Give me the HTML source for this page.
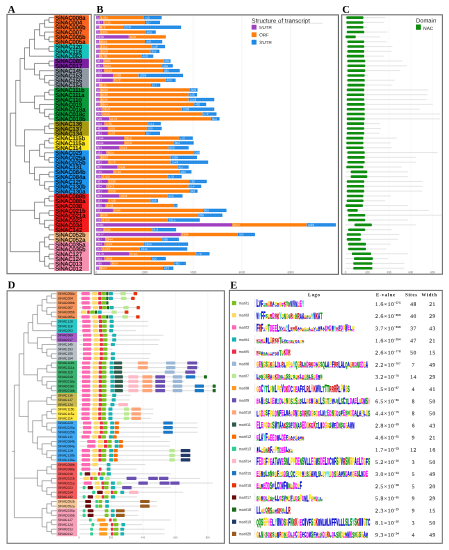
<!DOCTYPE html>
<html lang="en"><head><meta charset="utf-8"><title>SiNAC gene family: phylogeny, gene structure, domains and motifs</title>
<style>html,body{margin:0;padding:0;background:#fff}svg{display:block}</style></head>
<body>
<svg width="449" height="550" viewBox="0 0 449 550" text-rendering="geometricPrecision">
<rect width="449" height="550" fill="#fff"/>
<text x="7.8" y="12.7" transform="rotate(0.05 7.8 12.7)" font-family='"Liberation Serif", serif' font-weight="bold" font-size="10.4" fill="#000">A</text>
<rect x="54.1" y="15.20" width="34.8" height="29.01" fill="#fd6420"/>
<rect x="54.1" y="44.16" width="34.8" height="14.53" fill="#17c5bd"/>
<rect x="54.1" y="58.63" width="34.8" height="9.70" fill="#7b1fa2"/>
<rect x="54.1" y="68.29" width="34.8" height="19.35" fill="#8e99a4"/>
<rect x="54.1" y="87.59" width="34.8" height="33.83" fill="#0a9a3c"/>
<rect x="54.1" y="121.37" width="34.8" height="14.53" fill="#a89a10"/>
<rect x="54.1" y="135.85" width="34.8" height="14.53" fill="#ffe81a"/>
<rect x="54.1" y="150.33" width="34.8" height="43.48" fill="#1e96f0"/>
<rect x="54.1" y="193.76" width="34.8" height="38.66" fill="#f41c1c"/>
<rect x="54.1" y="232.37" width="34.8" height="9.70" fill="#f5b880"/>
<rect x="54.1" y="242.02" width="34.8" height="29.01" fill="#f78fb0"/>
<path d="M49.00 17.61L54.30 17.61M49.00 22.44L54.30 22.44M49.00 17.61L49.00 22.44M44.60 20.03L49.00 20.03M44.60 27.27L54.30 27.27M44.60 20.03L44.60 27.27M49.00 36.92L54.30 36.92M49.00 41.74L54.30 41.74M49.00 36.92L49.00 41.74M44.60 32.09L54.30 32.09M44.60 39.33L49.00 39.33M44.60 32.09L44.60 39.33M39.60 23.65L44.60 23.65M39.60 35.71L44.60 35.71M39.60 23.65L39.60 35.71M49.00 46.57L54.30 46.57M49.00 51.39L54.30 51.39M49.00 46.57L49.00 51.39M34.50 29.68L39.60 29.68M34.50 48.98L49.00 48.98M34.50 29.68L34.50 48.98M29.50 39.33L34.50 39.33M29.50 56.22L54.30 56.22M29.50 39.33L29.50 56.22M49.00 61.05L54.30 61.05M49.00 65.87L54.30 65.87M49.00 61.05L49.00 65.87M49.00 80.35L54.30 80.35M49.00 85.18L54.30 85.18M49.00 80.35L49.00 85.18M44.60 75.52L54.30 75.52M44.60 82.76L49.00 82.76M44.60 75.52L44.60 82.76M39.60 70.70L54.30 70.70M39.60 79.14L44.60 79.14M39.60 70.70L39.60 79.14M34.50 63.46L49.00 63.46M34.50 74.92L39.60 74.92M34.50 63.46L34.50 74.92M24.50 47.78L29.50 47.78M24.50 69.19L34.50 69.19M24.50 47.78L24.50 69.19M49.00 90.00L54.30 90.00M49.00 94.83L54.30 94.83M49.00 90.00L49.00 94.83M44.60 92.42L49.00 92.42M44.60 99.66L54.30 99.66M44.60 92.42L44.60 99.66M49.00 114.13L54.30 114.13M49.00 118.96L54.30 118.96M49.00 114.13L49.00 118.96M44.60 109.31L54.30 109.31M44.60 116.55L49.00 116.55M44.60 109.31L44.60 116.55M39.60 104.48L54.30 104.48M39.60 112.93L44.60 112.93M39.60 104.48L39.60 112.93M34.50 96.04L44.60 96.04M34.50 108.70L39.60 108.70M34.50 96.04L34.50 108.70M20.10 58.48L24.50 58.48M20.10 102.37L34.50 102.37M20.10 58.48L20.10 102.37M49.00 123.78L54.30 123.78M49.00 128.61L54.30 128.61M49.00 123.78L49.00 128.61M44.60 126.20L49.00 126.20M44.60 133.44L54.30 133.44M44.60 126.20L44.60 133.44M49.00 138.26L54.30 138.26M49.00 143.09L54.30 143.09M49.00 138.26L49.00 143.09M44.60 140.68L49.00 140.68M44.60 147.91L54.30 147.91M44.60 140.68L44.60 147.91M49.00 157.57L54.30 157.57M49.00 162.39L54.30 162.39M49.00 157.57L49.00 162.39M44.60 152.74L54.30 152.74M44.60 159.98L49.00 159.98M44.60 152.74L44.60 159.98M39.60 144.30L44.60 144.30M39.60 156.36L44.60 156.36M39.60 144.30L39.60 156.36M49.00 172.04L54.30 172.04M49.00 176.87L54.30 176.87M49.00 172.04L49.00 176.87M49.00 186.52L54.30 186.52M49.00 191.35L54.30 191.35M49.00 186.52L49.00 191.35M44.60 181.70L54.30 181.70M44.60 188.94L49.00 188.94M44.60 181.70L44.60 188.94M39.60 174.46L49.00 174.46M39.60 185.32L44.60 185.32M39.60 174.46L39.60 185.32M34.50 167.22L54.30 167.22M34.50 179.89L39.60 179.89M34.50 167.22L34.50 179.89M29.50 150.33L39.60 150.33M29.50 173.55L34.50 173.55M29.50 150.33L29.50 173.55M24.50 129.82L44.60 129.82M24.50 161.94L29.50 161.94M24.50 129.82L24.50 161.94M15.70 80.43L20.10 80.43M15.70 145.88L24.50 145.88M15.70 80.43L15.70 145.88M49.00 196.17L54.30 196.17M49.00 201.00L54.30 201.00M49.00 196.17L49.00 201.00M44.60 198.59L49.00 198.59M44.60 205.83L54.30 205.83M44.60 198.59L44.60 205.83M49.00 210.65L54.30 210.65M49.00 215.48L54.30 215.48M49.00 210.65L49.00 215.48M49.00 225.13L54.30 225.13M49.00 229.96L54.30 229.96M49.00 225.13L49.00 229.96M44.60 220.30L54.30 220.30M44.60 227.54L49.00 227.54M44.60 220.30L44.60 227.54M39.60 213.07L49.00 213.07M39.60 223.92L44.60 223.92M39.60 213.07L39.60 223.92M34.50 202.21L44.60 202.21M34.50 218.50L39.60 218.50M34.50 202.21L34.50 218.50M49.00 234.78L54.30 234.78M49.00 239.61L54.30 239.61M49.00 234.78L49.00 239.61M49.00 244.43L54.30 244.43M49.00 249.26L54.30 249.26M49.00 244.43L49.00 249.26M44.60 237.20L49.00 237.20M44.60 246.85L49.00 246.85M44.60 237.20L44.60 246.85M49.00 254.09L54.30 254.09M49.00 258.91L54.30 258.91M49.00 254.09L49.00 258.91M49.00 263.74L54.30 263.74M49.00 268.56L54.30 268.56M49.00 263.74L49.00 268.56M44.60 256.50L49.00 256.50M44.60 266.15L49.00 266.15M44.60 256.50L44.60 266.15M39.60 242.02L44.60 242.02M39.60 261.33L44.60 261.33M39.60 242.02L39.60 261.33M10.30 113.15L15.70 113.15M10.30 210.35L34.50 210.35M10.30 251.67L39.60 251.67M10.30 113.15L10.30 251.67M8.40 182.41L10.30 182.41" fill="none" stroke="#444" stroke-width="0.55"/>
<g font-family='"Liberation Sans", sans-serif' font-size="5.75" fill="#000" stroke="#000" stroke-width="0.15">
<text x="55.3" y="19.66" transform="rotate(0.05 55.3 19.66)">SiNAC008a</text>
<text x="55.3" y="24.49" transform="rotate(0.05 55.3 24.49)">SiNAC004</text>
<text x="55.3" y="29.32" transform="rotate(0.05 55.3 29.32)">SiNAC006b</text>
<text x="55.3" y="34.14" transform="rotate(0.05 55.3 34.14)">SiNAC007</text>
<text x="55.3" y="38.97" transform="rotate(0.05 55.3 38.97)">SiNAC005b</text>
<text x="55.3" y="43.79" transform="rotate(0.05 55.3 43.79)">SiNAC005a</text>
<text x="55.3" y="48.62" transform="rotate(0.05 55.3 48.62)">SiNAC120</text>
<text x="55.3" y="53.44" transform="rotate(0.05 55.3 53.44)">SiNAC118</text>
<text x="55.3" y="58.27" transform="rotate(0.05 55.3 58.27)">SiNAC053</text>
<text x="55.3" y="63.10" transform="rotate(0.05 55.3 63.10)">SiNAC089</text>
<text x="55.3" y="67.92" transform="rotate(0.05 55.3 67.92)">SiNAC017</text>
<text x="55.3" y="72.75" transform="rotate(0.05 55.3 72.75)">SiNAC145</text>
<text x="55.3" y="77.57" transform="rotate(0.05 55.3 77.57)">SiNAC153</text>
<text x="55.3" y="82.40" transform="rotate(0.05 55.3 82.40)">SiNAC155</text>
<text x="55.3" y="87.23" transform="rotate(0.05 55.3 87.23)">SiNAC154</text>
<text x="55.3" y="92.05" transform="rotate(0.05 55.3 92.05)">SiNAC111b</text>
<text x="55.3" y="96.88" transform="rotate(0.05 55.3 96.88)">SiNAC111a</text>
<text x="55.3" y="101.70" transform="rotate(0.05 55.3 101.70)">SiNAC110</text>
<text x="55.3" y="106.53" transform="rotate(0.05 55.3 106.53)">SiNAC019</text>
<text x="55.3" y="111.36" transform="rotate(0.05 55.3 111.36)">SiNAC018a</text>
<text x="55.3" y="116.18" transform="rotate(0.05 55.3 116.18)">SiNAC018c</text>
<text x="55.3" y="121.01" transform="rotate(0.05 55.3 121.01)">SiNAC018b</text>
<text x="55.3" y="125.83" transform="rotate(0.05 55.3 125.83)">SiNAC136</text>
<text x="55.3" y="130.66" transform="rotate(0.05 55.3 130.66)">SiNAC137</text>
<text x="55.3" y="135.49" transform="rotate(0.05 55.3 135.49)">SiNAC134</text>
<text x="55.3" y="140.31" transform="rotate(0.05 55.3 140.31)">SiNAC115b</text>
<text x="55.3" y="145.14" transform="rotate(0.05 55.3 145.14)">SiNAC115a</text>
<text x="55.3" y="149.97" transform="rotate(0.05 55.3 149.97)">SiNAC114</text>
<text x="55.3" y="154.79" transform="rotate(0.05 55.3 154.79)">SiNAC029</text>
<text x="55.3" y="159.62" transform="rotate(0.05 55.3 159.62)">SiNAC025a</text>
<text x="55.3" y="164.44" transform="rotate(0.05 55.3 164.44)">SiNAC025b</text>
<text x="55.3" y="169.27" transform="rotate(0.05 55.3 169.27)">SiNAC131</text>
<text x="55.3" y="174.09" transform="rotate(0.05 55.3 174.09)">SiNAC084b</text>
<text x="55.3" y="178.92" transform="rotate(0.05 55.3 178.92)">SiNAC084a</text>
<text x="55.3" y="183.75" transform="rotate(0.05 55.3 183.75)">SiNAC129</text>
<text x="55.3" y="188.57" transform="rotate(0.05 55.3 188.57)">SiNAC130b</text>
<text x="55.3" y="193.40" transform="rotate(0.05 55.3 193.40)">SiNAC130a</text>
<text x="55.3" y="198.22" transform="rotate(0.05 55.3 198.22)">SiNAC088b</text>
<text x="55.3" y="203.05" transform="rotate(0.05 55.3 203.05)">SiNAC088a</text>
<text x="55.3" y="207.88" transform="rotate(0.05 55.3 207.88)">SiNAC038</text>
<text x="55.3" y="212.70" transform="rotate(0.05 55.3 212.70)">SiNAC021b</text>
<text x="55.3" y="217.53" transform="rotate(0.05 55.3 217.53)">SiNAC021a</text>
<text x="55.3" y="222.35" transform="rotate(0.05 55.3 222.35)">SiNAC023</text>
<text x="55.3" y="227.18" transform="rotate(0.05 55.3 227.18)">SiNAC034</text>
<text x="55.3" y="232.01" transform="rotate(0.05 55.3 232.01)">SiNAC142</text>
<text x="55.3" y="236.83" transform="rotate(0.05 55.3 236.83)">SiNAC052b</text>
<text x="55.3" y="241.66" transform="rotate(0.05 55.3 241.66)">SiNAC052a</text>
<text x="55.3" y="246.48" transform="rotate(0.05 55.3 246.48)">SiNAC035a</text>
<text x="55.3" y="251.31" transform="rotate(0.05 55.3 251.31)">SiNAC035b</text>
<text x="55.3" y="256.14" transform="rotate(0.05 55.3 256.14)">SiNAC127</text>
<text x="55.3" y="260.96" transform="rotate(0.05 55.3 260.96)">SiNAC124</text>
<text x="55.3" y="265.79" transform="rotate(0.05 55.3 265.79)">SiNAC013</text>
<text x="55.3" y="270.62" transform="rotate(0.05 55.3 270.62)">SiNAC012</text>
</g>
<rect x="7.00" y="14.40" width="84.20" height="259.30" fill="none" stroke="#6e6e6e" stroke-width="1.1"/>
<text x="96.6" y="12.7" transform="rotate(0.05 96.6 12.7)" font-family='"Liberation Serif", serif' font-weight="bold" font-size="10.4" fill="#000">B</text>
<line x1="144.5" y1="15" x2="144.5" y2="270" stroke="#ececec" stroke-width="0.5"/>
<line x1="193.2" y1="15" x2="193.2" y2="270" stroke="#ececec" stroke-width="0.5"/>
<line x1="241.9" y1="15" x2="241.9" y2="270" stroke="#ececec" stroke-width="0.5"/>
<line x1="290.6" y1="15" x2="290.6" y2="270" stroke="#ececec" stroke-width="0.5"/>
<rect x="96.20" y="15.93" width="3.92" height="3.35" fill="#a040c0"/>
<rect x="100.12" y="15.93" width="43.43" height="3.35" fill="#ff7f0e"/>
<rect x="143.55" y="15.93" width="18.10" height="3.35" fill="#1e88e5"/>
<line x1="150.05" y1="17.61" x2="160.85" y2="17.61" stroke="#fff" stroke-opacity="0.32" stroke-width="0.5" stroke-dasharray="0.8 0.9"/>
<rect x="96.20" y="20.75" width="6.99" height="3.35" fill="#a040c0"/>
<rect x="103.19" y="20.75" width="41.76" height="3.35" fill="#ff7f0e"/>
<rect x="144.95" y="20.75" width="15.03" height="3.35" fill="#1e88e5"/>
<line x1="151.45" y1="22.43" x2="159.18" y2="22.43" stroke="#fff" stroke-opacity="0.32" stroke-width="0.5" stroke-dasharray="0.8 0.9"/>
<rect x="96.20" y="25.57" width="3.37" height="3.35" fill="#a040c0"/>
<rect x="99.57" y="25.57" width="23.66" height="3.35" fill="#ff7f0e"/>
<rect x="123.23" y="25.57" width="57.91" height="3.35" fill="#1e88e5"/>
<line x1="129.73" y1="27.25" x2="180.34" y2="27.25" stroke="#fff" stroke-opacity="0.32" stroke-width="0.5" stroke-dasharray="0.8 0.9"/>
<rect x="96.20" y="30.39" width="3.92" height="3.35" fill="#a040c0"/>
<rect x="100.12" y="30.39" width="45.94" height="3.35" fill="#ff7f0e"/>
<rect x="146.06" y="30.39" width="9.74" height="3.35" fill="#1e88e5"/>
<line x1="152.56" y1="32.07" x2="155.00" y2="32.07" stroke="#fff" stroke-opacity="0.32" stroke-width="0.5" stroke-dasharray="0.8 0.9"/>
<rect x="96.20" y="35.22" width="32.60" height="3.35" fill="#a040c0"/>
<rect x="128.80" y="35.22" width="37.03" height="3.35" fill="#ff7f0e"/>
<rect x="96.20" y="40.04" width="3.37" height="3.35" fill="#a040c0"/>
<rect x="99.57" y="40.04" width="45.38" height="3.35" fill="#ff7f0e"/>
<rect x="144.95" y="40.04" width="17.26" height="3.35" fill="#1e88e5"/>
<line x1="151.45" y1="41.71" x2="161.41" y2="41.71" stroke="#fff" stroke-opacity="0.32" stroke-width="0.5" stroke-dasharray="0.8 0.9"/>
<rect x="96.20" y="44.86" width="3.92" height="3.35" fill="#a040c0"/>
<rect x="100.12" y="44.86" width="51.50" height="3.35" fill="#ff7f0e"/>
<rect x="151.63" y="44.86" width="13.36" height="3.35" fill="#1e88e5"/>
<line x1="158.13" y1="46.53" x2="164.19" y2="46.53" stroke="#fff" stroke-opacity="0.32" stroke-width="0.5" stroke-dasharray="0.8 0.9"/>
<rect x="96.20" y="49.68" width="3.92" height="3.35" fill="#a040c0"/>
<rect x="100.12" y="49.68" width="50.39" height="3.35" fill="#ff7f0e"/>
<rect x="150.51" y="49.68" width="8.91" height="3.35" fill="#1e88e5"/>
<rect x="96.20" y="54.50" width="3.37" height="3.35" fill="#a040c0"/>
<rect x="99.57" y="54.50" width="42.32" height="3.35" fill="#ff7f0e"/>
<rect x="141.88" y="54.50" width="11.41" height="3.35" fill="#1e88e5"/>
<line x1="148.38" y1="56.17" x2="152.50" y2="56.17" stroke="#fff" stroke-opacity="0.32" stroke-width="0.5" stroke-dasharray="0.8 0.9"/>
<rect x="96.20" y="59.32" width="6.99" height="3.35" fill="#a040c0"/>
<rect x="103.19" y="59.32" width="60.41" height="3.35" fill="#ff7f0e"/>
<rect x="163.60" y="59.32" width="6.96" height="3.35" fill="#1e88e5"/>
<rect x="96.20" y="64.14" width="6.99" height="3.35" fill="#a040c0"/>
<rect x="103.19" y="64.14" width="59.02" height="3.35" fill="#ff7f0e"/>
<rect x="162.21" y="64.14" width="10.58" height="3.35" fill="#1e88e5"/>
<line x1="168.71" y1="65.81" x2="171.99" y2="65.81" stroke="#fff" stroke-opacity="0.32" stroke-width="0.5" stroke-dasharray="0.8 0.9"/>
<rect x="96.20" y="68.96" width="8.10" height="3.35" fill="#a040c0"/>
<rect x="104.30" y="68.96" width="58.74" height="3.35" fill="#ff7f0e"/>
<rect x="163.04" y="68.96" width="16.70" height="3.35" fill="#1e88e5"/>
<line x1="169.54" y1="70.63" x2="178.95" y2="70.63" stroke="#fff" stroke-opacity="0.32" stroke-width="0.5" stroke-dasharray="0.8 0.9"/>
<rect x="96.20" y="73.78" width="17.29" height="3.35" fill="#a040c0"/>
<rect x="113.49" y="73.78" width="25.06" height="3.35" fill="#ff7f0e"/>
<rect x="138.54" y="73.78" width="44.54" height="3.35" fill="#1e88e5"/>
<line x1="145.04" y1="75.45" x2="182.29" y2="75.45" stroke="#fff" stroke-opacity="0.32" stroke-width="0.5" stroke-dasharray="0.8 0.9"/>
<rect x="96.20" y="78.60" width="16.73" height="3.35" fill="#a040c0"/>
<rect x="112.93" y="78.60" width="52.90" height="3.35" fill="#ff7f0e"/>
<rect x="165.83" y="78.60" width="9.74" height="3.35" fill="#1e88e5"/>
<line x1="172.33" y1="80.27" x2="174.77" y2="80.27" stroke="#fff" stroke-opacity="0.32" stroke-width="0.5" stroke-dasharray="0.8 0.9"/>
<rect x="96.20" y="83.42" width="3.37" height="3.35" fill="#a040c0"/>
<rect x="99.57" y="83.42" width="51.50" height="3.35" fill="#ff7f0e"/>
<rect x="151.07" y="83.42" width="9.19" height="3.35" fill="#1e88e5"/>
<line x1="157.57" y1="85.09" x2="159.46" y2="85.09" stroke="#fff" stroke-opacity="0.32" stroke-width="0.5" stroke-dasharray="0.8 0.9"/>
<rect x="96.20" y="88.24" width="3.92" height="3.35" fill="#a040c0"/>
<rect x="100.12" y="88.24" width="89.92" height="3.35" fill="#ff7f0e"/>
<rect x="190.05" y="88.24" width="7.52" height="3.35" fill="#1e88e5"/>
<rect x="96.20" y="93.06" width="3.92" height="3.35" fill="#a040c0"/>
<rect x="100.12" y="93.06" width="88.53" height="3.35" fill="#ff7f0e"/>
<rect x="188.65" y="93.06" width="8.35" height="3.35" fill="#1e88e5"/>
<rect x="96.20" y="97.88" width="3.92" height="3.35" fill="#a040c0"/>
<rect x="100.12" y="97.88" width="88.53" height="3.35" fill="#ff7f0e"/>
<rect x="188.65" y="97.88" width="25.61" height="3.35" fill="#1e88e5"/>
<line x1="195.15" y1="99.55" x2="213.47" y2="99.55" stroke="#fff" stroke-opacity="0.32" stroke-width="0.5" stroke-dasharray="0.8 0.9"/>
<rect x="96.20" y="102.70" width="3.92" height="3.35" fill="#a040c0"/>
<rect x="100.12" y="102.70" width="94.10" height="3.35" fill="#ff7f0e"/>
<rect x="194.22" y="102.70" width="11.97" height="3.35" fill="#1e88e5"/>
<line x1="200.72" y1="104.37" x2="205.39" y2="104.37" stroke="#fff" stroke-opacity="0.32" stroke-width="0.5" stroke-dasharray="0.8 0.9"/>
<rect x="96.20" y="107.52" width="6.15" height="3.35" fill="#a040c0"/>
<rect x="102.35" y="107.52" width="79.34" height="3.35" fill="#ff7f0e"/>
<rect x="181.69" y="107.52" width="32.57" height="3.35" fill="#1e88e5"/>
<line x1="188.19" y1="109.19" x2="213.47" y2="109.19" stroke="#fff" stroke-opacity="0.32" stroke-width="0.5" stroke-dasharray="0.8 0.9"/>
<rect x="96.20" y="112.34" width="6.15" height="3.35" fill="#a040c0"/>
<rect x="102.35" y="112.34" width="100.22" height="3.35" fill="#ff7f0e"/>
<rect x="202.57" y="112.34" width="13.92" height="3.35" fill="#1e88e5"/>
<line x1="209.07" y1="114.01" x2="215.69" y2="114.01" stroke="#fff" stroke-opacity="0.32" stroke-width="0.5" stroke-dasharray="0.8 0.9"/>
<rect x="96.20" y="117.16" width="13.11" height="3.35" fill="#a040c0"/>
<rect x="109.31" y="117.16" width="101.61" height="3.35" fill="#ff7f0e"/>
<rect x="210.93" y="117.16" width="8.63" height="3.35" fill="#1e88e5"/>
<rect x="96.20" y="121.98" width="8.38" height="3.35" fill="#a040c0"/>
<rect x="104.58" y="121.98" width="43.71" height="3.35" fill="#ff7f0e"/>
<rect x="148.29" y="121.98" width="12.53" height="3.35" fill="#1e88e5"/>
<line x1="154.79" y1="123.65" x2="160.02" y2="123.65" stroke="#fff" stroke-opacity="0.32" stroke-width="0.5" stroke-dasharray="0.8 0.9"/>
<rect x="96.20" y="126.80" width="11.72" height="3.35" fill="#a040c0"/>
<rect x="107.92" y="126.80" width="38.98" height="3.35" fill="#ff7f0e"/>
<rect x="146.90" y="126.80" width="14.76" height="3.35" fill="#1e88e5"/>
<line x1="153.40" y1="128.47" x2="160.85" y2="128.47" stroke="#fff" stroke-opacity="0.32" stroke-width="0.5" stroke-dasharray="0.8 0.9"/>
<rect x="96.20" y="131.61" width="11.72" height="3.35" fill="#a040c0"/>
<rect x="107.92" y="131.61" width="37.03" height="3.35" fill="#ff7f0e"/>
<rect x="144.95" y="131.61" width="15.03" height="3.35" fill="#1e88e5"/>
<line x1="151.45" y1="133.29" x2="159.18" y2="133.29" stroke="#fff" stroke-opacity="0.32" stroke-width="0.5" stroke-dasharray="0.8 0.9"/>
<rect x="96.20" y="136.44" width="27.87" height="3.35" fill="#a040c0"/>
<rect x="124.07" y="136.44" width="54.84" height="3.35" fill="#ff7f0e"/>
<rect x="178.91" y="136.44" width="13.92" height="3.35" fill="#1e88e5"/>
<line x1="185.41" y1="138.11" x2="192.03" y2="138.11" stroke="#fff" stroke-opacity="0.32" stroke-width="0.5" stroke-dasharray="0.8 0.9"/>
<rect x="96.20" y="141.25" width="27.87" height="3.35" fill="#a040c0"/>
<rect x="124.07" y="141.25" width="50.11" height="3.35" fill="#ff7f0e"/>
<rect x="174.18" y="141.25" width="19.49" height="3.35" fill="#1e88e5"/>
<line x1="180.68" y1="142.93" x2="192.87" y2="142.93" stroke="#fff" stroke-opacity="0.32" stroke-width="0.5" stroke-dasharray="0.8 0.9"/>
<rect x="96.20" y="146.07" width="23.41" height="3.35" fill="#a040c0"/>
<rect x="119.61" y="146.07" width="49.00" height="3.35" fill="#ff7f0e"/>
<rect x="168.61" y="146.07" width="20.04" height="3.35" fill="#1e88e5"/>
<line x1="175.11" y1="147.75" x2="187.85" y2="147.75" stroke="#fff" stroke-opacity="0.32" stroke-width="0.5" stroke-dasharray="0.8 0.9"/>
<rect x="96.20" y="150.89" width="10.33" height="3.35" fill="#a040c0"/>
<rect x="106.53" y="150.89" width="87.69" height="3.35" fill="#ff7f0e"/>
<rect x="194.22" y="150.89" width="5.57" height="3.35" fill="#1e88e5"/>
<rect x="96.20" y="155.71" width="3.92" height="3.35" fill="#a040c0"/>
<rect x="100.12" y="155.71" width="70.43" height="3.35" fill="#ff7f0e"/>
<rect x="170.56" y="155.71" width="26.45" height="3.35" fill="#1e88e5"/>
<line x1="177.06" y1="157.39" x2="196.21" y2="157.39" stroke="#fff" stroke-opacity="0.32" stroke-width="0.5" stroke-dasharray="0.8 0.9"/>
<rect x="96.20" y="160.53" width="11.72" height="3.35" fill="#a040c0"/>
<rect x="107.92" y="160.53" width="62.64" height="3.35" fill="#ff7f0e"/>
<rect x="170.56" y="160.53" width="37.58" height="3.35" fill="#1e88e5"/>
<line x1="177.06" y1="162.21" x2="207.34" y2="162.21" stroke="#fff" stroke-opacity="0.32" stroke-width="0.5" stroke-dasharray="0.8 0.9"/>
<rect x="96.20" y="165.35" width="21.46" height="3.35" fill="#a040c0"/>
<rect x="117.66" y="165.35" width="59.86" height="3.35" fill="#ff7f0e"/>
<rect x="177.52" y="165.35" width="11.14" height="3.35" fill="#1e88e5"/>
<line x1="184.02" y1="167.03" x2="187.85" y2="167.03" stroke="#fff" stroke-opacity="0.32" stroke-width="0.5" stroke-dasharray="0.8 0.9"/>
<rect x="96.20" y="170.17" width="17.29" height="3.35" fill="#a040c0"/>
<rect x="113.49" y="170.17" width="66.26" height="3.35" fill="#ff7f0e"/>
<rect x="179.75" y="170.17" width="11.69" height="3.35" fill="#1e88e5"/>
<line x1="186.25" y1="171.85" x2="190.64" y2="171.85" stroke="#fff" stroke-opacity="0.32" stroke-width="0.5" stroke-dasharray="0.8 0.9"/>
<rect x="96.20" y="174.99" width="5.60" height="3.35" fill="#a040c0"/>
<rect x="101.80" y="174.99" width="65.98" height="3.35" fill="#ff7f0e"/>
<rect x="167.78" y="174.99" width="13.92" height="3.35" fill="#1e88e5"/>
<line x1="174.28" y1="176.67" x2="180.89" y2="176.67" stroke="#fff" stroke-opacity="0.32" stroke-width="0.5" stroke-dasharray="0.8 0.9"/>
<rect x="96.20" y="179.81" width="11.72" height="3.35" fill="#a040c0"/>
<rect x="107.92" y="179.81" width="81.29" height="3.35" fill="#ff7f0e"/>
<rect x="189.21" y="179.81" width="17.54" height="3.35" fill="#1e88e5"/>
<line x1="195.71" y1="181.49" x2="205.95" y2="181.49" stroke="#fff" stroke-opacity="0.32" stroke-width="0.5" stroke-dasharray="0.8 0.9"/>
<rect x="96.20" y="184.63" width="10.33" height="3.35" fill="#a040c0"/>
<rect x="106.53" y="184.63" width="82.13" height="3.35" fill="#ff7f0e"/>
<rect x="188.65" y="184.63" width="12.53" height="3.35" fill="#1e88e5"/>
<line x1="195.15" y1="186.31" x2="200.38" y2="186.31" stroke="#fff" stroke-opacity="0.32" stroke-width="0.5" stroke-dasharray="0.8 0.9"/>
<rect x="96.20" y="189.45" width="11.72" height="3.35" fill="#a040c0"/>
<rect x="107.92" y="189.45" width="81.29" height="3.35" fill="#ff7f0e"/>
<rect x="189.21" y="189.45" width="8.35" height="3.35" fill="#1e88e5"/>
<rect x="96.20" y="194.27" width="23.41" height="3.35" fill="#a040c0"/>
<rect x="119.61" y="194.27" width="48.16" height="3.35" fill="#ff7f0e"/>
<rect x="167.78" y="194.27" width="14.76" height="3.35" fill="#1e88e5"/>
<line x1="174.28" y1="195.95" x2="181.73" y2="195.95" stroke="#fff" stroke-opacity="0.32" stroke-width="0.5" stroke-dasharray="0.8 0.9"/>
<rect x="96.20" y="199.09" width="11.72" height="3.35" fill="#a040c0"/>
<rect x="107.92" y="199.09" width="42.59" height="3.35" fill="#ff7f0e"/>
<rect x="150.51" y="199.09" width="7.52" height="3.35" fill="#1e88e5"/>
<rect x="96.20" y="203.91" width="9.49" height="3.35" fill="#a040c0"/>
<rect x="105.69" y="203.91" width="67.65" height="3.35" fill="#ff7f0e"/>
<rect x="173.34" y="203.91" width="4.18" height="3.35" fill="#1e88e5"/>
<rect x="96.20" y="208.73" width="16.73" height="3.35" fill="#a040c0"/>
<rect x="112.93" y="208.73" width="90.20" height="3.35" fill="#ff7f0e"/>
<rect x="203.13" y="208.73" width="23.37" height="3.35" fill="#1e88e5"/>
<line x1="209.63" y1="210.41" x2="225.70" y2="210.41" stroke="#fff" stroke-opacity="0.32" stroke-width="0.5" stroke-dasharray="0.8 0.9"/>
<rect x="96.20" y="213.55" width="3.92" height="3.35" fill="#a040c0"/>
<rect x="100.12" y="213.55" width="98.27" height="3.35" fill="#ff7f0e"/>
<rect x="198.40" y="213.55" width="24.00" height="3.35" fill="#1e88e5"/>
<line x1="204.90" y1="215.23" x2="221.60" y2="215.23" stroke="#fff" stroke-opacity="0.32" stroke-width="0.5" stroke-dasharray="0.8 0.9"/>
<rect x="96.20" y="218.38" width="5.60" height="3.35" fill="#a040c0"/>
<rect x="101.80" y="218.38" width="65.98" height="3.35" fill="#ff7f0e"/>
<rect x="167.78" y="218.38" width="32.02" height="3.35" fill="#1e88e5"/>
<line x1="174.28" y1="220.05" x2="198.99" y2="220.05" stroke="#fff" stroke-opacity="0.32" stroke-width="0.5" stroke-dasharray="0.8 0.9"/>
<rect x="96.20" y="223.19" width="135.90" height="3.35" fill="#a040c0"/>
<rect x="232.10" y="223.19" width="74.60" height="3.35" fill="#ff7f0e"/>
<rect x="306.70" y="223.19" width="29.20" height="3.35" fill="#1e88e5"/>
<line x1="313.20" y1="224.87" x2="335.10" y2="224.87" stroke="#fff" stroke-opacity="0.32" stroke-width="0.5" stroke-dasharray="0.8 0.9"/>
<rect x="96.20" y="228.01" width="6.71" height="3.35" fill="#a040c0"/>
<rect x="102.91" y="228.01" width="49.55" height="3.35" fill="#ff7f0e"/>
<rect x="152.46" y="228.01" width="23.66" height="3.35" fill="#1e88e5"/>
<line x1="158.96" y1="229.69" x2="175.33" y2="229.69" stroke="#fff" stroke-opacity="0.32" stroke-width="0.5" stroke-dasharray="0.8 0.9"/>
<rect x="96.20" y="232.83" width="84.66" height="3.35" fill="#a040c0"/>
<rect x="180.86" y="232.83" width="56.84" height="3.35" fill="#ff7f0e"/>
<rect x="237.70" y="232.83" width="17.20" height="3.35" fill="#1e88e5"/>
<line x1="244.20" y1="234.51" x2="254.10" y2="234.51" stroke="#fff" stroke-opacity="0.32" stroke-width="0.5" stroke-dasharray="0.8 0.9"/>
<rect x="96.20" y="237.66" width="8.94" height="3.35" fill="#a040c0"/>
<rect x="105.14" y="237.66" width="57.07" height="3.35" fill="#ff7f0e"/>
<rect x="162.21" y="237.66" width="16.70" height="3.35" fill="#1e88e5"/>
<line x1="168.71" y1="239.33" x2="178.11" y2="239.33" stroke="#fff" stroke-opacity="0.32" stroke-width="0.5" stroke-dasharray="0.8 0.9"/>
<rect x="96.20" y="242.47" width="8.38" height="3.35" fill="#a040c0"/>
<rect x="104.58" y="242.47" width="39.53" height="3.35" fill="#ff7f0e"/>
<rect x="144.11" y="242.47" width="43.99" height="3.35" fill="#1e88e5"/>
<line x1="150.61" y1="244.15" x2="187.30" y2="244.15" stroke="#fff" stroke-opacity="0.32" stroke-width="0.5" stroke-dasharray="0.8 0.9"/>
<rect x="96.20" y="247.29" width="6.15" height="3.35" fill="#a040c0"/>
<rect x="102.35" y="247.29" width="37.58" height="3.35" fill="#ff7f0e"/>
<rect x="139.94" y="247.29" width="47.33" height="3.35" fill="#1e88e5"/>
<line x1="146.44" y1="248.97" x2="186.46" y2="248.97" stroke="#fff" stroke-opacity="0.32" stroke-width="0.5" stroke-dasharray="0.8 0.9"/>
<rect x="96.20" y="252.11" width="33.43" height="3.35" fill="#a040c0"/>
<rect x="129.63" y="252.11" width="65.98" height="3.35" fill="#ff7f0e"/>
<rect x="195.61" y="252.11" width="13.92" height="3.35" fill="#1e88e5"/>
<line x1="202.11" y1="253.79" x2="208.73" y2="253.79" stroke="#fff" stroke-opacity="0.32" stroke-width="0.5" stroke-dasharray="0.8 0.9"/>
<rect x="96.20" y="256.94" width="8.38" height="3.35" fill="#a040c0"/>
<rect x="104.58" y="256.94" width="46.49" height="3.35" fill="#ff7f0e"/>
<rect x="151.07" y="256.94" width="14.76" height="3.35" fill="#1e88e5"/>
<line x1="157.57" y1="258.61" x2="165.03" y2="258.61" stroke="#fff" stroke-opacity="0.32" stroke-width="0.5" stroke-dasharray="0.8 0.9"/>
<rect x="96.20" y="261.75" width="14.50" height="3.35" fill="#a040c0"/>
<rect x="110.70" y="261.75" width="63.47" height="3.35" fill="#ff7f0e"/>
<rect x="174.18" y="261.75" width="11.69" height="3.35" fill="#1e88e5"/>
<line x1="180.68" y1="263.43" x2="185.07" y2="263.43" stroke="#fff" stroke-opacity="0.32" stroke-width="0.5" stroke-dasharray="0.8 0.9"/>
<rect x="96.20" y="266.57" width="3.37" height="3.35" fill="#a040c0"/>
<rect x="99.57" y="266.57" width="63.47" height="3.35" fill="#ff7f0e"/>
<rect x="163.04" y="266.57" width="10.30" height="3.35" fill="#1e88e5"/>
<line x1="169.54" y1="268.25" x2="172.54" y2="268.25" stroke="#fff" stroke-opacity="0.32" stroke-width="0.5" stroke-dasharray="0.8 0.9"/>
<g font-family='"Liberation Sans", sans-serif' font-size="3.1" fill="#fff" fill-opacity="0.8"><text x="96.90" y="18.71" transform="rotate(0.05 96.90 18.71)">161</text><text x="100.82" y="18.71" transform="rotate(0.05 100.82 18.71)">1784</text><text x="144.25" y="18.71" transform="rotate(0.05 144.25 18.71)">743</text><text x="96.90" y="23.53" transform="rotate(0.05 96.90 23.53)">287</text><text x="103.89" y="23.53" transform="rotate(0.05 103.89 23.53)">1715</text><text x="145.65" y="23.53" transform="rotate(0.05 145.65 23.53)">617</text><text x="96.90" y="28.35" transform="rotate(0.05 96.90 28.35)">138</text><text x="100.27" y="28.35" transform="rotate(0.05 100.27 28.35)">972</text><text x="123.93" y="28.35" transform="rotate(0.05 123.93 28.35)">2378</text><text x="96.90" y="33.17" transform="rotate(0.05 96.90 33.17)">161</text><text x="100.82" y="33.17" transform="rotate(0.05 100.82 33.17)">1886</text><text x="146.76" y="33.17" transform="rotate(0.05 146.76 33.17)">400</text><text x="96.90" y="37.99" transform="rotate(0.05 96.90 37.99)">1339</text><text x="129.50" y="37.99" transform="rotate(0.05 129.50 37.99)">1521</text><text x="96.90" y="42.81" transform="rotate(0.05 96.90 42.81)">138</text><text x="100.27" y="42.81" transform="rotate(0.05 100.27 42.81)">1864</text><text x="145.65" y="42.81" transform="rotate(0.05 145.65 42.81)">709</text><text x="96.90" y="47.63" transform="rotate(0.05 96.90 47.63)">161</text><text x="100.82" y="47.63" transform="rotate(0.05 100.82 47.63)">2115</text><text x="152.33" y="47.63" transform="rotate(0.05 152.33 47.63)">549</text><text x="96.90" y="52.45" transform="rotate(0.05 96.90 52.45)">161</text><text x="100.82" y="52.45" transform="rotate(0.05 100.82 52.45)">2069</text><text x="151.21" y="52.45" transform="rotate(0.05 151.21 52.45)">366</text><text x="96.90" y="57.27" transform="rotate(0.05 96.90 57.27)">138</text><text x="100.27" y="57.27" transform="rotate(0.05 100.27 57.27)">1738</text><text x="142.58" y="57.27" transform="rotate(0.05 142.58 57.27)">469</text><text x="96.90" y="62.09" transform="rotate(0.05 96.90 62.09)">287</text><text x="103.89" y="62.09" transform="rotate(0.05 103.89 62.09)">2481</text><text x="164.30" y="62.09" transform="rotate(0.05 164.30 62.09)">286</text><text x="96.90" y="66.91" transform="rotate(0.05 96.90 66.91)">287</text><text x="103.89" y="66.91" transform="rotate(0.05 103.89 66.91)">2424</text><text x="162.91" y="66.91" transform="rotate(0.05 162.91 66.91)">434</text><text x="96.90" y="71.73" transform="rotate(0.05 96.90 71.73)">333</text><text x="105.00" y="71.73" transform="rotate(0.05 105.00 71.73)">2412</text><text x="163.74" y="71.73" transform="rotate(0.05 163.74 71.73)">686</text><text x="96.90" y="76.55" transform="rotate(0.05 96.90 76.55)">710</text><text x="114.19" y="76.55" transform="rotate(0.05 114.19 76.55)">1029</text><text x="139.24" y="76.55" transform="rotate(0.05 139.24 76.55)">1829</text><text x="96.90" y="81.37" transform="rotate(0.05 96.90 81.37)">687</text><text x="113.63" y="81.37" transform="rotate(0.05 113.63 81.37)">2172</text><text x="166.53" y="81.37" transform="rotate(0.05 166.53 81.37)">400</text><text x="96.90" y="86.19" transform="rotate(0.05 96.90 86.19)">138</text><text x="100.27" y="86.19" transform="rotate(0.05 100.27 86.19)">2115</text><text x="151.77" y="86.19" transform="rotate(0.05 151.77 86.19)">377</text><text x="96.90" y="91.01" transform="rotate(0.05 96.90 91.01)">161</text><text x="100.82" y="91.01" transform="rotate(0.05 100.82 91.01)">3693</text><text x="190.75" y="91.01" transform="rotate(0.05 190.75 91.01)">309</text><text x="96.90" y="95.83" transform="rotate(0.05 96.90 95.83)">161</text><text x="100.82" y="95.83" transform="rotate(0.05 100.82 95.83)">3636</text><text x="189.35" y="95.83" transform="rotate(0.05 189.35 95.83)">343</text><text x="96.90" y="100.65" transform="rotate(0.05 96.90 100.65)">161</text><text x="100.82" y="100.65" transform="rotate(0.05 100.82 100.65)">3636</text><text x="189.35" y="100.65" transform="rotate(0.05 189.35 100.65)">1052</text><text x="96.90" y="105.47" transform="rotate(0.05 96.90 105.47)">161</text><text x="100.82" y="105.47" transform="rotate(0.05 100.82 105.47)">3864</text><text x="194.92" y="105.47" transform="rotate(0.05 194.92 105.47)">492</text><text x="96.90" y="110.29" transform="rotate(0.05 96.90 110.29)">253</text><text x="103.05" y="110.29" transform="rotate(0.05 103.05 110.29)">3258</text><text x="182.39" y="110.29" transform="rotate(0.05 182.39 110.29)">1338</text><text x="96.90" y="115.11" transform="rotate(0.05 96.90 115.11)">253</text><text x="103.05" y="115.11" transform="rotate(0.05 103.05 115.11)">4116</text><text x="203.27" y="115.11" transform="rotate(0.05 203.27 115.11)">572</text><text x="96.90" y="119.93" transform="rotate(0.05 96.90 119.93)">538</text><text x="110.01" y="119.93" transform="rotate(0.05 110.01 119.93)">4173</text><text x="211.63" y="119.93" transform="rotate(0.05 211.63 119.93)">354</text><text x="96.90" y="124.75" transform="rotate(0.05 96.90 124.75)">344</text><text x="105.28" y="124.75" transform="rotate(0.05 105.28 124.75)">1795</text><text x="148.99" y="124.75" transform="rotate(0.05 148.99 124.75)">514</text><text x="96.90" y="129.57" transform="rotate(0.05 96.90 129.57)">481</text><text x="108.62" y="129.57" transform="rotate(0.05 108.62 129.57)">1601</text><text x="147.60" y="129.57" transform="rotate(0.05 147.60 129.57)">606</text><text x="96.90" y="134.39" transform="rotate(0.05 96.90 134.39)">481</text><text x="108.62" y="134.39" transform="rotate(0.05 108.62 134.39)">1521</text><text x="145.65" y="134.39" transform="rotate(0.05 145.65 134.39)">617</text><text x="96.90" y="139.21" transform="rotate(0.05 96.90 139.21)">1144</text><text x="124.77" y="139.21" transform="rotate(0.05 124.77 139.21)">2252</text><text x="179.61" y="139.21" transform="rotate(0.05 179.61 139.21)">572</text><text x="96.90" y="144.03" transform="rotate(0.05 96.90 144.03)">1144</text><text x="124.77" y="144.03" transform="rotate(0.05 124.77 144.03)">2058</text><text x="174.88" y="144.03" transform="rotate(0.05 174.88 144.03)">800</text><text x="96.90" y="148.85" transform="rotate(0.05 96.90 148.85)">961</text><text x="120.31" y="148.85" transform="rotate(0.05 120.31 148.85)">2012</text><text x="169.31" y="148.85" transform="rotate(0.05 169.31 148.85)">823</text><text x="96.90" y="153.67" transform="rotate(0.05 96.90 153.67)">424</text><text x="107.23" y="153.67" transform="rotate(0.05 107.23 153.67)">3601</text><text x="194.92" y="153.67" transform="rotate(0.05 194.92 153.67)">229</text><text x="96.90" y="158.49" transform="rotate(0.05 96.90 158.49)">161</text><text x="100.82" y="158.49" transform="rotate(0.05 100.82 158.49)">2893</text><text x="171.26" y="158.49" transform="rotate(0.05 171.26 158.49)">1086</text><text x="96.90" y="163.31" transform="rotate(0.05 96.90 163.31)">481</text><text x="108.62" y="163.31" transform="rotate(0.05 108.62 163.31)">2572</text><text x="171.26" y="163.31" transform="rotate(0.05 171.26 163.31)">1543</text><text x="96.90" y="168.13" transform="rotate(0.05 96.90 168.13)">881</text><text x="118.36" y="168.13" transform="rotate(0.05 118.36 168.13)">2458</text><text x="178.22" y="168.13" transform="rotate(0.05 178.22 168.13)">457</text><text x="96.90" y="172.95" transform="rotate(0.05 96.90 172.95)">710</text><text x="114.19" y="172.95" transform="rotate(0.05 114.19 172.95)">2721</text><text x="180.45" y="172.95" transform="rotate(0.05 180.45 172.95)">480</text><text x="96.90" y="177.77" transform="rotate(0.05 96.90 177.77)">230</text><text x="102.50" y="177.77" transform="rotate(0.05 102.50 177.77)">2710</text><text x="168.48" y="177.77" transform="rotate(0.05 168.48 177.77)">572</text><text x="96.90" y="182.59" transform="rotate(0.05 96.90 182.59)">481</text><text x="108.62" y="182.59" transform="rotate(0.05 108.62 182.59)">3338</text><text x="189.91" y="182.59" transform="rotate(0.05 189.91 182.59)">720</text><text x="96.90" y="187.41" transform="rotate(0.05 96.90 187.41)">424</text><text x="107.23" y="187.41" transform="rotate(0.05 107.23 187.41)">3373</text><text x="189.35" y="187.41" transform="rotate(0.05 189.35 187.41)">514</text><text x="96.90" y="192.23" transform="rotate(0.05 96.90 192.23)">481</text><text x="108.62" y="192.23" transform="rotate(0.05 108.62 192.23)">3338</text><text x="189.91" y="192.23" transform="rotate(0.05 189.91 192.23)">343</text><text x="96.90" y="197.05" transform="rotate(0.05 96.90 197.05)">961</text><text x="120.31" y="197.05" transform="rotate(0.05 120.31 197.05)">1978</text><text x="168.48" y="197.05" transform="rotate(0.05 168.48 197.05)">606</text><text x="96.90" y="201.87" transform="rotate(0.05 96.90 201.87)">481</text><text x="108.62" y="201.87" transform="rotate(0.05 108.62 201.87)">1749</text><text x="151.21" y="201.87" transform="rotate(0.05 151.21 201.87)">309</text><text x="96.90" y="206.69" transform="rotate(0.05 96.90 206.69)">390</text><text x="106.39" y="206.69" transform="rotate(0.05 106.39 206.69)">2778</text><text x="174.04" y="206.69" transform="rotate(0.05 174.04 206.69)">171</text><text x="96.90" y="211.51" transform="rotate(0.05 96.90 211.51)">687</text><text x="113.63" y="211.51" transform="rotate(0.05 113.63 211.51)">3704</text><text x="203.83" y="211.51" transform="rotate(0.05 203.83 211.51)">960</text><text x="96.90" y="216.33" transform="rotate(0.05 96.90 216.33)">161</text><text x="100.82" y="216.33" transform="rotate(0.05 100.82 216.33)">4036</text><text x="199.10" y="216.33" transform="rotate(0.05 199.10 216.33)">986</text><text x="96.90" y="221.15" transform="rotate(0.05 96.90 221.15)">230</text><text x="102.50" y="221.15" transform="rotate(0.05 102.50 221.15)">2710</text><text x="168.48" y="221.15" transform="rotate(0.05 168.48 221.15)">1315</text><text x="96.90" y="225.97" transform="rotate(0.05 96.90 225.97)">5581</text><text x="232.80" y="225.97" transform="rotate(0.05 232.80 225.97)">3064</text><text x="307.40" y="225.97" transform="rotate(0.05 307.40 225.97)">1199</text><text x="96.90" y="230.79" transform="rotate(0.05 96.90 230.79)">276</text><text x="103.61" y="230.79" transform="rotate(0.05 103.61 230.79)">2035</text><text x="153.16" y="230.79" transform="rotate(0.05 153.16 230.79)">972</text><text x="96.90" y="235.61" transform="rotate(0.05 96.90 235.61)">3477</text><text x="181.56" y="235.61" transform="rotate(0.05 181.56 235.61)">2334</text><text x="238.40" y="235.61" transform="rotate(0.05 238.40 235.61)">706</text><text x="96.90" y="240.43" transform="rotate(0.05 96.90 240.43)">367</text><text x="105.84" y="240.43" transform="rotate(0.05 105.84 240.43)">2344</text><text x="162.91" y="240.43" transform="rotate(0.05 162.91 240.43)">686</text><text x="96.90" y="245.25" transform="rotate(0.05 96.90 245.25)">344</text><text x="105.28" y="245.25" transform="rotate(0.05 105.28 245.25)">1624</text><text x="144.81" y="245.25" transform="rotate(0.05 144.81 245.25)">1806</text><text x="96.90" y="250.07" transform="rotate(0.05 96.90 250.07)">253</text><text x="103.05" y="250.07" transform="rotate(0.05 103.05 250.07)">1543</text><text x="140.64" y="250.07" transform="rotate(0.05 140.64 250.07)">1944</text><text x="96.90" y="254.89" transform="rotate(0.05 96.90 254.89)">1373</text><text x="130.33" y="254.89" transform="rotate(0.05 130.33 254.89)">2710</text><text x="196.31" y="254.89" transform="rotate(0.05 196.31 254.89)">572</text><text x="96.90" y="259.71" transform="rotate(0.05 96.90 259.71)">344</text><text x="105.28" y="259.71" transform="rotate(0.05 105.28 259.71)">1909</text><text x="151.77" y="259.71" transform="rotate(0.05 151.77 259.71)">606</text><text x="96.90" y="264.53" transform="rotate(0.05 96.90 264.53)">596</text><text x="111.40" y="264.53" transform="rotate(0.05 111.40 264.53)">2607</text><text x="174.88" y="264.53" transform="rotate(0.05 174.88 264.53)">480</text><text x="96.90" y="269.35" transform="rotate(0.05 96.90 269.35)">138</text><text x="100.27" y="269.35" transform="rotate(0.05 100.27 269.35)">2607</text><text x="163.74" y="269.35" transform="rotate(0.05 163.74 269.35)">423</text></g>
<g font-family='"Liberation Sans", sans-serif' font-size="2.8" fill="#666" text-anchor="middle">
<text x="96.4" y="273.2" transform="rotate(0.05 96.4 273.2)">0</text>
<text x="144.5" y="273.2" transform="rotate(0.05 144.5 273.2)">2000</text>
<text x="193.2" y="273.2" transform="rotate(0.05 193.2 273.2)">4000</text>
<text x="241.9" y="273.2" transform="rotate(0.05 241.9 273.2)">6000</text>
<text x="290.6" y="273.2" transform="rotate(0.05 290.6 273.2)">8000</text>
</g>
<text x="251.6" y="22.7" transform="rotate(0.05 251.6 22.7)" font-family='"Liberation Sans", sans-serif' font-size="6.1" fill="#222">Structure of transcript</text>
<line x1="251.3" y1="23.3" x2="322.6" y2="23.3" stroke="#bbb" stroke-width="0.4"/>
<rect x="251.6" y="24.8" width="4.9" height="4.8" fill="#a040c0"/>
<text x="259.2" y="29.1" transform="rotate(0.05 259.2 29.1)" font-family='"Liberation Sans", sans-serif' font-size="4.5" fill="#111">5'UTR</text>
<rect x="251.6" y="32.3" width="4.9" height="4.8" fill="#ff7f0e"/>
<text x="259.2" y="36.6" transform="rotate(0.05 259.2 36.6)" font-family='"Liberation Sans", sans-serif' font-size="4.5" fill="#111">ORF</text>
<rect x="251.6" y="39.8" width="4.9" height="4.8" fill="#1e88e5"/>
<text x="259.2" y="44.1" transform="rotate(0.05 259.2 44.1)" font-family='"Liberation Sans", sans-serif' font-size="4.5" fill="#111">3'UTR</text>
<rect x="94.40" y="14.80" width="244.00" height="259.50" fill="none" stroke="#555" stroke-width="1.0"/>
<path d="M94.4 274.3V14.8H338.4" fill="none" stroke="#a4a4a4" stroke-width="1.3"/>
<text x="342.3" y="12.7" transform="rotate(0.05 342.3 12.7)" font-family='"Liberation Serif", serif' font-weight="bold" font-size="10.4" fill="#000">C</text>
<line x1="367.3" y1="15" x2="367.3" y2="270" stroke="#f7f7f7" stroke-width="0.5"/>
<line x1="389.0" y1="15" x2="389.0" y2="270" stroke="#f7f7f7" stroke-width="0.5"/>
<line x1="410.8" y1="15" x2="410.8" y2="270" stroke="#f7f7f7" stroke-width="0.5"/>
<line x1="432.6" y1="15" x2="432.6" y2="270" stroke="#f7f7f7" stroke-width="0.5"/>
<line x1="345.5" y1="17.61" x2="385.23" y2="17.61" stroke="#cdcdcd" stroke-width="0.5"/>
<rect x="346.30" y="16.31" width="17.16" height="2.6" rx="0.9" fill="#0d8c0d"/>
<line x1="345.5" y1="22.43" x2="383.95" y2="22.43" stroke="#cdcdcd" stroke-width="0.5"/>
<rect x="346.30" y="21.13" width="17.16" height="2.6" rx="0.9" fill="#0d8c0d"/>
<line x1="345.5" y1="27.25" x2="367.30" y2="27.25" stroke="#cdcdcd" stroke-width="0.5"/>
<rect x="346.81" y="25.95" width="16.65" height="2.6" rx="0.9" fill="#0d8c0d"/>
<line x1="345.5" y1="32.07" x2="387.28" y2="32.07" stroke="#cdcdcd" stroke-width="0.5"/>
<rect x="346.81" y="30.77" width="17.42" height="2.6" rx="0.9" fill="#0d8c0d"/>
<line x1="345.5" y1="36.89" x2="380.11" y2="36.89" stroke="#cdcdcd" stroke-width="0.5"/>
<rect x="345.53" y="35.59" width="10.25" height="2.6" rx="0.9" fill="#0d8c0d"/>
<line x1="345.5" y1="41.71" x2="386.51" y2="41.71" stroke="#cdcdcd" stroke-width="0.5"/>
<rect x="347.32" y="40.41" width="16.91" height="2.6" rx="0.9" fill="#0d8c0d"/>
<line x1="345.5" y1="46.53" x2="392.40" y2="46.53" stroke="#cdcdcd" stroke-width="0.5"/>
<rect x="347.32" y="45.23" width="16.91" height="2.6" rx="0.9" fill="#0d8c0d"/>
<line x1="345.5" y1="51.35" x2="391.63" y2="51.35" stroke="#cdcdcd" stroke-width="0.5"/>
<rect x="347.32" y="50.05" width="16.91" height="2.6" rx="0.9" fill="#0d8c0d"/>
<line x1="345.5" y1="56.17" x2="383.95" y2="56.17" stroke="#cdcdcd" stroke-width="0.5"/>
<rect x="346.81" y="54.87" width="17.42" height="2.6" rx="0.9" fill="#0d8c0d"/>
<line x1="345.5" y1="60.99" x2="402.65" y2="60.99" stroke="#cdcdcd" stroke-width="0.5"/>
<rect x="347.32" y="59.69" width="17.93" height="2.6" rx="0.9" fill="#0d8c0d"/>
<line x1="345.5" y1="65.81" x2="407.00" y2="65.81" stroke="#cdcdcd" stroke-width="0.5"/>
<rect x="347.32" y="64.51" width="17.93" height="2.6" rx="0.9" fill="#0d8c0d"/>
<line x1="345.5" y1="70.63" x2="400.09" y2="70.63" stroke="#cdcdcd" stroke-width="0.5"/>
<rect x="347.32" y="69.33" width="17.93" height="2.6" rx="0.9" fill="#0d8c0d"/>
<line x1="345.5" y1="75.45" x2="367.81" y2="75.45" stroke="#cdcdcd" stroke-width="0.5"/>
<rect x="347.32" y="74.15" width="17.42" height="2.6" rx="0.9" fill="#0d8c0d"/>
<line x1="345.5" y1="80.27" x2="394.96" y2="80.27" stroke="#cdcdcd" stroke-width="0.5"/>
<rect x="347.32" y="78.97" width="17.42" height="2.6" rx="0.9" fill="#0d8c0d"/>
<line x1="345.5" y1="85.09" x2="392.40" y2="85.09" stroke="#cdcdcd" stroke-width="0.5"/>
<rect x="347.32" y="83.79" width="17.42" height="2.6" rx="0.9" fill="#0d8c0d"/>
<line x1="345.5" y1="89.91" x2="428.26" y2="89.91" stroke="#cdcdcd" stroke-width="0.5"/>
<rect x="346.81" y="88.61" width="17.42" height="2.6" rx="0.9" fill="#0d8c0d"/>
<line x1="345.5" y1="94.73" x2="427.49" y2="94.73" stroke="#cdcdcd" stroke-width="0.5"/>
<rect x="346.81" y="93.43" width="17.42" height="2.6" rx="0.9" fill="#0d8c0d"/>
<line x1="345.5" y1="99.55" x2="426.73" y2="99.55" stroke="#cdcdcd" stroke-width="0.5"/>
<rect x="346.81" y="98.25" width="17.42" height="2.6" rx="0.9" fill="#0d8c0d"/>
<line x1="345.5" y1="104.37" x2="432.62" y2="104.37" stroke="#cdcdcd" stroke-width="0.5"/>
<rect x="346.81" y="103.07" width="17.93" height="2.6" rx="0.9" fill="#0d8c0d"/>
<line x1="345.5" y1="109.19" x2="419.81" y2="109.19" stroke="#cdcdcd" stroke-width="0.5"/>
<rect x="346.81" y="107.89" width="17.93" height="2.6" rx="0.9" fill="#0d8c0d"/>
<line x1="345.5" y1="114.01" x2="440.30" y2="114.01" stroke="#cdcdcd" stroke-width="0.5"/>
<rect x="346.81" y="112.71" width="17.93" height="2.6" rx="0.9" fill="#0d8c0d"/>
<line x1="345.5" y1="118.83" x2="440.30" y2="118.83" stroke="#cdcdcd" stroke-width="0.5"/>
<rect x="346.81" y="117.53" width="17.93" height="2.6" rx="0.9" fill="#0d8c0d"/>
<line x1="345.5" y1="123.65" x2="380.11" y2="123.65" stroke="#cdcdcd" stroke-width="0.5"/>
<rect x="346.81" y="122.35" width="17.42" height="2.6" rx="0.9" fill="#0d8c0d"/>
<line x1="345.5" y1="128.47" x2="380.88" y2="128.47" stroke="#cdcdcd" stroke-width="0.5"/>
<rect x="346.81" y="127.17" width="17.42" height="2.6" rx="0.9" fill="#0d8c0d"/>
<line x1="345.5" y1="133.29" x2="379.59" y2="133.29" stroke="#cdcdcd" stroke-width="0.5"/>
<rect x="346.81" y="131.99" width="17.42" height="2.6" rx="0.9" fill="#0d8c0d"/>
<line x1="345.5" y1="138.11" x2="396.76" y2="138.11" stroke="#cdcdcd" stroke-width="0.5"/>
<rect x="346.30" y="136.81" width="17.16" height="2.6" rx="0.9" fill="#0d8c0d"/>
<line x1="345.5" y1="142.93" x2="390.86" y2="142.93" stroke="#cdcdcd" stroke-width="0.5"/>
<rect x="346.30" y="141.63" width="17.16" height="2.6" rx="0.9" fill="#0d8c0d"/>
<line x1="345.5" y1="147.75" x2="391.63" y2="147.75" stroke="#cdcdcd" stroke-width="0.5"/>
<rect x="346.30" y="146.45" width="17.16" height="2.6" rx="0.9" fill="#0d8c0d"/>
<line x1="345.5" y1="152.57" x2="437.74" y2="152.57" stroke="#cdcdcd" stroke-width="0.5"/>
<rect x="347.32" y="151.27" width="17.42" height="2.6" rx="0.9" fill="#0d8c0d"/>
<line x1="345.5" y1="157.39" x2="415.97" y2="157.39" stroke="#cdcdcd" stroke-width="0.5"/>
<rect x="347.32" y="156.09" width="17.42" height="2.6" rx="0.9" fill="#0d8c0d"/>
<line x1="345.5" y1="162.21" x2="415.97" y2="162.21" stroke="#cdcdcd" stroke-width="0.5"/>
<rect x="347.32" y="160.91" width="17.42" height="2.6" rx="0.9" fill="#0d8c0d"/>
<line x1="345.5" y1="167.03" x2="401.88" y2="167.03" stroke="#cdcdcd" stroke-width="0.5"/>
<rect x="346.30" y="165.73" width="17.16" height="2.6" rx="0.9" fill="#0d8c0d"/>
<line x1="345.5" y1="171.85" x2="408.28" y2="171.85" stroke="#cdcdcd" stroke-width="0.5"/>
<rect x="350.65" y="170.55" width="16.65" height="2.6" rx="0.9" fill="#0d8c0d"/>
<line x1="345.5" y1="176.67" x2="408.28" y2="176.67" stroke="#cdcdcd" stroke-width="0.5"/>
<rect x="350.65" y="175.37" width="16.65" height="2.6" rx="0.9" fill="#0d8c0d"/>
<line x1="345.5" y1="181.49" x2="422.37" y2="181.49" stroke="#cdcdcd" stroke-width="0.5"/>
<rect x="346.81" y="180.19" width="17.42" height="2.6" rx="0.9" fill="#0d8c0d"/>
<line x1="345.5" y1="186.31" x2="422.37" y2="186.31" stroke="#cdcdcd" stroke-width="0.5"/>
<rect x="346.81" y="185.01" width="17.42" height="2.6" rx="0.9" fill="#0d8c0d"/>
<line x1="345.5" y1="191.13" x2="422.37" y2="191.13" stroke="#cdcdcd" stroke-width="0.5"/>
<rect x="346.81" y="189.83" width="17.42" height="2.6" rx="0.9" fill="#0d8c0d"/>
<line x1="345.5" y1="195.95" x2="390.86" y2="195.95" stroke="#cdcdcd" stroke-width="0.5"/>
<rect x="346.81" y="194.65" width="16.65" height="2.6" rx="0.9" fill="#0d8c0d"/>
<line x1="345.5" y1="200.77" x2="385.23" y2="200.77" stroke="#cdcdcd" stroke-width="0.5"/>
<rect x="346.81" y="199.47" width="16.65" height="2.6" rx="0.9" fill="#0d8c0d"/>
<line x1="345.5" y1="205.59" x2="408.28" y2="205.59" stroke="#cdcdcd" stroke-width="0.5"/>
<rect x="345.53" y="204.29" width="17.42" height="2.6" rx="0.9" fill="#0d8c0d"/>
<line x1="345.5" y1="210.41" x2="428.77" y2="210.41" stroke="#cdcdcd" stroke-width="0.5"/>
<rect x="347.32" y="209.11" width="10.50" height="2.6" rx="0.9" fill="#0d8c0d"/>
<line x1="345.5" y1="215.23" x2="441.58" y2="215.23" stroke="#cdcdcd" stroke-width="0.5"/>
<rect x="348.09" y="213.93" width="17.16" height="2.6" rx="0.9" fill="#0d8c0d"/>
<line x1="345.5" y1="220.05" x2="408.28" y2="220.05" stroke="#cdcdcd" stroke-width="0.5"/>
<rect x="348.09" y="218.75" width="17.16" height="2.6" rx="0.9" fill="#0d8c0d"/>
<line x1="345.5" y1="224.87" x2="415.97" y2="224.87" stroke="#cdcdcd" stroke-width="0.5"/>
<rect x="354.49" y="223.57" width="17.42" height="2.6" rx="0.9" fill="#0d8c0d"/>
<line x1="345.5" y1="229.69" x2="391.63" y2="229.69" stroke="#cdcdcd" stroke-width="0.5"/>
<rect x="348.09" y="228.39" width="17.16" height="2.6" rx="0.9" fill="#0d8c0d"/>
<line x1="345.5" y1="234.51" x2="399.32" y2="234.51" stroke="#cdcdcd" stroke-width="0.5"/>
<rect x="346.81" y="233.21" width="14.09" height="2.6" rx="0.9" fill="#0d8c0d"/>
<line x1="345.5" y1="239.33" x2="398.04" y2="239.33" stroke="#cdcdcd" stroke-width="0.5"/>
<rect x="346.81" y="238.03" width="14.09" height="2.6" rx="0.9" fill="#0d8c0d"/>
<line x1="345.5" y1="244.15" x2="390.35" y2="244.15" stroke="#cdcdcd" stroke-width="0.5"/>
<rect x="348.09" y="242.85" width="17.93" height="2.6" rx="0.9" fill="#0d8c0d"/>
<line x1="345.5" y1="248.97" x2="386.51" y2="248.97" stroke="#cdcdcd" stroke-width="0.5"/>
<rect x="348.09" y="247.67" width="17.93" height="2.6" rx="0.9" fill="#0d8c0d"/>
<line x1="345.5" y1="253.79" x2="408.28" y2="253.79" stroke="#cdcdcd" stroke-width="0.5"/>
<rect x="351.93" y="252.49" width="19.21" height="2.6" rx="0.9" fill="#0d8c0d"/>
<line x1="345.5" y1="258.61" x2="387.79" y2="258.61" stroke="#cdcdcd" stroke-width="0.5"/>
<rect x="353.98" y="257.31" width="18.95" height="2.6" rx="0.9" fill="#0d8c0d"/>
<line x1="345.5" y1="263.43" x2="404.44" y2="263.43" stroke="#cdcdcd" stroke-width="0.5"/>
<rect x="353.21" y="262.13" width="19.21" height="2.6" rx="0.9" fill="#0d8c0d"/>
<line x1="345.5" y1="268.25" x2="404.44" y2="268.25" stroke="#cdcdcd" stroke-width="0.5"/>
<rect x="353.21" y="266.95" width="19.21" height="2.6" rx="0.9" fill="#0d8c0d"/>
<g font-family='"Liberation Sans", sans-serif' font-size="2.8" fill="#666" text-anchor="middle">
<text x="345.5" y="273.3" transform="rotate(0.05 345.5 273.3)">0</text>
<text x="367.3" y="273.3" transform="rotate(0.05 367.3 273.3)">200</text>
<text x="389.0" y="273.3" transform="rotate(0.05 389.0 273.3)">400</text>
<text x="410.8" y="273.3" transform="rotate(0.05 410.8 273.3)">600</text>
<text x="432.6" y="273.3" transform="rotate(0.05 432.6 273.3)">800</text>
</g>
<text x="416" y="22.5" transform="rotate(0.05 416 22.5)" font-family='"Liberation Sans", sans-serif' font-size="5.85" fill="#222">Domain</text>
<rect x="416" y="24.5" width="4.9" height="5.3" fill="#0d8c0d"/>
<text x="423.3" y="29.9" transform="rotate(0.05 423.3 29.9)" font-family='"Liberation Sans", sans-serif' font-size="4.7" fill="#111">NAC</text>
<rect x="341.70" y="14.80" width="100.70" height="259.40" fill="none" stroke="#6e6e6e" stroke-width="1.1"/>
<text x="7.7" y="288.3" transform="rotate(0.05 7.7 288.3)" font-family='"Liberation Serif", serif' font-weight="bold" font-size="10.4" fill="#000">D</text>
<rect x="56.6" y="291.40" width="20.5" height="27.76" fill="#f4945c"/>
<rect x="56.6" y="319.11" width="20.5" height="13.90" fill="#2bc8c8"/>
<rect x="56.6" y="332.96" width="20.5" height="9.29" fill="#a55fc9"/>
<rect x="56.6" y="342.20" width="20.5" height="18.52" fill="#b8c0c8"/>
<rect x="56.6" y="360.67" width="20.5" height="32.38" fill="#3cb371"/>
<rect x="56.6" y="393.00" width="20.5" height="13.90" fill="#c8b850"/>
<rect x="56.6" y="406.85" width="20.5" height="13.90" fill="#ffe640"/>
<rect x="56.6" y="420.70" width="20.5" height="41.61" fill="#3fa9f5"/>
<rect x="56.6" y="462.27" width="20.5" height="36.99" fill="#f45a5a"/>
<rect x="56.6" y="499.21" width="20.5" height="9.29" fill="#f8c898"/>
<rect x="56.6" y="508.45" width="20.5" height="27.76" fill="#f8a0b8"/>
<path d="M51.40 293.71L56.60 293.71M51.40 298.33L56.60 298.33M51.40 293.71L51.40 298.33M46.80 296.02L51.40 296.02M46.80 302.94L56.60 302.94M46.80 296.02L46.80 302.94M51.40 312.18L56.60 312.18M51.40 316.80L56.60 316.80M51.40 312.18L51.40 316.80M46.80 307.56L56.60 307.56M46.80 314.49L51.40 314.49M46.80 307.56L46.80 314.49M42.10 299.48L46.80 299.48M42.10 311.03L46.80 311.03M42.10 299.48L42.10 311.03M51.40 321.42L56.60 321.42M51.40 326.03L56.60 326.03M51.40 321.42L51.40 326.03M37.40 305.25L42.10 305.25M37.40 323.73L51.40 323.73M37.40 305.25L37.40 323.73M32.70 314.49L37.40 314.49M32.70 330.65L56.60 330.65M32.70 314.49L32.70 330.65M51.40 335.27L56.60 335.27M51.40 339.89L56.60 339.89M51.40 335.27L51.40 339.89M51.40 353.74L56.60 353.74M51.40 358.36L56.60 358.36M51.40 353.74L51.40 358.36M46.80 349.12L56.60 349.12M46.80 356.05L51.40 356.05M46.80 349.12L46.80 356.05M42.10 344.51L56.60 344.51M42.10 352.59L46.80 352.59M42.10 344.51L42.10 352.59M37.40 337.58L51.40 337.58M37.40 348.55L42.10 348.55M37.40 337.58L37.40 348.55M28.20 322.57L32.70 322.57M28.20 343.06L37.40 343.06M28.20 322.57L28.20 343.06M51.40 362.98L56.60 362.98M51.40 367.60L56.60 367.60M51.40 362.98L51.40 367.60M46.80 365.29L51.40 365.29M46.80 372.21L56.60 372.21M46.80 365.29L46.80 372.21M51.40 386.07L56.60 386.07M51.40 390.69L56.60 390.69M51.40 386.07L51.40 390.69M46.80 381.45L56.60 381.45M46.80 388.38L51.40 388.38M46.80 381.45L46.80 388.38M42.10 376.83L56.60 376.83M42.10 384.91L46.80 384.91M42.10 376.83L42.10 384.91M37.40 368.75L46.80 368.75M37.40 380.87L42.10 380.87M37.40 368.75L37.40 380.87M23.80 332.82L28.20 332.82M23.80 374.81L37.40 374.81M23.80 332.82L23.80 374.81M51.40 395.30L56.60 395.30M51.40 399.92L56.60 399.92M51.40 395.30L51.40 399.92M46.80 397.61L51.40 397.61M46.80 404.54L56.60 404.54M46.80 397.61L46.80 404.54M51.40 409.16L56.60 409.16M51.40 413.78L56.60 413.78M51.40 409.16L51.40 413.78M46.80 411.47L51.40 411.47M46.80 418.39L56.60 418.39M46.80 411.47L46.80 418.39M51.40 427.63L56.60 427.63M51.40 432.25L56.60 432.25M51.40 427.63L51.40 432.25M46.80 423.01L56.60 423.01M46.80 429.94L51.40 429.94M46.80 423.01L46.80 429.94M42.10 414.93L46.80 414.93M42.10 426.48L46.80 426.48M42.10 414.93L42.10 426.48M51.40 441.49L56.60 441.49M51.40 446.10L56.60 446.10M51.40 441.49L51.40 446.10M51.40 455.34L56.60 455.34M51.40 459.96L56.60 459.96M51.40 455.34L51.40 459.96M46.80 450.72L56.60 450.72M46.80 457.65L51.40 457.65M46.80 450.72L46.80 457.65M42.10 443.79L51.40 443.79M42.10 454.18L46.80 454.18M42.10 443.79L42.10 454.18M37.40 436.87L56.60 436.87M37.40 448.99L42.10 448.99M37.40 436.87L37.40 448.99M32.70 420.70L42.10 420.70M32.70 442.93L37.40 442.93M32.70 420.70L32.70 442.93M28.20 401.08L46.80 401.08M28.20 431.82L32.70 431.82M28.20 401.08L28.20 431.82M19.20 353.82L23.80 353.82M19.20 416.45L28.20 416.45M19.20 353.82L19.20 416.45M51.40 464.57L56.60 464.57M51.40 469.19L56.60 469.19M51.40 464.57L51.40 469.19M46.80 466.88L51.40 466.88M46.80 473.81L56.60 473.81M46.80 466.88L46.80 473.81M51.40 478.43L56.60 478.43M51.40 483.05L56.60 483.05M51.40 478.43L51.40 483.05M51.40 492.28L56.60 492.28M51.40 496.90L56.60 496.90M51.40 492.28L51.40 496.90M46.80 487.66L56.60 487.66M46.80 494.59L51.40 494.59M46.80 487.66L46.80 494.59M42.10 480.74L51.40 480.74M42.10 491.13L46.80 491.13M42.10 480.74L42.10 491.13M37.40 470.35L46.80 470.35M37.40 485.93L42.10 485.93M37.40 470.35L37.40 485.93M51.40 501.52L56.60 501.52M51.40 506.14L56.60 506.14M51.40 501.52L51.40 506.14M51.40 510.75L56.60 510.75M51.40 515.37L56.60 515.37M51.40 510.75L51.40 515.37M46.80 503.83L51.40 503.83M46.80 513.06L51.40 513.06M46.80 503.83L46.80 513.06M51.40 519.99L56.60 519.99M51.40 524.61L56.60 524.61M51.40 519.99L51.40 524.61M51.40 529.23L56.60 529.23M51.40 533.85L56.60 533.85M51.40 529.23L51.40 533.85M46.80 522.30L51.40 522.30M46.80 531.54L51.40 531.54M46.80 522.30L46.80 531.54M42.10 508.45L46.80 508.45M42.10 526.92L46.80 526.92M42.10 508.45L42.10 526.92M14.40 385.13L19.20 385.13M14.40 478.14L37.40 478.14M14.40 517.68L42.10 517.68M14.40 385.13L14.40 517.68M12.20 451.41L14.40 451.41" fill="none" stroke="#666" stroke-width="0.5"/>
<g font-family='"Liberation Sans", sans-serif' font-size="3.25" fill="#000">
<text x="57.7" y="294.81" transform="rotate(0.05 57.7 294.81)">SiNAC008a</text>
<text x="57.7" y="299.43" transform="rotate(0.05 57.7 299.43)">SiNAC004</text>
<text x="57.7" y="304.05" transform="rotate(0.05 57.7 304.05)">SiNAC006b</text>
<text x="57.7" y="308.66" transform="rotate(0.05 57.7 308.66)">SiNAC007</text>
<text x="57.7" y="313.28" transform="rotate(0.05 57.7 313.28)">SiNAC005b</text>
<text x="57.7" y="317.90" transform="rotate(0.05 57.7 317.90)">SiNAC005a</text>
<text x="57.7" y="322.52" transform="rotate(0.05 57.7 322.52)">SiNAC120</text>
<text x="57.7" y="327.13" transform="rotate(0.05 57.7 327.13)">SiNAC118</text>
<text x="57.7" y="331.75" transform="rotate(0.05 57.7 331.75)">SiNAC053</text>
<text x="57.7" y="336.37" transform="rotate(0.05 57.7 336.37)">SiNAC089</text>
<text x="57.7" y="340.99" transform="rotate(0.05 57.7 340.99)">SiNAC017</text>
<text x="57.7" y="345.61" transform="rotate(0.05 57.7 345.61)">SiNAC145</text>
<text x="57.7" y="350.23" transform="rotate(0.05 57.7 350.23)">SiNAC153</text>
<text x="57.7" y="354.84" transform="rotate(0.05 57.7 354.84)">SiNAC155</text>
<text x="57.7" y="359.46" transform="rotate(0.05 57.7 359.46)">SiNAC154</text>
<text x="57.7" y="364.08" transform="rotate(0.05 57.7 364.08)">SiNAC111b</text>
<text x="57.7" y="368.70" transform="rotate(0.05 57.7 368.70)">SiNAC111a</text>
<text x="57.7" y="373.31" transform="rotate(0.05 57.7 373.31)">SiNAC110</text>
<text x="57.7" y="377.93" transform="rotate(0.05 57.7 377.93)">SiNAC019</text>
<text x="57.7" y="382.55" transform="rotate(0.05 57.7 382.55)">SiNAC018a</text>
<text x="57.7" y="387.17" transform="rotate(0.05 57.7 387.17)">SiNAC018c</text>
<text x="57.7" y="391.79" transform="rotate(0.05 57.7 391.79)">SiNAC018b</text>
<text x="57.7" y="396.40" transform="rotate(0.05 57.7 396.40)">SiNAC136</text>
<text x="57.7" y="401.02" transform="rotate(0.05 57.7 401.02)">SiNAC137</text>
<text x="57.7" y="405.64" transform="rotate(0.05 57.7 405.64)">SiNAC134</text>
<text x="57.7" y="410.26" transform="rotate(0.05 57.7 410.26)">SiNAC115b</text>
<text x="57.7" y="414.88" transform="rotate(0.05 57.7 414.88)">SiNAC115a</text>
<text x="57.7" y="419.50" transform="rotate(0.05 57.7 419.50)">SiNAC114</text>
<text x="57.7" y="424.11" transform="rotate(0.05 57.7 424.11)">SiNAC029</text>
<text x="57.7" y="428.73" transform="rotate(0.05 57.7 428.73)">SiNAC025a</text>
<text x="57.7" y="433.35" transform="rotate(0.05 57.7 433.35)">SiNAC025b</text>
<text x="57.7" y="437.97" transform="rotate(0.05 57.7 437.97)">SiNAC131</text>
<text x="57.7" y="442.59" transform="rotate(0.05 57.7 442.59)">SiNAC084b</text>
<text x="57.7" y="447.20" transform="rotate(0.05 57.7 447.20)">SiNAC084a</text>
<text x="57.7" y="451.82" transform="rotate(0.05 57.7 451.82)">SiNAC129</text>
<text x="57.7" y="456.44" transform="rotate(0.05 57.7 456.44)">SiNAC130b</text>
<text x="57.7" y="461.06" transform="rotate(0.05 57.7 461.06)">SiNAC130a</text>
<text x="57.7" y="465.68" transform="rotate(0.05 57.7 465.68)">SiNAC088b</text>
<text x="57.7" y="470.29" transform="rotate(0.05 57.7 470.29)">SiNAC088a</text>
<text x="57.7" y="474.91" transform="rotate(0.05 57.7 474.91)">SiNAC038</text>
<text x="57.7" y="479.53" transform="rotate(0.05 57.7 479.53)">SiNAC021b</text>
<text x="57.7" y="484.15" transform="rotate(0.05 57.7 484.15)">SiNAC021a</text>
<text x="57.7" y="488.76" transform="rotate(0.05 57.7 488.76)">SiNAC023</text>
<text x="57.7" y="493.38" transform="rotate(0.05 57.7 493.38)">SiNAC034</text>
<text x="57.7" y="498.00" transform="rotate(0.05 57.7 498.00)">SiNAC142</text>
<text x="57.7" y="502.62" transform="rotate(0.05 57.7 502.62)">SiNAC052b</text>
<text x="57.7" y="507.24" transform="rotate(0.05 57.7 507.24)">SiNAC052a</text>
<text x="57.7" y="511.86" transform="rotate(0.05 57.7 511.86)">SiNAC035a</text>
<text x="57.7" y="516.47" transform="rotate(0.05 57.7 516.47)">SiNAC035b</text>
<text x="57.7" y="521.09" transform="rotate(0.05 57.7 521.09)">SiNAC127</text>
<text x="57.7" y="525.71" transform="rotate(0.05 57.7 525.71)">SiNAC124</text>
<text x="57.7" y="530.33" transform="rotate(0.05 57.7 530.33)">SiNAC013</text>
<text x="57.7" y="534.95" transform="rotate(0.05 57.7 534.95)">SiNAC012</text>
</g>
<line x1="111.0" y1="291" x2="111.0" y2="535" stroke="#efefef" stroke-width="0.5"/>
<line x1="143.0" y1="291" x2="143.0" y2="535" stroke="#efefef" stroke-width="0.5"/>
<line x1="175.4" y1="291" x2="175.4" y2="535" stroke="#efefef" stroke-width="0.5"/>
<line x1="207.8" y1="291" x2="207.8" y2="535" stroke="#efefef" stroke-width="0.5"/>
<line x1="79.3" y1="293.71" x2="137.86" y2="293.71" stroke="#bdbdbd" stroke-width="0.5"/>
<rect x="81.49" y="292.11" width="8.23" height="3.2" rx="0.5" fill="#ff69b4"/>
<rect x="92.21" y="292.11" width="4.99" height="3.2" rx="0.5" fill="#ffd966"/>
<rect x="98.20" y="292.11" width="3.24" height="3.2" rx="0.5" fill="#f0284a"/>
<rect x="101.44" y="292.11" width="4.49" height="3.2" rx="0.5" fill="#7ac31e"/>
<rect x="106.18" y="292.11" width="2.24" height="3.2" rx="0.5" fill="#1a6a1a"/>
<rect x="108.93" y="292.11" width="3.99" height="3.2" rx="0.5" fill="#17b3b3"/>
<rect x="120.40" y="292.11" width="5.49" height="3.2" rx="0.5" fill="#b8ea90"/>
<rect x="133.62" y="292.11" width="3.49" height="3.2" rx="0.5" fill="#e8300a"/>
<line x1="79.3" y1="298.33" x2="135.37" y2="298.33" stroke="#bdbdbd" stroke-width="0.5"/>
<rect x="81.49" y="296.73" width="8.23" height="3.2" rx="0.5" fill="#ff69b4"/>
<rect x="92.21" y="296.73" width="4.99" height="3.2" rx="0.5" fill="#ffd966"/>
<rect x="98.20" y="296.73" width="3.24" height="3.2" rx="0.5" fill="#f0284a"/>
<rect x="101.44" y="296.73" width="4.49" height="3.2" rx="0.5" fill="#7ac31e"/>
<rect x="106.18" y="296.73" width="2.24" height="3.2" rx="0.5" fill="#1a6a1a"/>
<rect x="108.93" y="296.73" width="3.99" height="3.2" rx="0.5" fill="#17b3b3"/>
<rect x="120.90" y="296.73" width="5.49" height="3.2" rx="0.5" fill="#b8ea90"/>
<rect x="131.13" y="296.73" width="3.49" height="3.2" rx="0.5" fill="#e8300a"/>
<line x1="79.3" y1="302.94" x2="109.92" y2="302.94" stroke="#bdbdbd" stroke-width="0.5"/>
<rect x="81.49" y="301.34" width="8.23" height="3.2" rx="0.5" fill="#ff69b4"/>
<rect x="92.21" y="301.34" width="4.99" height="3.2" rx="0.5" fill="#ffd966"/>
<rect x="98.20" y="301.34" width="3.24" height="3.2" rx="0.5" fill="#f0284a"/>
<rect x="101.44" y="301.34" width="4.49" height="3.2" rx="0.5" fill="#7ac31e"/>
<rect x="106.18" y="301.34" width="2.24" height="3.2" rx="0.5" fill="#1a6a1a"/>
<line x1="79.3" y1="307.56" x2="140.60" y2="307.56" stroke="#bdbdbd" stroke-width="0.5"/>
<rect x="82.24" y="305.96" width="8.23" height="3.2" rx="0.5" fill="#ff69b4"/>
<rect x="92.96" y="305.96" width="4.99" height="3.2" rx="0.5" fill="#ffd966"/>
<rect x="98.95" y="305.96" width="3.24" height="3.2" rx="0.5" fill="#f0284a"/>
<rect x="102.19" y="305.96" width="4.49" height="3.2" rx="0.5" fill="#7ac31e"/>
<rect x="106.93" y="305.96" width="2.24" height="3.2" rx="0.5" fill="#1a6a1a"/>
<rect x="109.67" y="305.96" width="3.99" height="3.2" rx="0.5" fill="#17b3b3"/>
<rect x="123.39" y="305.96" width="5.24" height="3.2" rx="0.5" fill="#b8ea90"/>
<rect x="136.61" y="305.96" width="3.24" height="3.2" rx="0.5" fill="#e8300a"/>
<line x1="79.3" y1="312.18" x2="129.13" y2="312.18" stroke="#bdbdbd" stroke-width="0.5"/>
<rect x="80.99" y="310.58" width="5.49" height="3.2" rx="0.5" fill="#ffd966"/>
<rect x="87.22" y="310.58" width="2.49" height="3.2" rx="0.5" fill="#f0284a"/>
<rect x="90.22" y="310.58" width="4.49" height="3.2" rx="0.5" fill="#7ac31e"/>
<rect x="94.96" y="310.58" width="2.24" height="3.2" rx="0.5" fill="#1a6a1a"/>
<rect x="97.70" y="310.58" width="3.99" height="3.2" rx="0.5" fill="#17b3b3"/>
<rect x="111.67" y="310.58" width="4.99" height="3.2" rx="0.5" fill="#b8ea90"/>
<rect x="124.64" y="310.58" width="3.74" height="3.2" rx="0.5" fill="#e8300a"/>
<line x1="79.3" y1="316.80" x2="140.36" y2="316.80" stroke="#bdbdbd" stroke-width="0.5"/>
<rect x="81.49" y="315.20" width="8.23" height="3.2" rx="0.5" fill="#ff69b4"/>
<rect x="92.21" y="315.20" width="4.99" height="3.2" rx="0.5" fill="#ffd966"/>
<rect x="98.20" y="315.20" width="3.24" height="3.2" rx="0.5" fill="#f0284a"/>
<rect x="101.44" y="315.20" width="4.49" height="3.2" rx="0.5" fill="#7ac31e"/>
<rect x="106.18" y="315.20" width="2.24" height="3.2" rx="0.5" fill="#1a6a1a"/>
<rect x="108.93" y="315.20" width="3.99" height="3.2" rx="0.5" fill="#17b3b3"/>
<rect x="122.40" y="315.20" width="5.49" height="3.2" rx="0.5" fill="#b8ea90"/>
<rect x="136.11" y="315.20" width="3.49" height="3.2" rx="0.5" fill="#e8300a"/>
<line x1="79.3" y1="321.42" x2="148.34" y2="321.42" stroke="#bdbdbd" stroke-width="0.5"/>
<rect x="82.24" y="319.82" width="8.23" height="3.2" rx="0.5" fill="#ff69b4"/>
<rect x="92.96" y="319.82" width="4.99" height="3.2" rx="0.5" fill="#ffd966"/>
<rect x="98.95" y="319.82" width="3.24" height="3.2" rx="0.5" fill="#f0284a"/>
<rect x="102.19" y="319.82" width="4.49" height="3.2" rx="0.5" fill="#7ac31e"/>
<rect x="109.67" y="319.82" width="3.99" height="3.2" rx="0.5" fill="#17b3b3"/>
<line x1="79.3" y1="326.03" x2="148.34" y2="326.03" stroke="#bdbdbd" stroke-width="0.5"/>
<rect x="82.24" y="324.43" width="8.23" height="3.2" rx="0.5" fill="#ff69b4"/>
<rect x="92.96" y="324.43" width="4.99" height="3.2" rx="0.5" fill="#ffd966"/>
<rect x="98.95" y="324.43" width="3.24" height="3.2" rx="0.5" fill="#f0284a"/>
<rect x="102.19" y="324.43" width="4.49" height="3.2" rx="0.5" fill="#7ac31e"/>
<rect x="109.67" y="324.43" width="3.99" height="3.2" rx="0.5" fill="#17b3b3"/>
<line x1="79.3" y1="330.65" x2="135.87" y2="330.65" stroke="#bdbdbd" stroke-width="0.5"/>
<rect x="82.24" y="329.05" width="8.23" height="3.2" rx="0.5" fill="#ff69b4"/>
<rect x="92.96" y="329.05" width="4.99" height="3.2" rx="0.5" fill="#ffd966"/>
<rect x="98.95" y="329.05" width="3.24" height="3.2" rx="0.5" fill="#f0284a"/>
<rect x="102.19" y="329.05" width="4.49" height="3.2" rx="0.5" fill="#7ac31e"/>
<rect x="109.18" y="329.05" width="3.99" height="3.2" rx="0.5" fill="#17b3b3"/>
<line x1="79.3" y1="335.27" x2="163.30" y2="335.27" stroke="#bdbdbd" stroke-width="0.5"/>
<rect x="82.98" y="333.67" width="8.23" height="3.2" rx="0.5" fill="#ff69b4"/>
<rect x="93.71" y="333.67" width="4.99" height="3.2" rx="0.5" fill="#ffd966"/>
<rect x="99.70" y="333.67" width="3.24" height="3.2" rx="0.5" fill="#f0284a"/>
<rect x="102.94" y="333.67" width="4.49" height="3.2" rx="0.5" fill="#7ac31e"/>
<rect x="112.17" y="333.67" width="3.99" height="3.2" rx="0.5" fill="#17b3b3"/>
<line x1="79.3" y1="339.89" x2="159.56" y2="339.89" stroke="#bdbdbd" stroke-width="0.5"/>
<rect x="82.98" y="338.29" width="8.23" height="3.2" rx="0.5" fill="#ff69b4"/>
<rect x="93.71" y="338.29" width="4.99" height="3.2" rx="0.5" fill="#ffd966"/>
<rect x="99.70" y="338.29" width="3.24" height="3.2" rx="0.5" fill="#f0284a"/>
<rect x="102.94" y="338.29" width="4.49" height="3.2" rx="0.5" fill="#7ac31e"/>
<rect x="112.17" y="338.29" width="3.99" height="3.2" rx="0.5" fill="#17b3b3"/>
<line x1="79.3" y1="344.51" x2="158.31" y2="344.51" stroke="#bdbdbd" stroke-width="0.5"/>
<rect x="82.98" y="342.91" width="8.23" height="3.2" rx="0.5" fill="#ff69b4"/>
<rect x="93.71" y="342.91" width="4.99" height="3.2" rx="0.5" fill="#ffd966"/>
<rect x="99.70" y="342.91" width="3.24" height="3.2" rx="0.5" fill="#f0284a"/>
<rect x="102.94" y="342.91" width="4.49" height="3.2" rx="0.5" fill="#7ac31e"/>
<rect x="110.92" y="342.91" width="3.99" height="3.2" rx="0.5" fill="#17b3b3"/>
<line x1="79.3" y1="349.12" x2="112.42" y2="349.12" stroke="#bdbdbd" stroke-width="0.5"/>
<rect x="82.98" y="347.52" width="8.23" height="3.2" rx="0.5" fill="#ff69b4"/>
<rect x="93.71" y="347.52" width="4.99" height="3.2" rx="0.5" fill="#ffd966"/>
<rect x="99.70" y="347.52" width="3.24" height="3.2" rx="0.5" fill="#f0284a"/>
<rect x="102.94" y="347.52" width="4.49" height="3.2" rx="0.5" fill="#7ac31e"/>
<line x1="79.3" y1="353.74" x2="150.83" y2="353.74" stroke="#bdbdbd" stroke-width="0.5"/>
<rect x="82.98" y="352.14" width="8.23" height="3.2" rx="0.5" fill="#ff69b4"/>
<rect x="93.71" y="352.14" width="4.99" height="3.2" rx="0.5" fill="#ffd966"/>
<rect x="99.70" y="352.14" width="3.24" height="3.2" rx="0.5" fill="#f0284a"/>
<rect x="102.94" y="352.14" width="4.49" height="3.2" rx="0.5" fill="#7ac31e"/>
<rect x="110.92" y="352.14" width="3.99" height="3.2" rx="0.5" fill="#17b3b3"/>
<line x1="79.3" y1="358.36" x2="149.58" y2="358.36" stroke="#bdbdbd" stroke-width="0.5"/>
<rect x="82.98" y="356.76" width="8.23" height="3.2" rx="0.5" fill="#ff69b4"/>
<rect x="93.71" y="356.76" width="4.99" height="3.2" rx="0.5" fill="#ffd966"/>
<rect x="99.70" y="356.76" width="3.24" height="3.2" rx="0.5" fill="#f0284a"/>
<rect x="102.94" y="356.76" width="4.49" height="3.2" rx="0.5" fill="#7ac31e"/>
<rect x="110.92" y="356.76" width="3.99" height="3.2" rx="0.5" fill="#17b3b3"/>
<line x1="79.3" y1="362.98" x2="199.22" y2="362.98" stroke="#bdbdbd" stroke-width="0.5"/>
<rect x="81.99" y="361.38" width="8.23" height="3.2" rx="0.5" fill="#ff69b4"/>
<rect x="92.71" y="361.38" width="4.99" height="3.2" rx="0.5" fill="#ffd966"/>
<rect x="98.70" y="361.38" width="3.24" height="3.2" rx="0.5" fill="#f0284a"/>
<rect x="101.94" y="361.38" width="4.49" height="3.2" rx="0.5" fill="#7ac31e"/>
<rect x="109.67" y="361.38" width="3.99" height="3.2" rx="0.5" fill="#17b3b3"/>
<rect x="113.91" y="361.38" width="8.23" height="3.2" rx="0.5" fill="#2f5b4b"/>
<rect x="137.86" y="361.38" width="9.98" height="3.2" rx="0.5" fill="#ffa477"/>
<rect x="166.05" y="361.38" width="9.23" height="3.2" rx="0.5" fill="#9ab7d8"/>
<rect x="187.25" y="361.38" width="9.98" height="3.2" rx="0.5" fill="#6a4fb0"/>
<line x1="79.3" y1="367.60" x2="199.22" y2="367.60" stroke="#bdbdbd" stroke-width="0.5"/>
<rect x="81.99" y="366.00" width="8.23" height="3.2" rx="0.5" fill="#ff69b4"/>
<rect x="92.71" y="366.00" width="4.99" height="3.2" rx="0.5" fill="#ffd966"/>
<rect x="98.70" y="366.00" width="3.24" height="3.2" rx="0.5" fill="#f0284a"/>
<rect x="101.94" y="366.00" width="4.49" height="3.2" rx="0.5" fill="#7ac31e"/>
<rect x="109.67" y="366.00" width="3.99" height="3.2" rx="0.5" fill="#17b3b3"/>
<rect x="113.91" y="366.00" width="8.23" height="3.2" rx="0.5" fill="#2f5b4b"/>
<rect x="137.86" y="366.00" width="9.98" height="3.2" rx="0.5" fill="#ffa477"/>
<rect x="166.05" y="366.00" width="9.23" height="3.2" rx="0.5" fill="#9ab7d8"/>
<rect x="187.25" y="366.00" width="9.98" height="3.2" rx="0.5" fill="#6a4fb0"/>
<line x1="79.3" y1="372.21" x2="196.73" y2="372.21" stroke="#bdbdbd" stroke-width="0.5"/>
<rect x="81.99" y="370.61" width="8.23" height="3.2" rx="0.5" fill="#ff69b4"/>
<rect x="92.71" y="370.61" width="4.99" height="3.2" rx="0.5" fill="#ffd966"/>
<rect x="98.70" y="370.61" width="3.24" height="3.2" rx="0.5" fill="#f0284a"/>
<rect x="101.94" y="370.61" width="4.49" height="3.2" rx="0.5" fill="#7ac31e"/>
<rect x="109.67" y="370.61" width="3.99" height="3.2" rx="0.5" fill="#17b3b3"/>
<rect x="113.91" y="370.61" width="8.23" height="3.2" rx="0.5" fill="#2f5b4b"/>
<rect x="164.80" y="370.61" width="9.73" height="3.2" rx="0.5" fill="#9ab7d8"/>
<rect x="185.25" y="370.61" width="9.98" height="3.2" rx="0.5" fill="#6a4fb0"/>
<line x1="79.3" y1="376.83" x2="207.20" y2="376.83" stroke="#bdbdbd" stroke-width="0.5"/>
<rect x="81.99" y="375.23" width="8.23" height="3.2" rx="0.5" fill="#ff69b4"/>
<rect x="92.71" y="375.23" width="4.99" height="3.2" rx="0.5" fill="#ffd966"/>
<rect x="98.70" y="375.23" width="3.24" height="3.2" rx="0.5" fill="#f0284a"/>
<rect x="101.94" y="375.23" width="4.49" height="3.2" rx="0.5" fill="#7ac31e"/>
<rect x="110.42" y="375.23" width="3.99" height="3.2" rx="0.5" fill="#17b3b3"/>
<rect x="114.66" y="375.23" width="8.23" height="3.2" rx="0.5" fill="#2f5b4b"/>
<rect x="128.38" y="375.23" width="9.98" height="3.2" rx="0.5" fill="#ffb8c6"/>
<rect x="142.35" y="375.23" width="9.98" height="3.2" rx="0.5" fill="#ffa477"/>
<rect x="155.32" y="375.23" width="9.73" height="3.2" rx="0.5" fill="#6a4fb0"/>
<rect x="172.78" y="375.23" width="9.48" height="3.2" rx="0.5" fill="#9ab7d8"/>
<rect x="185.75" y="375.23" width="9.48" height="3.2" rx="0.5" fill="#1878c8"/>
<rect x="203.96" y="375.23" width="2.99" height="3.2" rx="0.5" fill="#1a6a1a"/>
<line x1="79.3" y1="381.45" x2="184.26" y2="381.45" stroke="#bdbdbd" stroke-width="0.5"/>
<rect x="81.99" y="379.85" width="8.23" height="3.2" rx="0.5" fill="#ff69b4"/>
<rect x="92.71" y="379.85" width="4.99" height="3.2" rx="0.5" fill="#ffd966"/>
<rect x="98.70" y="379.85" width="3.24" height="3.2" rx="0.5" fill="#f0284a"/>
<rect x="101.94" y="379.85" width="4.49" height="3.2" rx="0.5" fill="#7ac31e"/>
<rect x="110.42" y="379.85" width="3.99" height="3.2" rx="0.5" fill="#17b3b3"/>
<rect x="114.66" y="379.85" width="8.23" height="3.2" rx="0.5" fill="#2f5b4b"/>
<rect x="128.38" y="379.85" width="9.98" height="3.2" rx="0.5" fill="#ffb8c6"/>
<rect x="142.35" y="379.85" width="9.98" height="3.2" rx="0.5" fill="#ffa477"/>
<rect x="155.32" y="379.85" width="9.73" height="3.2" rx="0.5" fill="#6a4fb0"/>
<rect x="172.78" y="379.85" width="9.48" height="3.2" rx="0.5" fill="#9ab7d8"/>
<line x1="79.3" y1="386.07" x2="215.94" y2="386.07" stroke="#bdbdbd" stroke-width="0.5"/>
<rect x="81.99" y="384.47" width="8.23" height="3.2" rx="0.5" fill="#ff69b4"/>
<rect x="92.71" y="384.47" width="4.99" height="3.2" rx="0.5" fill="#ffd966"/>
<rect x="98.70" y="384.47" width="3.24" height="3.2" rx="0.5" fill="#f0284a"/>
<rect x="101.94" y="384.47" width="4.49" height="3.2" rx="0.5" fill="#7ac31e"/>
<rect x="110.42" y="384.47" width="3.99" height="3.2" rx="0.5" fill="#17b3b3"/>
<rect x="114.66" y="384.47" width="8.23" height="3.2" rx="0.5" fill="#2f5b4b"/>
<rect x="128.38" y="384.47" width="9.98" height="3.2" rx="0.5" fill="#ffb8c6"/>
<rect x="142.35" y="384.47" width="9.98" height="3.2" rx="0.5" fill="#ffa477"/>
<rect x="155.32" y="384.47" width="9.73" height="3.2" rx="0.5" fill="#6a4fb0"/>
<rect x="172.78" y="384.47" width="9.48" height="3.2" rx="0.5" fill="#9ab7d8"/>
<rect x="194.73" y="384.47" width="9.23" height="3.2" rx="0.5" fill="#1878c8"/>
<rect x="212.69" y="384.47" width="2.99" height="3.2" rx="0.5" fill="#1a6a1a"/>
<line x1="79.3" y1="390.69" x2="215.94" y2="390.69" stroke="#bdbdbd" stroke-width="0.5"/>
<rect x="81.99" y="389.09" width="8.23" height="3.2" rx="0.5" fill="#ff69b4"/>
<rect x="92.71" y="389.09" width="4.99" height="3.2" rx="0.5" fill="#ffd966"/>
<rect x="98.70" y="389.09" width="3.24" height="3.2" rx="0.5" fill="#f0284a"/>
<rect x="101.94" y="389.09" width="4.49" height="3.2" rx="0.5" fill="#7ac31e"/>
<rect x="110.42" y="389.09" width="3.99" height="3.2" rx="0.5" fill="#17b3b3"/>
<rect x="114.66" y="389.09" width="8.23" height="3.2" rx="0.5" fill="#2f5b4b"/>
<rect x="128.38" y="389.09" width="9.98" height="3.2" rx="0.5" fill="#ffb8c6"/>
<rect x="142.35" y="389.09" width="9.98" height="3.2" rx="0.5" fill="#ffa477"/>
<rect x="155.32" y="389.09" width="9.73" height="3.2" rx="0.5" fill="#6a4fb0"/>
<rect x="172.78" y="389.09" width="9.48" height="3.2" rx="0.5" fill="#9ab7d8"/>
<rect x="194.73" y="389.09" width="9.23" height="3.2" rx="0.5" fill="#1878c8"/>
<rect x="212.69" y="389.09" width="2.99" height="3.2" rx="0.5" fill="#1a6a1a"/>
<line x1="79.3" y1="395.30" x2="130.88" y2="395.30" stroke="#bdbdbd" stroke-width="0.5"/>
<rect x="81.99" y="393.70" width="8.23" height="3.2" rx="0.5" fill="#ff69b4"/>
<rect x="92.71" y="393.70" width="4.99" height="3.2" rx="0.5" fill="#ffd966"/>
<rect x="98.70" y="393.70" width="3.24" height="3.2" rx="0.5" fill="#f0284a"/>
<rect x="101.94" y="393.70" width="4.49" height="3.2" rx="0.5" fill="#7ac31e"/>
<rect x="112.17" y="393.70" width="3.99" height="3.2" rx="0.5" fill="#17b3b3"/>
<line x1="79.3" y1="399.92" x2="129.63" y2="399.92" stroke="#bdbdbd" stroke-width="0.5"/>
<rect x="81.99" y="398.32" width="8.23" height="3.2" rx="0.5" fill="#ff69b4"/>
<rect x="92.71" y="398.32" width="4.99" height="3.2" rx="0.5" fill="#ffd966"/>
<rect x="98.70" y="398.32" width="3.24" height="3.2" rx="0.5" fill="#f0284a"/>
<rect x="101.94" y="398.32" width="4.49" height="3.2" rx="0.5" fill="#7ac31e"/>
<rect x="111.67" y="398.32" width="3.99" height="3.2" rx="0.5" fill="#17b3b3"/>
<line x1="79.3" y1="404.54" x2="128.38" y2="404.54" stroke="#bdbdbd" stroke-width="0.5"/>
<rect x="81.99" y="402.94" width="8.23" height="3.2" rx="0.5" fill="#ff69b4"/>
<rect x="92.71" y="402.94" width="4.99" height="3.2" rx="0.5" fill="#ffd966"/>
<rect x="98.70" y="402.94" width="3.24" height="3.2" rx="0.5" fill="#f0284a"/>
<rect x="101.94" y="402.94" width="4.49" height="3.2" rx="0.5" fill="#7ac31e"/>
<rect x="110.42" y="402.94" width="3.99" height="3.2" rx="0.5" fill="#17b3b3"/>
<rect x="118.40" y="402.94" width="9.48" height="3.2" rx="0.5" fill="#ffb8c6"/>
<line x1="79.3" y1="409.16" x2="153.33" y2="409.16" stroke="#bdbdbd" stroke-width="0.5"/>
<rect x="81.49" y="407.56" width="8.23" height="3.2" rx="0.5" fill="#ff69b4"/>
<rect x="92.21" y="407.56" width="4.99" height="3.2" rx="0.5" fill="#ffd966"/>
<rect x="98.20" y="407.56" width="3.24" height="3.2" rx="0.5" fill="#f0284a"/>
<rect x="101.44" y="407.56" width="4.49" height="3.2" rx="0.5" fill="#7ac31e"/>
<rect x="108.43" y="407.56" width="3.99" height="3.2" rx="0.5" fill="#17b3b3"/>
<rect x="123.89" y="407.56" width="5.24" height="3.2" rx="0.5" fill="#b8ea90"/>
<rect x="131.38" y="407.56" width="9.48" height="3.2" rx="0.5" fill="#ffa477"/>
<line x1="79.3" y1="413.78" x2="153.33" y2="413.78" stroke="#bdbdbd" stroke-width="0.5"/>
<rect x="81.49" y="412.18" width="8.23" height="3.2" rx="0.5" fill="#ff69b4"/>
<rect x="92.21" y="412.18" width="4.99" height="3.2" rx="0.5" fill="#ffd966"/>
<rect x="98.20" y="412.18" width="3.24" height="3.2" rx="0.5" fill="#f0284a"/>
<rect x="101.44" y="412.18" width="4.49" height="3.2" rx="0.5" fill="#7ac31e"/>
<rect x="108.43" y="412.18" width="3.99" height="3.2" rx="0.5" fill="#17b3b3"/>
<rect x="123.89" y="412.18" width="5.24" height="3.2" rx="0.5" fill="#b8ea90"/>
<rect x="131.38" y="412.18" width="9.48" height="3.2" rx="0.5" fill="#ffa477"/>
<line x1="79.3" y1="418.39" x2="150.83" y2="418.39" stroke="#bdbdbd" stroke-width="0.5"/>
<rect x="81.49" y="416.79" width="8.23" height="3.2" rx="0.5" fill="#ff69b4"/>
<rect x="92.21" y="416.79" width="4.99" height="3.2" rx="0.5" fill="#ffd966"/>
<rect x="98.20" y="416.79" width="3.24" height="3.2" rx="0.5" fill="#f0284a"/>
<rect x="101.44" y="416.79" width="4.49" height="3.2" rx="0.5" fill="#7ac31e"/>
<rect x="108.43" y="416.79" width="3.99" height="3.2" rx="0.5" fill="#17b3b3"/>
<rect x="123.89" y="416.79" width="5.24" height="3.2" rx="0.5" fill="#b8ea90"/>
<rect x="131.38" y="416.79" width="9.48" height="3.2" rx="0.5" fill="#ffa477"/>
<line x1="79.3" y1="423.01" x2="197.73" y2="423.01" stroke="#bdbdbd" stroke-width="0.5"/>
<rect x="82.98" y="421.41" width="8.23" height="3.2" rx="0.5" fill="#ff69b4"/>
<rect x="93.71" y="421.41" width="4.99" height="3.2" rx="0.5" fill="#ffd966"/>
<rect x="99.70" y="421.41" width="3.24" height="3.2" rx="0.5" fill="#f0284a"/>
<rect x="102.94" y="421.41" width="4.49" height="3.2" rx="0.5" fill="#7ac31e"/>
<rect x="110.17" y="421.41" width="3.99" height="3.2" rx="0.5" fill="#17b3b3"/>
<rect x="114.66" y="421.41" width="4.24" height="3.2" rx="0.5" fill="#ff6a00"/>
<rect x="163.30" y="421.41" width="9.48" height="3.2" rx="0.5" fill="#1878c8"/>
<line x1="79.3" y1="427.63" x2="197.73" y2="427.63" stroke="#bdbdbd" stroke-width="0.5"/>
<rect x="82.98" y="426.03" width="8.23" height="3.2" rx="0.5" fill="#ff69b4"/>
<rect x="93.71" y="426.03" width="4.99" height="3.2" rx="0.5" fill="#ffd966"/>
<rect x="99.70" y="426.03" width="3.24" height="3.2" rx="0.5" fill="#f0284a"/>
<rect x="102.94" y="426.03" width="4.49" height="3.2" rx="0.5" fill="#7ac31e"/>
<rect x="110.17" y="426.03" width="3.99" height="3.2" rx="0.5" fill="#17b3b3"/>
<rect x="114.66" y="426.03" width="4.24" height="3.2" rx="0.5" fill="#ff6a00"/>
<rect x="163.30" y="426.03" width="9.48" height="3.2" rx="0.5" fill="#1878c8"/>
<line x1="79.3" y1="432.25" x2="197.73" y2="432.25" stroke="#bdbdbd" stroke-width="0.5"/>
<rect x="82.98" y="430.65" width="8.23" height="3.2" rx="0.5" fill="#ff69b4"/>
<rect x="93.71" y="430.65" width="4.99" height="3.2" rx="0.5" fill="#ffd966"/>
<rect x="99.70" y="430.65" width="3.24" height="3.2" rx="0.5" fill="#f0284a"/>
<rect x="102.94" y="430.65" width="4.49" height="3.2" rx="0.5" fill="#7ac31e"/>
<rect x="110.17" y="430.65" width="3.99" height="3.2" rx="0.5" fill="#17b3b3"/>
<rect x="114.66" y="430.65" width="4.24" height="3.2" rx="0.5" fill="#ff6a00"/>
<rect x="163.30" y="430.65" width="9.48" height="3.2" rx="0.5" fill="#1878c8"/>
<line x1="79.3" y1="436.87" x2="160.31" y2="436.87" stroke="#bdbdbd" stroke-width="0.5"/>
<rect x="81.49" y="435.27" width="8.23" height="3.2" rx="0.5" fill="#ff69b4"/>
<rect x="92.21" y="435.27" width="4.99" height="3.2" rx="0.5" fill="#ffd966"/>
<rect x="98.20" y="435.27" width="3.24" height="3.2" rx="0.5" fill="#f0284a"/>
<rect x="101.44" y="435.27" width="4.49" height="3.2" rx="0.5" fill="#7ac31e"/>
<rect x="108.93" y="435.27" width="3.99" height="3.2" rx="0.5" fill="#17b3b3"/>
<rect x="112.92" y="435.27" width="3.74" height="3.2" rx="0.5" fill="#ff6a00"/>
<line x1="79.3" y1="441.49" x2="169.79" y2="441.49" stroke="#bdbdbd" stroke-width="0.5"/>
<rect x="87.22" y="439.88" width="8.23" height="3.2" rx="0.5" fill="#ff69b4"/>
<rect x="97.95" y="439.88" width="4.99" height="3.2" rx="0.5" fill="#ffd966"/>
<rect x="103.94" y="439.88" width="3.24" height="3.2" rx="0.5" fill="#f0284a"/>
<rect x="107.18" y="439.88" width="4.49" height="3.2" rx="0.5" fill="#7ac31e"/>
<rect x="114.66" y="439.88" width="3.99" height="3.2" rx="0.5" fill="#17b3b3"/>
<rect x="118.90" y="439.88" width="3.99" height="3.2" rx="0.5" fill="#ff6a00"/>
<line x1="79.3" y1="446.10" x2="169.79" y2="446.10" stroke="#bdbdbd" stroke-width="0.5"/>
<rect x="87.22" y="444.50" width="8.23" height="3.2" rx="0.5" fill="#ff69b4"/>
<rect x="97.95" y="444.50" width="4.99" height="3.2" rx="0.5" fill="#ffd966"/>
<rect x="103.94" y="444.50" width="3.24" height="3.2" rx="0.5" fill="#f0284a"/>
<rect x="107.18" y="444.50" width="4.49" height="3.2" rx="0.5" fill="#7ac31e"/>
<rect x="114.66" y="444.50" width="3.99" height="3.2" rx="0.5" fill="#17b3b3"/>
<rect x="118.90" y="444.50" width="3.99" height="3.2" rx="0.5" fill="#ff6a00"/>
<line x1="79.3" y1="450.72" x2="190.74" y2="450.72" stroke="#bdbdbd" stroke-width="0.5"/>
<rect x="81.74" y="449.12" width="8.23" height="3.2" rx="0.5" fill="#ff69b4"/>
<rect x="92.46" y="449.12" width="4.99" height="3.2" rx="0.5" fill="#ffd966"/>
<rect x="98.45" y="449.12" width="3.24" height="3.2" rx="0.5" fill="#f0284a"/>
<rect x="101.69" y="449.12" width="4.49" height="3.2" rx="0.5" fill="#7ac31e"/>
<rect x="109.18" y="449.12" width="3.99" height="3.2" rx="0.5" fill="#17b3b3"/>
<rect x="113.67" y="449.12" width="3.99" height="3.2" rx="0.5" fill="#ff6a00"/>
<rect x="169.29" y="449.12" width="5.49" height="3.2" rx="0.5" fill="#b8ea90"/>
<rect x="180.76" y="449.12" width="9.48" height="3.2" rx="0.5" fill="#1f3a68"/>
<line x1="79.3" y1="455.34" x2="190.74" y2="455.34" stroke="#bdbdbd" stroke-width="0.5"/>
<rect x="81.74" y="453.74" width="8.23" height="3.2" rx="0.5" fill="#ff69b4"/>
<rect x="92.46" y="453.74" width="4.99" height="3.2" rx="0.5" fill="#ffd966"/>
<rect x="98.45" y="453.74" width="3.24" height="3.2" rx="0.5" fill="#f0284a"/>
<rect x="101.69" y="453.74" width="4.49" height="3.2" rx="0.5" fill="#7ac31e"/>
<rect x="109.18" y="453.74" width="3.99" height="3.2" rx="0.5" fill="#17b3b3"/>
<rect x="113.67" y="453.74" width="3.99" height="3.2" rx="0.5" fill="#ff6a00"/>
<rect x="169.29" y="453.74" width="5.49" height="3.2" rx="0.5" fill="#b8ea90"/>
<rect x="180.76" y="453.74" width="9.48" height="3.2" rx="0.5" fill="#1f3a68"/>
<line x1="79.3" y1="459.96" x2="190.74" y2="459.96" stroke="#bdbdbd" stroke-width="0.5"/>
<rect x="81.74" y="458.36" width="8.23" height="3.2" rx="0.5" fill="#ff69b4"/>
<rect x="92.46" y="458.36" width="4.99" height="3.2" rx="0.5" fill="#ffd966"/>
<rect x="98.45" y="458.36" width="3.24" height="3.2" rx="0.5" fill="#f0284a"/>
<rect x="101.69" y="458.36" width="4.49" height="3.2" rx="0.5" fill="#7ac31e"/>
<rect x="109.18" y="458.36" width="3.99" height="3.2" rx="0.5" fill="#17b3b3"/>
<rect x="113.67" y="458.36" width="3.99" height="3.2" rx="0.5" fill="#ff6a00"/>
<rect x="169.29" y="458.36" width="5.49" height="3.2" rx="0.5" fill="#b8ea90"/>
<rect x="180.76" y="458.36" width="9.48" height="3.2" rx="0.5" fill="#1f3a68"/>
<line x1="79.3" y1="464.57" x2="145.34" y2="464.57" stroke="#bdbdbd" stroke-width="0.5"/>
<rect x="81.49" y="462.97" width="8.73" height="3.2" rx="0.5" fill="#ff69b4"/>
<rect x="92.21" y="462.97" width="5.49" height="3.2" rx="0.5" fill="#ffd966"/>
<rect x="106.68" y="462.97" width="3.74" height="3.2" rx="0.5" fill="#17b3b3"/>
<line x1="79.3" y1="469.19" x2="136.61" y2="469.19" stroke="#bdbdbd" stroke-width="0.5"/>
<rect x="81.49" y="467.59" width="8.73" height="3.2" rx="0.5" fill="#ff69b4"/>
<rect x="98.95" y="467.59" width="2.49" height="3.2" rx="0.5" fill="#f0284a"/>
<rect x="106.68" y="467.59" width="3.74" height="3.2" rx="0.5" fill="#17b3b3"/>
<line x1="79.3" y1="473.81" x2="170.79" y2="473.81" stroke="#bdbdbd" stroke-width="0.5"/>
<rect x="79.74" y="472.21" width="2.49" height="3.2" rx="0.5" fill="#2ecf8f"/>
<rect x="84.73" y="472.21" width="5.49" height="3.2" rx="0.5" fill="#6b0a0a"/>
<rect x="91.47" y="472.21" width="4.99" height="3.2" rx="0.5" fill="#ffd966"/>
<rect x="97.95" y="472.21" width="2.49" height="3.2" rx="0.5" fill="#f0284a"/>
<rect x="100.94" y="472.21" width="4.24" height="3.2" rx="0.5" fill="#7ac31e"/>
<rect x="106.68" y="472.21" width="4.24" height="3.2" rx="0.5" fill="#17b3b3"/>
<line x1="79.3" y1="478.43" x2="200.22" y2="478.43" stroke="#bdbdbd" stroke-width="0.5"/>
<rect x="83.48" y="476.83" width="5.49" height="3.2" rx="0.5" fill="#ffd966"/>
<rect x="90.22" y="476.83" width="2.49" height="3.2" rx="0.5" fill="#f0284a"/>
<rect x="93.21" y="476.83" width="3.99" height="3.2" rx="0.5" fill="#7ac31e"/>
<rect x="99.70" y="476.83" width="3.74" height="3.2" rx="0.5" fill="#17b3b3"/>
<rect x="105.18" y="476.83" width="4.49" height="3.2" rx="0.5" fill="#b8ea90"/>
<rect x="126.64" y="476.83" width="9.73" height="3.2" rx="0.5" fill="#6a4fb0"/>
<rect x="148.34" y="476.83" width="9.48" height="3.2" rx="0.5" fill="#6a4fb0"/>
<rect x="159.06" y="476.83" width="9.23" height="3.2" rx="0.5" fill="#6a4fb0"/>
<line x1="79.3" y1="483.05" x2="212.69" y2="483.05" stroke="#bdbdbd" stroke-width="0.5"/>
<rect x="83.73" y="481.45" width="7.98" height="3.2" rx="0.5" fill="#ff69b4"/>
<rect x="94.71" y="481.45" width="4.74" height="3.2" rx="0.5" fill="#ffd966"/>
<rect x="101.44" y="481.45" width="2.49" height="3.2" rx="0.5" fill="#f0284a"/>
<rect x="103.94" y="481.45" width="4.74" height="3.2" rx="0.5" fill="#7ac31e"/>
<rect x="110.92" y="481.45" width="3.99" height="3.2" rx="0.5" fill="#17b3b3"/>
<rect x="116.91" y="481.45" width="4.49" height="3.2" rx="0.5" fill="#b8ea90"/>
<rect x="138.36" y="481.45" width="9.48" height="3.2" rx="0.5" fill="#6a4fb0"/>
<rect x="159.56" y="481.45" width="9.98" height="3.2" rx="0.5" fill="#6a4fb0"/>
<rect x="170.29" y="481.45" width="9.23" height="3.2" rx="0.5" fill="#6a4fb0"/>
<line x1="79.3" y1="487.66" x2="170.79" y2="487.66" stroke="#bdbdbd" stroke-width="0.5"/>
<rect x="82.73" y="486.06" width="2.74" height="3.2" rx="0.5" fill="#2ecf8f"/>
<rect x="87.72" y="486.06" width="5.24" height="3.2" rx="0.5" fill="#6b0a0a"/>
<rect x="95.46" y="486.06" width="4.99" height="3.2" rx="0.5" fill="#ffd966"/>
<rect x="101.69" y="486.06" width="2.49" height="3.2" rx="0.5" fill="#f0284a"/>
<rect x="104.19" y="486.06" width="4.24" height="3.2" rx="0.5" fill="#7ac31e"/>
<rect x="110.92" y="486.06" width="4.24" height="3.2" rx="0.5" fill="#17b3b3"/>
<rect x="122.15" y="486.06" width="9.48" height="3.2" rx="0.5" fill="#6a4fb0"/>
<line x1="79.3" y1="492.28" x2="183.26" y2="492.28" stroke="#bdbdbd" stroke-width="0.5"/>
<rect x="92.21" y="490.68" width="2.99" height="3.2" rx="0.5" fill="#2ecf8f"/>
<rect x="97.20" y="490.68" width="5.49" height="3.2" rx="0.5" fill="#6b0a0a"/>
<rect x="104.69" y="490.68" width="4.99" height="3.2" rx="0.5" fill="#ffd966"/>
<rect x="110.92" y="490.68" width="2.49" height="3.2" rx="0.5" fill="#f0284a"/>
<rect x="113.42" y="490.68" width="3.74" height="3.2" rx="0.5" fill="#7ac31e"/>
<rect x="120.40" y="490.68" width="3.74" height="3.2" rx="0.5" fill="#17b3b3"/>
<rect x="129.13" y="490.68" width="9.23" height="3.2" rx="0.5" fill="#ffb8c6"/>
<line x1="79.3" y1="496.90" x2="137.11" y2="496.90" stroke="#bdbdbd" stroke-width="0.5"/>
<rect x="82.73" y="495.30" width="2.74" height="3.2" rx="0.5" fill="#2ecf8f"/>
<rect x="87.72" y="495.30" width="5.24" height="3.2" rx="0.5" fill="#6b0a0a"/>
<rect x="95.46" y="495.30" width="4.99" height="3.2" rx="0.5" fill="#ffd966"/>
<rect x="101.69" y="495.30" width="2.49" height="3.2" rx="0.5" fill="#f0284a"/>
<rect x="104.19" y="495.30" width="4.24" height="3.2" rx="0.5" fill="#7ac31e"/>
<rect x="110.92" y="495.30" width="4.24" height="3.2" rx="0.5" fill="#17b3b3"/>
<line x1="79.3" y1="501.52" x2="157.07" y2="501.52" stroke="#bdbdbd" stroke-width="0.5"/>
<rect x="85.23" y="499.92" width="5.74" height="3.2" rx="0.5" fill="#6b0a0a"/>
<rect x="95.46" y="499.92" width="2.49" height="3.2" rx="0.5" fill="#2ecf8f"/>
<rect x="98.45" y="499.92" width="3.74" height="3.2" rx="0.5" fill="#7ac31e"/>
<rect x="105.18" y="499.92" width="3.74" height="3.2" rx="0.5" fill="#17b3b3"/>
<rect x="140.11" y="499.92" width="9.48" height="3.2" rx="0.5" fill="#9a5a1e"/>
<line x1="79.3" y1="506.14" x2="157.07" y2="506.14" stroke="#bdbdbd" stroke-width="0.5"/>
<rect x="85.23" y="504.54" width="5.74" height="3.2" rx="0.5" fill="#6b0a0a"/>
<rect x="95.46" y="504.54" width="2.49" height="3.2" rx="0.5" fill="#2ecf8f"/>
<rect x="98.45" y="504.54" width="3.74" height="3.2" rx="0.5" fill="#7ac31e"/>
<rect x="105.18" y="504.54" width="3.74" height="3.2" rx="0.5" fill="#17b3b3"/>
<rect x="140.11" y="504.54" width="9.48" height="3.2" rx="0.5" fill="#9a5a1e"/>
<line x1="79.3" y1="510.75" x2="138.36" y2="510.75" stroke="#bdbdbd" stroke-width="0.5"/>
<rect x="82.73" y="509.15" width="2.74" height="3.2" rx="0.5" fill="#2ecf8f"/>
<rect x="87.72" y="509.15" width="5.74" height="3.2" rx="0.5" fill="#6b0a0a"/>
<rect x="104.69" y="509.15" width="3.74" height="3.2" rx="0.5" fill="#7ac31e"/>
<rect x="110.92" y="509.15" width="3.74" height="3.2" rx="0.5" fill="#17b3b3"/>
<rect x="115.91" y="509.15" width="8.73" height="3.2" rx="0.5" fill="#9a5a1e"/>
<line x1="79.3" y1="515.37" x2="138.36" y2="515.37" stroke="#bdbdbd" stroke-width="0.5"/>
<rect x="82.73" y="513.77" width="2.74" height="3.2" rx="0.5" fill="#2ecf8f"/>
<rect x="87.72" y="513.77" width="5.74" height="3.2" rx="0.5" fill="#6b0a0a"/>
<rect x="104.69" y="513.77" width="3.74" height="3.2" rx="0.5" fill="#7ac31e"/>
<rect x="110.92" y="513.77" width="3.74" height="3.2" rx="0.5" fill="#17b3b3"/>
<rect x="115.91" y="513.77" width="8.73" height="3.2" rx="0.5" fill="#9a5a1e"/>
<line x1="79.3" y1="519.99" x2="170.79" y2="519.99" stroke="#bdbdbd" stroke-width="0.5"/>
<rect x="88.97" y="518.39" width="2.74" height="3.2" rx="0.5" fill="#2ecf8f"/>
<rect x="97.20" y="518.39" width="8.23" height="3.2" rx="0.5" fill="#ff9a1f"/>
<rect x="109.18" y="518.39" width="2.49" height="3.2" rx="0.5" fill="#f0284a"/>
<rect x="112.92" y="518.39" width="3.74" height="3.2" rx="0.5" fill="#7ac31e"/>
<line x1="79.3" y1="524.61" x2="142.10" y2="524.61" stroke="#bdbdbd" stroke-width="0.5"/>
<rect x="91.47" y="523.01" width="2.74" height="3.2" rx="0.5" fill="#2ecf8f"/>
<rect x="99.70" y="523.01" width="8.23" height="3.2" rx="0.5" fill="#ff9a1f"/>
<rect x="110.92" y="523.01" width="2.49" height="3.2" rx="0.5" fill="#f0284a"/>
<rect x="113.91" y="523.01" width="4.49" height="3.2" rx="0.5" fill="#7ac31e"/>
<rect x="121.40" y="523.01" width="3.74" height="3.2" rx="0.5" fill="#17b3b3"/>
<line x1="79.3" y1="529.23" x2="164.55" y2="529.23" stroke="#bdbdbd" stroke-width="0.5"/>
<rect x="90.22" y="527.63" width="2.74" height="3.2" rx="0.5" fill="#2ecf8f"/>
<rect x="99.20" y="527.63" width="7.98" height="3.2" rx="0.5" fill="#ff9a1f"/>
<rect x="110.92" y="527.63" width="2.49" height="3.2" rx="0.5" fill="#f0284a"/>
<rect x="113.91" y="527.63" width="4.49" height="3.2" rx="0.5" fill="#7ac31e"/>
<rect x="120.40" y="527.63" width="3.74" height="3.2" rx="0.5" fill="#17b3b3"/>
<line x1="79.3" y1="533.85" x2="164.55" y2="533.85" stroke="#bdbdbd" stroke-width="0.5"/>
<rect x="90.22" y="532.25" width="2.74" height="3.2" rx="0.5" fill="#2ecf8f"/>
<rect x="99.20" y="532.25" width="7.98" height="3.2" rx="0.5" fill="#ff9a1f"/>
<rect x="110.92" y="532.25" width="2.49" height="3.2" rx="0.5" fill="#f0284a"/>
<rect x="113.91" y="532.25" width="4.49" height="3.2" rx="0.5" fill="#7ac31e"/>
<rect x="120.40" y="532.25" width="3.74" height="3.2" rx="0.5" fill="#17b3b3"/>
<g font-family='"Liberation Sans", sans-serif' font-size="2.6" fill="#666" text-anchor="middle">
<text x="79.0" y="538.3" transform="rotate(0.05 79.0 538.3)">0</text>
<text x="111.0" y="538.3" transform="rotate(0.05 111.0 538.3)">200</text>
<text x="143.0" y="538.3" transform="rotate(0.05 143.0 538.3)">400</text>
<text x="175.4" y="538.3" transform="rotate(0.05 175.4 538.3)">600</text>
<text x="207.8" y="538.3" transform="rotate(0.05 207.8 538.3)">800</text>
</g>
<rect x="7.10" y="290.80" width="217.30" height="252.50" fill="none" stroke="#777" stroke-width="1.1"/>
<text x="230.3" y="288.4" transform="rotate(0.05 230.3 288.4)" font-family='"Liberation Serif", serif' font-weight="bold" font-size="10.4" fill="#000">E</text>
<g font-family='"Liberation Serif", serif' font-weight="bold" font-size="4.7" fill="#111" letter-spacing="0.62">
<text x="307.9" y="296.2" transform="rotate(0.05 307.9 296.2)">Logo</text><text x="375.9" y="296.2" transform="rotate(0.05 375.9 296.2)">E-value</text><text x="405.2" y="296.2" transform="rotate(0.05 405.2 296.2)">Sites</text><text x="421.6" y="296.2" transform="rotate(0.05 421.6 296.2)">Width</text></g>
<rect x="232" y="300.95" width="4.2" height="4.2" fill="#7ac31e"/>
<text x="238.7" y="304.45" transform="rotate(0.05 238.7 304.45)" font-family='"Liberation Sans", sans-serif' font-size="3.8" fill="#333">motif1</text>
<path d="M254.9 298.85V306.85M254.3 298.85H254.9M254.3 302.85H254.9M254.3 306.85H254.9" stroke="#c4c4c4" stroke-width="0.3" fill="none"/>
<rect x="232" y="313.10" width="4.2" height="4.2" fill="#ffd966"/>
<text x="238.7" y="316.60" transform="rotate(0.05 238.7 316.60)" font-family='"Liberation Sans", sans-serif' font-size="3.8" fill="#333">motif2</text>
<path d="M254.9 311.00V319.00M254.3 311.00H254.9M254.3 315.00H254.9M254.3 319.00H254.9" stroke="#c4c4c4" stroke-width="0.3" fill="none"/>
<rect x="232" y="325.25" width="4.2" height="4.2" fill="#ff69b4"/>
<text x="238.7" y="328.75" transform="rotate(0.05 238.7 328.75)" font-family='"Liberation Sans", sans-serif' font-size="3.8" fill="#333">motif3</text>
<path d="M254.9 323.15V331.15M254.3 323.15H254.9M254.3 327.15H254.9M254.3 331.15H254.9" stroke="#c4c4c4" stroke-width="0.3" fill="none"/>
<rect x="232" y="337.40" width="4.2" height="4.2" fill="#17b3b3"/>
<text x="238.7" y="340.90" transform="rotate(0.05 238.7 340.90)" font-family='"Liberation Sans", sans-serif' font-size="3.8" fill="#333">motif4</text>
<path d="M254.9 335.30V343.30M254.3 335.30H254.9M254.3 339.30H254.9M254.3 343.30H254.9" stroke="#c4c4c4" stroke-width="0.3" fill="none"/>
<rect x="232" y="349.55" width="4.2" height="4.2" fill="#f0284a"/>
<text x="238.7" y="353.05" transform="rotate(0.05 238.7 353.05)" font-family='"Liberation Sans", sans-serif' font-size="3.8" fill="#333">motif5</text>
<path d="M254.9 347.45V355.45M254.3 347.45H254.9M254.3 351.45H254.9M254.3 355.45H254.9" stroke="#c4c4c4" stroke-width="0.3" fill="none"/>
<rect x="232" y="361.70" width="4.2" height="4.2" fill="#9ab7d8"/>
<text x="238.7" y="365.20" transform="rotate(0.05 238.7 365.20)" font-family='"Liberation Sans", sans-serif' font-size="3.8" fill="#333">motif6</text>
<path d="M254.9 359.60V367.60M254.3 359.60H254.9M254.3 363.60H254.9M254.3 367.60H254.9" stroke="#c4c4c4" stroke-width="0.3" fill="none"/>
<rect x="232" y="373.85" width="4.2" height="4.2" fill="#b8ea90"/>
<text x="238.7" y="377.35" transform="rotate(0.05 238.7 377.35)" font-family='"Liberation Sans", sans-serif' font-size="3.8" fill="#333">motif7</text>
<path d="M254.9 371.75V379.75M254.3 371.75H254.9M254.3 375.75H254.9M254.3 379.75H254.9" stroke="#c4c4c4" stroke-width="0.3" fill="none"/>
<rect x="232" y="386.00" width="4.2" height="4.2" fill="#ff9a1f"/>
<text x="238.7" y="389.50" transform="rotate(0.05 238.7 389.50)" font-family='"Liberation Sans", sans-serif' font-size="3.8" fill="#333">motif8</text>
<path d="M254.9 383.90V391.90M254.3 383.90H254.9M254.3 387.90H254.9M254.3 391.90H254.9" stroke="#c4c4c4" stroke-width="0.3" fill="none"/>
<rect x="232" y="398.15" width="4.2" height="4.2" fill="#6a4fb0"/>
<text x="238.7" y="401.65" transform="rotate(0.05 238.7 401.65)" font-family='"Liberation Sans", sans-serif' font-size="3.8" fill="#333">motif9</text>
<path d="M254.9 396.05V404.05M254.3 396.05H254.9M254.3 400.05H254.9M254.3 404.05H254.9" stroke="#c4c4c4" stroke-width="0.3" fill="none"/>
<rect x="232" y="410.30" width="4.2" height="4.2" fill="#ffa477"/>
<text x="238.7" y="413.80" transform="rotate(0.05 238.7 413.80)" font-family='"Liberation Sans", sans-serif' font-size="3.8" fill="#333">motif10</text>
<path d="M254.9 408.20V416.20M254.3 408.20H254.9M254.3 412.20H254.9M254.3 416.20H254.9" stroke="#c4c4c4" stroke-width="0.3" fill="none"/>
<rect x="232" y="422.45" width="4.2" height="4.2" fill="#2f5b4b"/>
<text x="238.7" y="425.95" transform="rotate(0.05 238.7 425.95)" font-family='"Liberation Sans", sans-serif' font-size="3.8" fill="#333">motif11</text>
<path d="M254.9 420.35V428.35M254.3 420.35H254.9M254.3 424.35H254.9M254.3 428.35H254.9" stroke="#c4c4c4" stroke-width="0.3" fill="none"/>
<rect x="232" y="434.60" width="4.2" height="4.2" fill="#ff6a00"/>
<text x="238.7" y="438.10" transform="rotate(0.05 238.7 438.10)" font-family='"Liberation Sans", sans-serif' font-size="3.8" fill="#333">motif12</text>
<path d="M254.9 432.50V440.50M254.3 432.50H254.9M254.3 436.50H254.9M254.3 440.50H254.9" stroke="#c4c4c4" stroke-width="0.3" fill="none"/>
<rect x="232" y="446.75" width="4.2" height="4.2" fill="#2ecf8f"/>
<text x="238.7" y="450.25" transform="rotate(0.05 238.7 450.25)" font-family='"Liberation Sans", sans-serif' font-size="3.8" fill="#333">motif13</text>
<path d="M254.9 444.65V452.65M254.3 444.65H254.9M254.3 448.65H254.9M254.3 452.65H254.9" stroke="#c4c4c4" stroke-width="0.3" fill="none"/>
<rect x="232" y="458.90" width="4.2" height="4.2" fill="#ffb8c6"/>
<text x="238.7" y="462.40" transform="rotate(0.05 238.7 462.40)" font-family='"Liberation Sans", sans-serif' font-size="3.8" fill="#333">motif14</text>
<path d="M254.9 456.80V464.80M254.3 456.80H254.9M254.3 460.80H254.9M254.3 464.80H254.9" stroke="#c4c4c4" stroke-width="0.3" fill="none"/>
<rect x="232" y="471.05" width="4.2" height="4.2" fill="#1878c8"/>
<text x="238.7" y="474.55" transform="rotate(0.05 238.7 474.55)" font-family='"Liberation Sans", sans-serif' font-size="3.8" fill="#333">motif15</text>
<path d="M254.9 468.95V476.95M254.3 468.95H254.9M254.3 472.95H254.9M254.3 476.95H254.9" stroke="#c4c4c4" stroke-width="0.3" fill="none"/>
<rect x="232" y="483.20" width="4.2" height="4.2" fill="#e8300a"/>
<text x="238.7" y="486.70" transform="rotate(0.05 238.7 486.70)" font-family='"Liberation Sans", sans-serif' font-size="3.8" fill="#333">motif16</text>
<path d="M254.9 481.10V489.10M254.3 481.10H254.9M254.3 485.10H254.9M254.3 489.10H254.9" stroke="#c4c4c4" stroke-width="0.3" fill="none"/>
<rect x="232" y="495.35" width="4.2" height="4.2" fill="#6b0a0a"/>
<text x="238.7" y="498.85" transform="rotate(0.05 238.7 498.85)" font-family='"Liberation Sans", sans-serif' font-size="3.8" fill="#333">motif17</text>
<path d="M254.9 493.25V501.25M254.3 493.25H254.9M254.3 497.25H254.9M254.3 501.25H254.9" stroke="#c4c4c4" stroke-width="0.3" fill="none"/>
<rect x="232" y="507.50" width="4.2" height="4.2" fill="#1a6a1a"/>
<text x="238.7" y="511.00" transform="rotate(0.05 238.7 511.00)" font-family='"Liberation Sans", sans-serif' font-size="3.8" fill="#333">motif18</text>
<path d="M254.9 505.40V513.40M254.3 505.40H254.9M254.3 509.40H254.9M254.3 513.40H254.9" stroke="#c4c4c4" stroke-width="0.3" fill="none"/>
<rect x="232" y="519.65" width="4.2" height="4.2" fill="#1f3a68"/>
<text x="238.7" y="523.15" transform="rotate(0.05 238.7 523.15)" font-family='"Liberation Sans", sans-serif' font-size="3.8" fill="#333">motif19</text>
<path d="M254.9 517.55V525.55M254.3 517.55H254.9M254.3 521.55H254.9M254.3 525.55H254.9" stroke="#c4c4c4" stroke-width="0.3" fill="none"/>
<rect x="232" y="531.80" width="4.2" height="4.2" fill="#9a5a1e"/>
<text x="238.7" y="535.30" transform="rotate(0.05 238.7 535.30)" font-family='"Liberation Sans", sans-serif' font-size="3.8" fill="#333">motif20</text>
<path d="M254.9 529.70V537.70M254.3 529.70H254.9M254.3 533.70H254.9M254.3 537.70H254.9" stroke="#c4c4c4" stroke-width="0.3" fill="none"/>
<g font-family='"Liberation Sans", sans-serif' font-weight="bold" font-size="3.0" fill="currentColor" stroke="currentColor" stroke-width="0.12"><text transform="translate(256.40 306.85) rotate(0.05) scale(1 3.538)" textLength="2.18" lengthAdjust="spacingAndGlyphs" color="#0000d0">L</text><text transform="translate(258.68 306.85) rotate(0.05) scale(1 2.980)" textLength="2.18" lengthAdjust="spacingAndGlyphs" color="#0000d0">V</text><text transform="translate(260.96 306.85) rotate(0.05) scale(1 2.980)" textLength="2.18" lengthAdjust="spacingAndGlyphs" color="#0000d0">F</text><text transform="translate(263.24 306.85) rotate(0.05) scale(1 0.819)" textLength="2.18" lengthAdjust="spacingAndGlyphs" color="#009000">S</text><text transform="translate(263.24 305.09) rotate(0.05) scale(1 1.117)" textLength="2.18" lengthAdjust="spacingAndGlyphs" color="#2fd8c8">Y</text><text transform="translate(265.52 306.85) rotate(0.05) scale(1 0.819)" textLength="2.18" lengthAdjust="spacingAndGlyphs" color="#009000">N</text><text transform="translate(265.52 305.09) rotate(0.05) scale(1 0.931)" textLength="2.18" lengthAdjust="spacingAndGlyphs" color="#d00000">K</text><text transform="translate(267.80 306.85) rotate(0.05) scale(1 0.652)" textLength="2.18" lengthAdjust="spacingAndGlyphs" color="#ff00ff">D</text><text transform="translate(267.80 305.45) rotate(0.05) scale(1 1.862)" textLength="2.18" lengthAdjust="spacingAndGlyphs" color="#ffb300">G</text><text transform="translate(270.08 306.85) rotate(0.05) scale(1 0.652)" textLength="2.18" lengthAdjust="spacingAndGlyphs" color="#d00000">R</text><text transform="translate(270.08 305.45) rotate(0.05) scale(1 1.862)" textLength="2.18" lengthAdjust="spacingAndGlyphs" color="#d00000">R</text><text transform="translate(272.36 306.85) rotate(0.05) scale(1 0.717)" textLength="2.18" lengthAdjust="spacingAndGlyphs" color="#0000d0">L</text><text transform="translate(272.36 305.31) rotate(0.05) scale(1 1.676)" textLength="2.18" lengthAdjust="spacingAndGlyphs" color="#0000d0">A</text><text transform="translate(274.64 306.85) rotate(0.05) scale(1 0.782)" textLength="2.18" lengthAdjust="spacingAndGlyphs" color="#0000d0">V</text><text transform="translate(274.64 305.17) rotate(0.05) scale(1 1.490)" textLength="2.18" lengthAdjust="spacingAndGlyphs" color="#f2e600">P</text><text transform="translate(276.92 306.85) rotate(0.05) scale(1 0.819)" textLength="2.18" lengthAdjust="spacingAndGlyphs" color="#0000d0">A</text><text transform="translate(276.92 305.09) rotate(0.05) scale(1 0.931)" textLength="2.18" lengthAdjust="spacingAndGlyphs" color="#d00000">K</text><text transform="translate(279.20 306.85) rotate(0.05) scale(1 0.782)" textLength="2.18" lengthAdjust="spacingAndGlyphs" color="#ffb300">G</text><text transform="translate(279.20 305.17) rotate(0.05) scale(1 1.490)" textLength="2.18" lengthAdjust="spacingAndGlyphs" color="#ffb300">G</text><text transform="translate(281.48 306.85) rotate(0.05) scale(1 0.819)" textLength="2.18" lengthAdjust="spacingAndGlyphs" color="#009000">T</text><text transform="translate(281.48 305.09) rotate(0.05) scale(1 0.931)" textLength="2.18" lengthAdjust="spacingAndGlyphs" color="#ff00ff">E</text><text transform="translate(283.76 306.85) rotate(0.05) scale(1 0.717)" textLength="2.18" lengthAdjust="spacingAndGlyphs" color="#ff00ff">E</text><text transform="translate(283.76 305.31) rotate(0.05) scale(1 1.676)" textLength="2.18" lengthAdjust="spacingAndGlyphs" color="#d00000">K</text><text transform="translate(286.04 306.85) rotate(0.05) scale(1 0.652)" textLength="2.18" lengthAdjust="spacingAndGlyphs" color="#f2e600">P</text><text transform="translate(286.04 305.45) rotate(0.05) scale(1 1.862)" textLength="2.18" lengthAdjust="spacingAndGlyphs" color="#009000">T</text><text transform="translate(288.32 306.85) rotate(0.05) scale(1 0.782)" textLength="2.18" lengthAdjust="spacingAndGlyphs" color="#d00000">K</text><text transform="translate(288.32 305.17) rotate(0.05) scale(1 1.490)" textLength="2.18" lengthAdjust="spacingAndGlyphs" color="#009000">N</text><text transform="translate(290.60 306.85) rotate(0.05) scale(1 2.793)" textLength="2.18" lengthAdjust="spacingAndGlyphs" color="#0000d0">W</text><text transform="translate(292.88 306.85) rotate(0.05) scale(1 0.456)" textLength="2.18" lengthAdjust="spacingAndGlyphs" color="#009000">N</text><text transform="translate(292.88 305.87) rotate(0.05) scale(1 2.421)" textLength="2.18" lengthAdjust="spacingAndGlyphs" color="#0000d0">V</text><text transform="translate(295.16 306.85) rotate(0.05) scale(1 2.607)" textLength="2.18" lengthAdjust="spacingAndGlyphs" color="#0000d0">M</text><text transform="translate(297.44 306.85) rotate(0.05) scale(1 0.587)" textLength="2.18" lengthAdjust="spacingAndGlyphs" color="#d00000">R</text><text transform="translate(297.44 305.59) rotate(0.05) scale(1 2.048)" textLength="2.18" lengthAdjust="spacingAndGlyphs" color="#ff9aa8">H</text><text transform="translate(299.72 306.85) rotate(0.05) scale(1 2.980)" textLength="2.18" lengthAdjust="spacingAndGlyphs" color="#ff00ff">E</text><text transform="translate(302.00 306.85) rotate(0.05) scale(1 2.980)" textLength="2.18" lengthAdjust="spacingAndGlyphs" color="#2fd8c8">Y</text><text transform="translate(256.40 319.00) rotate(0.05) scale(1 2.980)" textLength="2.18" lengthAdjust="spacingAndGlyphs" color="#0000d0">W</text><text transform="translate(258.68 319.00) rotate(0.05) scale(1 2.793)" textLength="2.18" lengthAdjust="spacingAndGlyphs" color="#2fd8c8">Y</text><text transform="translate(260.96 319.00) rotate(0.05) scale(1 3.538)" textLength="2.18" lengthAdjust="spacingAndGlyphs" color="#0000d0">F</text><text transform="translate(263.24 319.00) rotate(0.05) scale(1 3.538)" textLength="2.18" lengthAdjust="spacingAndGlyphs" color="#0000d0">F</text><text transform="translate(265.52 319.00) rotate(0.05) scale(1 0.717)" textLength="2.18" lengthAdjust="spacingAndGlyphs" color="#f2e600">P</text><text transform="translate(265.52 317.46) rotate(0.05) scale(1 1.676)" textLength="2.18" lengthAdjust="spacingAndGlyphs" color="#009000">S</text><text transform="translate(267.80 319.00) rotate(0.05) scale(1 0.819)" textLength="2.18" lengthAdjust="spacingAndGlyphs" color="#d00000">K</text><text transform="translate(267.80 317.24) rotate(0.05) scale(1 1.304)" textLength="2.18" lengthAdjust="spacingAndGlyphs" color="#f2e600">P</text><text transform="translate(270.08 319.00) rotate(0.05) scale(1 0.782)" textLength="2.18" lengthAdjust="spacingAndGlyphs" color="#009000">S</text><text transform="translate(270.08 317.32) rotate(0.05) scale(1 1.490)" textLength="2.18" lengthAdjust="spacingAndGlyphs" color="#d00000">R</text><text transform="translate(272.36 319.00) rotate(0.05) scale(1 0.456)" textLength="2.18" lengthAdjust="spacingAndGlyphs" color="#009000">N</text><text transform="translate(272.36 318.02) rotate(0.05) scale(1 2.421)" textLength="2.18" lengthAdjust="spacingAndGlyphs" color="#ff00ff">D</text><text transform="translate(274.64 319.00) rotate(0.05) scale(1 0.652)" textLength="2.18" lengthAdjust="spacingAndGlyphs" color="#ff00ff">D</text><text transform="translate(274.64 317.60) rotate(0.05) scale(1 1.862)" textLength="2.18" lengthAdjust="spacingAndGlyphs" color="#d00000">R</text><text transform="translate(276.92 319.00) rotate(0.05) scale(1 2.607)" textLength="2.18" lengthAdjust="spacingAndGlyphs" color="#d00000">K</text><text transform="translate(279.20 319.00) rotate(0.05) scale(1 3.166)" textLength="2.18" lengthAdjust="spacingAndGlyphs" color="#2fd8c8">Y</text><text transform="translate(281.48 319.00) rotate(0.05) scale(1 0.782)" textLength="2.18" lengthAdjust="spacingAndGlyphs" color="#0000d0">V</text><text transform="translate(281.48 317.32) rotate(0.05) scale(1 1.490)" textLength="2.18" lengthAdjust="spacingAndGlyphs" color="#f2e600">P</text><text transform="translate(283.76 319.00) rotate(0.05) scale(1 2.607)" textLength="2.18" lengthAdjust="spacingAndGlyphs" color="#009000">N</text><text transform="translate(286.04 319.00) rotate(0.05) scale(1 2.607)" textLength="2.18" lengthAdjust="spacingAndGlyphs" color="#ffb300">G</text><text transform="translate(288.32 319.00) rotate(0.05) scale(1 0.819)" textLength="2.18" lengthAdjust="spacingAndGlyphs" color="#009000">T</text><text transform="translate(288.32 317.24) rotate(0.05) scale(1 1.304)" textLength="2.18" lengthAdjust="spacingAndGlyphs" color="#009000">S</text><text transform="translate(290.60 319.00) rotate(0.05) scale(1 0.521)" textLength="2.18" lengthAdjust="spacingAndGlyphs" color="#ff00ff">E</text><text transform="translate(290.60 317.88) rotate(0.05) scale(1 2.235)" textLength="2.18" lengthAdjust="spacingAndGlyphs" color="#d00000">R</text><text transform="translate(292.88 319.00) rotate(0.05) scale(1 0.819)" textLength="2.18" lengthAdjust="spacingAndGlyphs" color="#f2e600">P</text><text transform="translate(292.88 317.24) rotate(0.05) scale(1 1.117)" textLength="2.18" lengthAdjust="spacingAndGlyphs" color="#f2e600">P</text><text transform="translate(295.16 319.00) rotate(0.05) scale(1 0.521)" textLength="2.18" lengthAdjust="spacingAndGlyphs" color="#d00000">K</text><text transform="translate(295.16 317.88) rotate(0.05) scale(1 2.235)" textLength="2.18" lengthAdjust="spacingAndGlyphs" color="#009000">N</text><text transform="translate(297.44 319.00) rotate(0.05) scale(1 2.793)" textLength="2.18" lengthAdjust="spacingAndGlyphs" color="#d00000">R</text><text transform="translate(299.72 319.00) rotate(0.05) scale(1 2.607)" textLength="2.18" lengthAdjust="spacingAndGlyphs" color="#0000d0">A</text><text transform="translate(302.00 319.00) rotate(0.05) scale(1 2.793)" textLength="2.18" lengthAdjust="spacingAndGlyphs" color="#0000d0">A</text><text transform="translate(304.28 319.00) rotate(0.05) scale(1 0.819)" textLength="2.18" lengthAdjust="spacingAndGlyphs" color="#d00000">R</text><text transform="translate(304.28 317.24) rotate(0.05) scale(1 1.117)" textLength="2.18" lengthAdjust="spacingAndGlyphs" color="#ffb300">G</text><text transform="translate(306.56 319.00) rotate(0.05) scale(1 0.819)" textLength="2.18" lengthAdjust="spacingAndGlyphs" color="#0000d0">L</text><text transform="translate(306.56 317.24) rotate(0.05) scale(1 0.931)" textLength="2.18" lengthAdjust="spacingAndGlyphs" color="#009000">S</text><text transform="translate(308.84 319.00) rotate(0.05) scale(1 0.819)" textLength="2.18" lengthAdjust="spacingAndGlyphs" color="#0000d0">V</text><text transform="translate(308.84 317.24) rotate(0.05) scale(1 1.117)" textLength="2.18" lengthAdjust="spacingAndGlyphs" color="#ffb300">G</text><text transform="translate(311.12 319.00) rotate(0.05) scale(1 2.607)" textLength="2.18" lengthAdjust="spacingAndGlyphs" color="#2fd8c8">Y</text><text transform="translate(313.40 319.00) rotate(0.05) scale(1 2.980)" textLength="2.18" lengthAdjust="spacingAndGlyphs" color="#0000d0">W</text><text transform="translate(315.68 319.00) rotate(0.05) scale(1 2.793)" textLength="2.18" lengthAdjust="spacingAndGlyphs" color="#d00000">K</text><text transform="translate(317.96 319.00) rotate(0.05) scale(1 2.980)" textLength="2.18" lengthAdjust="spacingAndGlyphs" color="#0000d0">A</text><text transform="translate(320.24 319.00) rotate(0.05) scale(1 2.980)" textLength="2.18" lengthAdjust="spacingAndGlyphs" color="#009000">T</text><text transform="translate(256.40 331.15) rotate(0.05) scale(1 3.538)" textLength="2.18" lengthAdjust="spacingAndGlyphs" color="#0000d0">F</text><text transform="translate(258.68 331.15) rotate(0.05) scale(1 3.352)" textLength="2.18" lengthAdjust="spacingAndGlyphs" color="#d00000">R</text><text transform="translate(260.96 331.15) rotate(0.05) scale(1 3.538)" textLength="2.18" lengthAdjust="spacingAndGlyphs" color="#0000d0">F</text><text transform="translate(263.24 331.15) rotate(0.05) scale(1 0.819)" textLength="2.18" lengthAdjust="spacingAndGlyphs" color="#0000d0">A</text><text transform="translate(263.24 329.39) rotate(0.05) scale(1 1.117)" textLength="2.18" lengthAdjust="spacingAndGlyphs" color="#ff9aa8">H</text><text transform="translate(265.52 331.15) rotate(0.05) scale(1 2.607)" textLength="2.18" lengthAdjust="spacingAndGlyphs" color="#f2e600">P</text><text transform="translate(267.80 331.15) rotate(0.05) scale(1 3.166)" textLength="2.18" lengthAdjust="spacingAndGlyphs" color="#009000">T</text><text transform="translate(270.08 331.15) rotate(0.05) scale(1 2.980)" textLength="2.18" lengthAdjust="spacingAndGlyphs" color="#ff00ff">D</text><text transform="translate(272.36 331.15) rotate(0.05) scale(1 2.980)" textLength="2.18" lengthAdjust="spacingAndGlyphs" color="#ff00ff">E</text><text transform="translate(274.64 331.15) rotate(0.05) scale(1 2.980)" textLength="2.18" lengthAdjust="spacingAndGlyphs" color="#ff00ff">E</text><text transform="translate(276.92 331.15) rotate(0.05) scale(1 3.352)" textLength="2.18" lengthAdjust="spacingAndGlyphs" color="#0000d0">L</text><text transform="translate(279.20 331.15) rotate(0.05) scale(1 0.782)" textLength="2.18" lengthAdjust="spacingAndGlyphs" color="#009000">N</text><text transform="translate(279.20 329.47) rotate(0.05) scale(1 1.490)" textLength="2.18" lengthAdjust="spacingAndGlyphs" color="#0000d0">V</text><text transform="translate(281.48 331.15) rotate(0.05) scale(1 0.819)" textLength="2.18" lengthAdjust="spacingAndGlyphs" color="#ff00ff">D</text><text transform="translate(281.48 329.39) rotate(0.05) scale(1 1.117)" textLength="2.18" lengthAdjust="spacingAndGlyphs" color="#0000d0">V</text><text transform="translate(283.76 331.15) rotate(0.05) scale(1 0.819)" textLength="2.18" lengthAdjust="spacingAndGlyphs" color="#d00000">R</text><text transform="translate(283.76 329.39) rotate(0.05) scale(1 1.304)" textLength="2.18" lengthAdjust="spacingAndGlyphs" color="#ff9aa8">H</text><text transform="translate(286.04 331.15) rotate(0.05) scale(1 0.521)" textLength="2.18" lengthAdjust="spacingAndGlyphs" color="#0000d0">L</text><text transform="translate(286.04 330.03) rotate(0.05) scale(1 2.235)" textLength="2.18" lengthAdjust="spacingAndGlyphs" color="#2fd8c8">Y</text><text transform="translate(288.32 331.15) rotate(0.05) scale(1 3.166)" textLength="2.18" lengthAdjust="spacingAndGlyphs" color="#0000d0">L</text><text transform="translate(290.60 331.15) rotate(0.05) scale(1 0.819)" textLength="2.18" lengthAdjust="spacingAndGlyphs" color="#0000d0">A</text><text transform="translate(290.60 329.39) rotate(0.05) scale(1 1.117)" textLength="2.18" lengthAdjust="spacingAndGlyphs" color="#d00000">R</text><text transform="translate(292.88 331.15) rotate(0.05) scale(1 0.819)" textLength="2.18" lengthAdjust="spacingAndGlyphs" color="#ffb300">G</text><text transform="translate(292.88 329.39) rotate(0.05) scale(1 1.117)" textLength="2.18" lengthAdjust="spacingAndGlyphs" color="#d00000">R</text><text transform="translate(295.16 331.15) rotate(0.05) scale(1 0.652)" textLength="2.18" lengthAdjust="spacingAndGlyphs" color="#009000">T</text><text transform="translate(295.16 329.75) rotate(0.05) scale(1 1.862)" textLength="2.18" lengthAdjust="spacingAndGlyphs" color="#d00000">K</text><text transform="translate(297.44 331.15) rotate(0.05) scale(1 0.819)" textLength="2.18" lengthAdjust="spacingAndGlyphs" color="#ff00ff">E</text><text transform="translate(297.44 329.39) rotate(0.05) scale(1 1.117)" textLength="2.18" lengthAdjust="spacingAndGlyphs" color="#0000d0">A</text><text transform="translate(299.72 331.15) rotate(0.05) scale(1 0.819)" textLength="2.18" lengthAdjust="spacingAndGlyphs" color="#f2e600">P</text><text transform="translate(299.72 329.39) rotate(0.05) scale(1 0.931)" textLength="2.18" lengthAdjust="spacingAndGlyphs" color="#0000d0">A</text><text transform="translate(302.00 331.15) rotate(0.05) scale(1 0.819)" textLength="2.18" lengthAdjust="spacingAndGlyphs" color="#d00000">K</text><text transform="translate(302.00 329.39) rotate(0.05) scale(1 0.745)" textLength="2.18" lengthAdjust="spacingAndGlyphs" color="#ffb300">G</text><text transform="translate(304.28 331.15) rotate(0.05) scale(1 0.819)" textLength="2.18" lengthAdjust="spacingAndGlyphs" color="#009000">S</text><text transform="translate(304.28 329.39) rotate(0.05) scale(1 0.931)" textLength="2.18" lengthAdjust="spacingAndGlyphs" color="#ffb300">G</text><text transform="translate(306.56 331.15) rotate(0.05) scale(1 0.819)" textLength="2.18" lengthAdjust="spacingAndGlyphs" color="#009000">N</text><text transform="translate(306.56 329.39) rotate(0.05) scale(1 0.745)" textLength="2.18" lengthAdjust="spacingAndGlyphs" color="#f2e600">P</text><text transform="translate(308.84 331.15) rotate(0.05) scale(1 0.819)" textLength="2.18" lengthAdjust="spacingAndGlyphs" color="#ff00ff">D</text><text transform="translate(308.84 329.39) rotate(0.05) scale(1 1.117)" textLength="2.18" lengthAdjust="spacingAndGlyphs" color="#0000d0">L</text><text transform="translate(311.12 331.15) rotate(0.05) scale(1 0.819)" textLength="2.18" lengthAdjust="spacingAndGlyphs" color="#d00000">R</text><text transform="translate(311.12 329.39) rotate(0.05) scale(1 0.745)" textLength="2.18" lengthAdjust="spacingAndGlyphs" color="#f2e600">P</text><text transform="translate(313.40 331.15) rotate(0.05) scale(1 0.819)" textLength="2.18" lengthAdjust="spacingAndGlyphs" color="#0000d0">L</text><text transform="translate(313.40 329.39) rotate(0.05) scale(1 0.931)" textLength="2.18" lengthAdjust="spacingAndGlyphs" color="#0000d0">V</text><text transform="translate(315.68 331.15) rotate(0.05) scale(1 0.819)" textLength="2.18" lengthAdjust="spacingAndGlyphs" color="#0000d0">V</text><text transform="translate(315.68 329.39) rotate(0.05) scale(1 0.745)" textLength="2.18" lengthAdjust="spacingAndGlyphs" color="#f2e600">P</text><text transform="translate(317.96 331.15) rotate(0.05) scale(1 0.819)" textLength="2.18" lengthAdjust="spacingAndGlyphs" color="#0000d0">A</text><text transform="translate(317.96 329.39) rotate(0.05) scale(1 1.304)" textLength="2.18" lengthAdjust="spacingAndGlyphs" color="#0000d0">I</text><text transform="translate(320.24 331.15) rotate(0.05) scale(1 0.782)" textLength="2.18" lengthAdjust="spacingAndGlyphs" color="#ffb300">G</text><text transform="translate(320.24 329.47) rotate(0.05) scale(1 1.490)" textLength="2.18" lengthAdjust="spacingAndGlyphs" color="#0000d0">I</text><text transform="translate(322.52 331.15) rotate(0.05) scale(1 0.819)" textLength="2.18" lengthAdjust="spacingAndGlyphs" color="#009000">T</text><text transform="translate(322.52 329.39) rotate(0.05) scale(1 0.931)" textLength="2.18" lengthAdjust="spacingAndGlyphs" color="#0000d0">A</text><text transform="translate(324.80 331.15) rotate(0.05) scale(1 0.652)" textLength="2.18" lengthAdjust="spacingAndGlyphs" color="#ff00ff">E</text><text transform="translate(324.80 329.75) rotate(0.05) scale(1 1.862)" textLength="2.18" lengthAdjust="spacingAndGlyphs" color="#ff00ff">E</text><text transform="translate(327.08 331.15) rotate(0.05) scale(1 0.782)" textLength="2.18" lengthAdjust="spacingAndGlyphs" color="#f2e600">P</text><text transform="translate(327.08 329.47) rotate(0.05) scale(1 1.490)" textLength="2.18" lengthAdjust="spacingAndGlyphs" color="#0000d0">V</text><text transform="translate(329.36 331.15) rotate(0.05) scale(1 0.521)" textLength="2.18" lengthAdjust="spacingAndGlyphs" color="#d00000">K</text><text transform="translate(329.36 330.03) rotate(0.05) scale(1 2.235)" textLength="2.18" lengthAdjust="spacingAndGlyphs" color="#ff00ff">D</text><text transform="translate(331.64 331.15) rotate(0.05) scale(1 0.652)" textLength="2.18" lengthAdjust="spacingAndGlyphs" color="#009000">S</text><text transform="translate(331.64 329.75) rotate(0.05) scale(1 1.862)" textLength="2.18" lengthAdjust="spacingAndGlyphs" color="#0000d0">I</text><text transform="translate(333.92 331.15) rotate(0.05) scale(1 2.607)" textLength="2.18" lengthAdjust="spacingAndGlyphs" color="#2fd8c8">Y</text><text transform="translate(336.20 331.15) rotate(0.05) scale(1 0.819)" textLength="2.18" lengthAdjust="spacingAndGlyphs" color="#ff00ff">D</text><text transform="translate(336.20 329.39) rotate(0.05) scale(1 1.117)" textLength="2.18" lengthAdjust="spacingAndGlyphs" color="#d00000">K</text><text transform="translate(338.48 331.15) rotate(0.05) scale(1 0.587)" textLength="2.18" lengthAdjust="spacingAndGlyphs" color="#d00000">R</text><text transform="translate(338.48 329.89) rotate(0.05) scale(1 2.048)" textLength="2.18" lengthAdjust="spacingAndGlyphs" color="#0000d0">F</text><text transform="translate(340.76 331.15) rotate(0.05) scale(1 0.521)" textLength="2.18" lengthAdjust="spacingAndGlyphs" color="#0000d0">L</text><text transform="translate(340.76 330.03) rotate(0.05) scale(1 2.235)" textLength="2.18" lengthAdjust="spacingAndGlyphs" color="#ff00ff">D</text><text transform="translate(343.04 331.15) rotate(0.05) scale(1 2.793)" textLength="2.18" lengthAdjust="spacingAndGlyphs" color="#f2e600">P</text><text transform="translate(345.32 331.15) rotate(0.05) scale(1 3.352)" textLength="2.18" lengthAdjust="spacingAndGlyphs" color="#0000d0">W</text><text transform="translate(347.60 331.15) rotate(0.05) scale(1 0.521)" textLength="2.18" lengthAdjust="spacingAndGlyphs" color="#ffb300">G</text><text transform="translate(347.60 330.03) rotate(0.05) scale(1 2.235)" textLength="2.18" lengthAdjust="spacingAndGlyphs" color="#ff00ff">E</text><text transform="translate(349.88 331.15) rotate(0.05) scale(1 0.652)" textLength="2.18" lengthAdjust="spacingAndGlyphs" color="#009000">T</text><text transform="translate(349.88 329.75) rotate(0.05) scale(1 1.862)" textLength="2.18" lengthAdjust="spacingAndGlyphs" color="#0000d0">L</text><text transform="translate(352.16 331.15) rotate(0.05) scale(1 0.782)" textLength="2.18" lengthAdjust="spacingAndGlyphs" color="#ff00ff">E</text><text transform="translate(352.16 329.47) rotate(0.05) scale(1 1.490)" textLength="2.18" lengthAdjust="spacingAndGlyphs" color="#f2e600">P</text><text transform="translate(256.40 343.30) rotate(0.05) scale(1 0.819)" textLength="2.18" lengthAdjust="spacingAndGlyphs" color="#009000">S</text><text transform="translate(256.40 341.54) rotate(0.05) scale(1 0.931)" textLength="2.18" lengthAdjust="spacingAndGlyphs" color="#d00000">K</text><text transform="translate(258.68 343.30) rotate(0.05) scale(1 0.819)" textLength="2.18" lengthAdjust="spacingAndGlyphs" color="#009000">N</text><text transform="translate(258.68 341.54) rotate(0.05) scale(1 1.117)" textLength="2.18" lengthAdjust="spacingAndGlyphs" color="#ff00ff">D</text><text transform="translate(260.96 343.30) rotate(0.05) scale(1 0.819)" textLength="2.18" lengthAdjust="spacingAndGlyphs" color="#ff00ff">D</text><text transform="translate(260.96 341.54) rotate(0.05) scale(1 1.117)" textLength="2.18" lengthAdjust="spacingAndGlyphs" color="#d00000">K</text><text transform="translate(263.24 343.30) rotate(0.05) scale(1 0.819)" textLength="2.18" lengthAdjust="spacingAndGlyphs" color="#d00000">R</text><text transform="translate(263.24 341.54) rotate(0.05) scale(1 1.304)" textLength="2.18" lengthAdjust="spacingAndGlyphs" color="#f2e600">P</text><text transform="translate(265.52 343.30) rotate(0.05) scale(1 0.521)" textLength="2.18" lengthAdjust="spacingAndGlyphs" color="#0000d0">L</text><text transform="translate(265.52 342.18) rotate(0.05) scale(1 2.235)" textLength="2.18" lengthAdjust="spacingAndGlyphs" color="#0000d0">I</text><text transform="translate(267.80 343.30) rotate(0.05) scale(1 2.607)" textLength="2.18" lengthAdjust="spacingAndGlyphs" color="#0000d0">L</text><text transform="translate(270.08 343.30) rotate(0.05) scale(1 0.456)" textLength="2.18" lengthAdjust="spacingAndGlyphs" color="#0000d0">A</text><text transform="translate(270.08 342.32) rotate(0.05) scale(1 2.421)" textLength="2.18" lengthAdjust="spacingAndGlyphs" color="#ffb300">G</text><text transform="translate(272.36 343.30) rotate(0.05) scale(1 2.607)" textLength="2.18" lengthAdjust="spacingAndGlyphs" color="#d00000">R</text><text transform="translate(274.64 343.30) rotate(0.05) scale(1 0.717)" textLength="2.18" lengthAdjust="spacingAndGlyphs" color="#009000">T</text><text transform="translate(274.64 341.76) rotate(0.05) scale(1 1.676)" textLength="2.18" lengthAdjust="spacingAndGlyphs" color="#d00000">K</text><text transform="translate(276.92 343.30) rotate(0.05) scale(1 0.782)" textLength="2.18" lengthAdjust="spacingAndGlyphs" color="#ff00ff">E</text><text transform="translate(276.92 341.62) rotate(0.05) scale(1 1.490)" textLength="2.18" lengthAdjust="spacingAndGlyphs" color="#d00000">K</text><text transform="translate(279.20 343.30) rotate(0.05) scale(1 2.793)" textLength="2.18" lengthAdjust="spacingAndGlyphs" color="#009000">T</text><text transform="translate(281.48 343.30) rotate(0.05) scale(1 0.819)" textLength="2.18" lengthAdjust="spacingAndGlyphs" color="#d00000">K</text><text transform="translate(281.48 341.54) rotate(0.05) scale(1 1.117)" textLength="2.18" lengthAdjust="spacingAndGlyphs" color="#0000d0">L</text><text transform="translate(283.76 343.30) rotate(0.05) scale(1 0.819)" textLength="2.18" lengthAdjust="spacingAndGlyphs" color="#009000">S</text><text transform="translate(283.76 341.54) rotate(0.05) scale(1 0.931)" textLength="2.18" lengthAdjust="spacingAndGlyphs" color="#0000d0">V</text><text transform="translate(286.04 343.30) rotate(0.05) scale(1 0.819)" textLength="2.18" lengthAdjust="spacingAndGlyphs" color="#009000">N</text><text transform="translate(286.04 341.54) rotate(0.05) scale(1 0.745)" textLength="2.18" lengthAdjust="spacingAndGlyphs" color="#0000d0">F</text><text transform="translate(288.32 343.30) rotate(0.05) scale(1 0.819)" textLength="2.18" lengthAdjust="spacingAndGlyphs" color="#ff00ff">D</text><text transform="translate(288.32 341.54) rotate(0.05) scale(1 0.745)" textLength="2.18" lengthAdjust="spacingAndGlyphs" color="#2fd8c8">Y</text><text transform="translate(290.60 343.30) rotate(0.05) scale(1 0.819)" textLength="2.18" lengthAdjust="spacingAndGlyphs" color="#d00000">R</text><text transform="translate(290.60 341.54) rotate(0.05) scale(1 0.745)" textLength="2.18" lengthAdjust="spacingAndGlyphs" color="#009000">S</text><text transform="translate(292.88 343.30) rotate(0.05) scale(1 0.819)" textLength="2.18" lengthAdjust="spacingAndGlyphs" color="#0000d0">L</text><text transform="translate(292.88 341.54) rotate(0.05) scale(1 0.745)" textLength="2.18" lengthAdjust="spacingAndGlyphs" color="#ffb300">G</text><text transform="translate(295.16 343.30) rotate(0.05) scale(1 0.819)" textLength="2.18" lengthAdjust="spacingAndGlyphs" color="#0000d0">V</text><text transform="translate(295.16 341.54) rotate(0.05) scale(1 0.559)" textLength="2.18" lengthAdjust="spacingAndGlyphs" color="#d00000">R</text><text transform="translate(297.44 343.30) rotate(0.05) scale(1 0.819)" textLength="2.18" lengthAdjust="spacingAndGlyphs" color="#0000d0">A</text><text transform="translate(297.44 341.54) rotate(0.05) scale(1 0.559)" textLength="2.18" lengthAdjust="spacingAndGlyphs" color="#0000d0">A</text><text transform="translate(299.72 343.30) rotate(0.05) scale(1 0.819)" textLength="2.18" lengthAdjust="spacingAndGlyphs" color="#ffb300">G</text><text transform="translate(299.72 341.54) rotate(0.05) scale(1 0.745)" textLength="2.18" lengthAdjust="spacingAndGlyphs" color="#f2e600">P</text><text transform="translate(302.00 343.30) rotate(0.05) scale(1 0.819)" textLength="2.18" lengthAdjust="spacingAndGlyphs" color="#009000">T</text><text transform="translate(302.00 341.54) rotate(0.05) scale(1 0.559)" textLength="2.18" lengthAdjust="spacingAndGlyphs" color="#d00000">K</text><text transform="translate(256.40 355.45) rotate(0.05) scale(1 0.819)" textLength="2.18" lengthAdjust="spacingAndGlyphs" color="#ff00ff">E</text><text transform="translate(256.40 353.69) rotate(0.05) scale(1 1.304)" textLength="2.18" lengthAdjust="spacingAndGlyphs" color="#d00000">R</text><text transform="translate(258.68 355.45) rotate(0.05) scale(1 0.819)" textLength="2.18" lengthAdjust="spacingAndGlyphs" color="#f2e600">P</text><text transform="translate(258.68 353.69) rotate(0.05) scale(1 1.117)" textLength="2.18" lengthAdjust="spacingAndGlyphs" color="#009000">S</text><text transform="translate(260.96 355.45) rotate(0.05) scale(1 0.819)" textLength="2.18" lengthAdjust="spacingAndGlyphs" color="#d00000">K</text><text transform="translate(260.96 353.69) rotate(0.05) scale(1 1.117)" textLength="2.18" lengthAdjust="spacingAndGlyphs" color="#0000d0">A</text><text transform="translate(263.24 355.45) rotate(0.05) scale(1 0.819)" textLength="2.18" lengthAdjust="spacingAndGlyphs" color="#009000">S</text><text transform="translate(263.24 353.69) rotate(0.05) scale(1 0.745)" textLength="2.18" lengthAdjust="spacingAndGlyphs" color="#009000">S</text><text transform="translate(265.52 355.45) rotate(0.05) scale(1 0.819)" textLength="2.18" lengthAdjust="spacingAndGlyphs" color="#009000">N</text><text transform="translate(265.52 353.69) rotate(0.05) scale(1 0.745)" textLength="2.18" lengthAdjust="spacingAndGlyphs" color="#0000d0">A</text><text transform="translate(267.80 355.45) rotate(0.05) scale(1 0.819)" textLength="2.18" lengthAdjust="spacingAndGlyphs" color="#ff00ff">D</text><text transform="translate(267.80 353.69) rotate(0.05) scale(1 0.559)" textLength="2.18" lengthAdjust="spacingAndGlyphs" color="#ffb300">G</text><text transform="translate(270.08 355.45) rotate(0.05) scale(1 0.819)" textLength="2.18" lengthAdjust="spacingAndGlyphs" color="#d00000">R</text><text transform="translate(270.08 353.69) rotate(0.05) scale(1 0.559)" textLength="2.18" lengthAdjust="spacingAndGlyphs" color="#2fd8c8">Y</text><text transform="translate(272.36 355.45) rotate(0.05) scale(1 0.819)" textLength="2.18" lengthAdjust="spacingAndGlyphs" color="#0000d0">L</text><text transform="translate(272.36 353.69) rotate(0.05) scale(1 0.745)" textLength="2.18" lengthAdjust="spacingAndGlyphs" color="#0000d0">W</text><text transform="translate(274.64 355.45) rotate(0.05) scale(1 0.819)" textLength="2.18" lengthAdjust="spacingAndGlyphs" color="#0000d0">V</text><text transform="translate(274.64 353.69) rotate(0.05) scale(1 0.745)" textLength="2.18" lengthAdjust="spacingAndGlyphs" color="#d00000">K</text><text transform="translate(276.92 355.45) rotate(0.05) scale(1 0.819)" textLength="2.18" lengthAdjust="spacingAndGlyphs" color="#0000d0">A</text><text transform="translate(276.92 353.69) rotate(0.05) scale(1 0.931)" textLength="2.18" lengthAdjust="spacingAndGlyphs" color="#0000d0">A</text><text transform="translate(279.20 355.45) rotate(0.05) scale(1 2.607)" textLength="2.18" lengthAdjust="spacingAndGlyphs" color="#009000">T</text><text transform="translate(281.48 355.45) rotate(0.05) scale(1 0.819)" textLength="2.18" lengthAdjust="spacingAndGlyphs" color="#009000">T</text><text transform="translate(281.48 353.69) rotate(0.05) scale(1 1.117)" textLength="2.18" lengthAdjust="spacingAndGlyphs" color="#ffb300">G</text><text transform="translate(283.76 355.45) rotate(0.05) scale(1 0.521)" textLength="2.18" lengthAdjust="spacingAndGlyphs" color="#ff00ff">E</text><text transform="translate(283.76 354.33) rotate(0.05) scale(1 2.235)" textLength="2.18" lengthAdjust="spacingAndGlyphs" color="#d00000">K</text><text transform="translate(286.04 355.45) rotate(0.05) scale(1 0.456)" textLength="2.18" lengthAdjust="spacingAndGlyphs" color="#f2e600">P</text><text transform="translate(286.04 354.47) rotate(0.05) scale(1 2.421)" textLength="2.18" lengthAdjust="spacingAndGlyphs" color="#ff00ff">D</text><text transform="translate(288.32 355.45) rotate(0.05) scale(1 0.521)" textLength="2.18" lengthAdjust="spacingAndGlyphs" color="#d00000">K</text><text transform="translate(288.32 354.33) rotate(0.05) scale(1 2.235)" textLength="2.18" lengthAdjust="spacingAndGlyphs" color="#d00000">R</text><text transform="translate(256.40 367.60) rotate(0.05) scale(1 0.508)" textLength="2.18" lengthAdjust="spacingAndGlyphs" color="#0000d0">A</text><text transform="translate(256.40 366.51) rotate(0.05) scale(1 2.272)" textLength="2.18" lengthAdjust="spacingAndGlyphs" color="#ffb300">G</text><text transform="translate(258.68 367.60) rotate(0.05) scale(1 0.456)" textLength="2.18" lengthAdjust="spacingAndGlyphs" color="#ffb300">G</text><text transform="translate(258.68 366.62) rotate(0.05) scale(1 2.421)" textLength="2.18" lengthAdjust="spacingAndGlyphs" color="#ff00ff">E</text><text transform="translate(260.96 367.60) rotate(0.05) scale(1 2.868)" textLength="2.18" lengthAdjust="spacingAndGlyphs" color="#009000">N</text><text transform="translate(263.24 367.60) rotate(0.05) scale(1 0.508)" textLength="2.18" lengthAdjust="spacingAndGlyphs" color="#ff00ff">E</text><text transform="translate(263.24 366.51) rotate(0.05) scale(1 2.272)" textLength="2.18" lengthAdjust="spacingAndGlyphs" color="#ffb300">G</text><text transform="translate(265.52 367.60) rotate(0.05) scale(1 0.482)" textLength="2.18" lengthAdjust="spacingAndGlyphs" color="#f2e600">P</text><text transform="translate(265.52 366.56) rotate(0.05) scale(1 2.346)" textLength="2.18" lengthAdjust="spacingAndGlyphs" color="#009000">S</text><text transform="translate(267.80 367.60) rotate(0.05) scale(1 0.443)" textLength="2.18" lengthAdjust="spacingAndGlyphs" color="#d00000">K</text><text transform="translate(267.80 366.65) rotate(0.05) scale(1 2.458)" textLength="2.18" lengthAdjust="spacingAndGlyphs" color="#ffb300">G</text><text transform="translate(270.08 367.60) rotate(0.05) scale(1 0.639)" textLength="2.18" lengthAdjust="spacingAndGlyphs" color="#009000">S</text><text transform="translate(270.08 366.23) rotate(0.05) scale(1 1.899)" textLength="2.18" lengthAdjust="spacingAndGlyphs" color="#d00000">K</text><text transform="translate(272.36 367.60) rotate(0.05) scale(1 0.482)" textLength="2.18" lengthAdjust="spacingAndGlyphs" color="#009000">N</text><text transform="translate(272.36 366.56) rotate(0.05) scale(1 2.346)" textLength="2.18" lengthAdjust="spacingAndGlyphs" color="#ffb300">G</text><text transform="translate(274.64 367.60) rotate(0.05) scale(1 0.430)" textLength="2.18" lengthAdjust="spacingAndGlyphs" color="#ff00ff">D</text><text transform="translate(274.64 366.68) rotate(0.05) scale(1 2.495)" textLength="2.18" lengthAdjust="spacingAndGlyphs" color="#0000d0">L</text><text transform="translate(276.92 367.60) rotate(0.05) scale(1 2.719)" textLength="2.18" lengthAdjust="spacingAndGlyphs" color="#ff00ff">D</text><text transform="translate(279.20 367.60) rotate(0.05) scale(1 0.678)" textLength="2.18" lengthAdjust="spacingAndGlyphs" color="#0000d0">L</text><text transform="translate(279.20 366.14) rotate(0.05) scale(1 1.788)" textLength="2.18" lengthAdjust="spacingAndGlyphs" color="#0000d0">L</text><text transform="translate(281.48 367.60) rotate(0.05) scale(1 0.574)" textLength="2.18" lengthAdjust="spacingAndGlyphs" color="#0000d0">V</text><text transform="translate(281.48 366.37) rotate(0.05) scale(1 2.086)" textLength="2.18" lengthAdjust="spacingAndGlyphs" color="#d00000">R</text><text transform="translate(283.76 367.60) rotate(0.05) scale(1 0.678)" textLength="2.18" lengthAdjust="spacingAndGlyphs" color="#0000d0">A</text><text transform="translate(283.76 366.14) rotate(0.05) scale(1 1.788)" textLength="2.18" lengthAdjust="spacingAndGlyphs" color="#0000d0">L</text><text transform="translate(286.04 367.60) rotate(0.05) scale(1 2.719)" textLength="2.18" lengthAdjust="spacingAndGlyphs" color="#f2e600">P</text><text transform="translate(288.32 367.60) rotate(0.05) scale(1 0.404)" textLength="2.18" lengthAdjust="spacingAndGlyphs" color="#009000">T</text><text transform="translate(288.32 366.73) rotate(0.05) scale(1 2.570)" textLength="2.18" lengthAdjust="spacingAndGlyphs" color="#f2e600">P</text><text transform="translate(290.60 367.60) rotate(0.05) scale(1 0.704)" textLength="2.18" lengthAdjust="spacingAndGlyphs" color="#ff00ff">E</text><text transform="translate(290.60 366.09) rotate(0.05) scale(1 1.713)" textLength="2.18" lengthAdjust="spacingAndGlyphs" color="#ffb300">G</text><text transform="translate(292.88 367.60) rotate(0.05) scale(1 2.942)" textLength="2.18" lengthAdjust="spacingAndGlyphs" color="#2fd8c8">Y</text><text transform="translate(295.16 367.60) rotate(0.05) scale(1 2.942)" textLength="2.18" lengthAdjust="spacingAndGlyphs" color="#009000">Q</text><text transform="translate(297.44 367.60) rotate(0.05) scale(1 0.417)" textLength="2.18" lengthAdjust="spacingAndGlyphs" color="#009000">S</text><text transform="translate(297.44 366.70) rotate(0.05) scale(1 2.533)" textLength="2.18" lengthAdjust="spacingAndGlyphs" color="#ffb300">G</text><text transform="translate(299.72 367.60) rotate(0.05) scale(1 0.430)" textLength="2.18" lengthAdjust="spacingAndGlyphs" color="#009000">N</text><text transform="translate(299.72 366.68) rotate(0.05) scale(1 2.495)" textLength="2.18" lengthAdjust="spacingAndGlyphs" color="#d00000">R</text><text transform="translate(302.00 367.60) rotate(0.05) scale(1 0.639)" textLength="2.18" lengthAdjust="spacingAndGlyphs" color="#ff00ff">D</text><text transform="translate(302.00 366.23) rotate(0.05) scale(1 1.899)" textLength="2.18" lengthAdjust="spacingAndGlyphs" color="#0000d0">L</text><text transform="translate(304.28 367.60) rotate(0.05) scale(1 0.704)" textLength="2.18" lengthAdjust="spacingAndGlyphs" color="#d00000">R</text><text transform="translate(304.28 366.09) rotate(0.05) scale(1 1.713)" textLength="2.18" lengthAdjust="spacingAndGlyphs" color="#009000">N</text><text transform="translate(306.56 367.60) rotate(0.05) scale(1 0.482)" textLength="2.18" lengthAdjust="spacingAndGlyphs" color="#0000d0">L</text><text transform="translate(306.56 366.56) rotate(0.05) scale(1 2.346)" textLength="2.18" lengthAdjust="spacingAndGlyphs" color="#ff00ff">D</text><text transform="translate(308.84 367.60) rotate(0.05) scale(1 0.691)" textLength="2.18" lengthAdjust="spacingAndGlyphs" color="#0000d0">V</text><text transform="translate(308.84 366.12) rotate(0.05) scale(1 1.750)" textLength="2.18" lengthAdjust="spacingAndGlyphs" color="#d00000">R</text><text transform="translate(311.12 367.60) rotate(0.05) scale(1 0.626)" textLength="2.18" lengthAdjust="spacingAndGlyphs" color="#0000d0">A</text><text transform="translate(311.12 366.26) rotate(0.05) scale(1 1.937)" textLength="2.18" lengthAdjust="spacingAndGlyphs" color="#d00000">K</text><text transform="translate(313.40 367.60) rotate(0.05) scale(1 0.613)" textLength="2.18" lengthAdjust="spacingAndGlyphs" color="#ffb300">G</text><text transform="translate(313.40 366.28) rotate(0.05) scale(1 1.974)" textLength="2.18" lengthAdjust="spacingAndGlyphs" color="#ff00ff">D</text><text transform="translate(315.68 367.60) rotate(0.05) scale(1 0.704)" textLength="2.18" lengthAdjust="spacingAndGlyphs" color="#009000">T</text><text transform="translate(315.68 366.09) rotate(0.05) scale(1 1.713)" textLength="2.18" lengthAdjust="spacingAndGlyphs" color="#0000d0">A</text><text transform="translate(317.96 367.60) rotate(0.05) scale(1 0.508)" textLength="2.18" lengthAdjust="spacingAndGlyphs" color="#ff00ff">E</text><text transform="translate(317.96 366.51) rotate(0.05) scale(1 2.272)" textLength="2.18" lengthAdjust="spacingAndGlyphs" color="#ffb300">G</text><text transform="translate(320.24 367.60) rotate(0.05) scale(1 0.521)" textLength="2.18" lengthAdjust="spacingAndGlyphs" color="#f2e600">P</text><text transform="translate(320.24 366.48) rotate(0.05) scale(1 2.235)" textLength="2.18" lengthAdjust="spacingAndGlyphs" color="#009000">S</text><text transform="translate(322.52 367.60) rotate(0.05) scale(1 2.756)" textLength="2.18" lengthAdjust="spacingAndGlyphs" color="#009000">Q</text><text transform="translate(324.80 367.60) rotate(0.05) scale(1 0.482)" textLength="2.18" lengthAdjust="spacingAndGlyphs" color="#009000">S</text><text transform="translate(324.80 366.56) rotate(0.05) scale(1 2.346)" textLength="2.18" lengthAdjust="spacingAndGlyphs" color="#0000d0">L</text><text transform="translate(327.08 367.60) rotate(0.05) scale(1 0.430)" textLength="2.18" lengthAdjust="spacingAndGlyphs" color="#009000">N</text><text transform="translate(327.08 366.68) rotate(0.05) scale(1 2.495)" textLength="2.18" lengthAdjust="spacingAndGlyphs" color="#0000d0">A</text><text transform="translate(329.36 367.60) rotate(0.05) scale(1 0.495)" textLength="2.18" lengthAdjust="spacingAndGlyphs" color="#ff00ff">D</text><text transform="translate(329.36 366.54) rotate(0.05) scale(1 2.309)" textLength="2.18" lengthAdjust="spacingAndGlyphs" color="#f2e600">P</text><text transform="translate(331.64 367.60) rotate(0.05) scale(1 0.417)" textLength="2.18" lengthAdjust="spacingAndGlyphs" color="#d00000">R</text><text transform="translate(331.64 366.70) rotate(0.05) scale(1 2.533)" textLength="2.18" lengthAdjust="spacingAndGlyphs" color="#0000d0">F</text><text transform="translate(333.92 367.60) rotate(0.05) scale(1 0.508)" textLength="2.18" lengthAdjust="spacingAndGlyphs" color="#0000d0">L</text><text transform="translate(333.92 366.51) rotate(0.05) scale(1 2.272)" textLength="2.18" lengthAdjust="spacingAndGlyphs" color="#d00000">R</text><text transform="translate(336.20 367.60) rotate(0.05) scale(1 0.587)" textLength="2.18" lengthAdjust="spacingAndGlyphs" color="#0000d0">V</text><text transform="translate(336.20 366.34) rotate(0.05) scale(1 2.048)" textLength="2.18" lengthAdjust="spacingAndGlyphs" color="#d00000">R</text><text transform="translate(338.48 367.60) rotate(0.05) scale(1 2.980)" textLength="2.18" lengthAdjust="spacingAndGlyphs" color="#0000d0">L</text><text transform="translate(340.76 367.60) rotate(0.05) scale(1 2.980)" textLength="2.18" lengthAdjust="spacingAndGlyphs" color="#0000d0">A</text><text transform="translate(343.04 367.60) rotate(0.05) scale(1 2.756)" textLength="2.18" lengthAdjust="spacingAndGlyphs" color="#0000d0">L</text><text transform="translate(345.32 367.60) rotate(0.05) scale(1 2.607)" textLength="2.18" lengthAdjust="spacingAndGlyphs" color="#009000">Q</text><text transform="translate(347.60 367.60) rotate(0.05) scale(1 0.574)" textLength="2.18" lengthAdjust="spacingAndGlyphs" color="#f2e600">P</text><text transform="translate(347.60 366.37) rotate(0.05) scale(1 2.086)" textLength="2.18" lengthAdjust="spacingAndGlyphs" color="#0000d0">A</text><text transform="translate(349.88 367.60) rotate(0.05) scale(1 0.613)" textLength="2.18" lengthAdjust="spacingAndGlyphs" color="#d00000">K</text><text transform="translate(349.88 366.28) rotate(0.05) scale(1 1.974)" textLength="2.18" lengthAdjust="spacingAndGlyphs" color="#ffb300">G</text><text transform="translate(352.16 367.60) rotate(0.05) scale(1 0.587)" textLength="2.18" lengthAdjust="spacingAndGlyphs" color="#009000">S</text><text transform="translate(352.16 366.34) rotate(0.05) scale(1 2.048)" textLength="2.18" lengthAdjust="spacingAndGlyphs" color="#d00000">K</text><text transform="translate(354.44 367.60) rotate(0.05) scale(1 0.691)" textLength="2.18" lengthAdjust="spacingAndGlyphs" color="#009000">N</text><text transform="translate(354.44 366.12) rotate(0.05) scale(1 1.750)" textLength="2.18" lengthAdjust="spacingAndGlyphs" color="#ff00ff">D</text><text transform="translate(356.72 367.60) rotate(0.05) scale(1 2.682)" textLength="2.18" lengthAdjust="spacingAndGlyphs" color="#009000">N</text><text transform="translate(359.00 367.60) rotate(0.05) scale(1 0.534)" textLength="2.18" lengthAdjust="spacingAndGlyphs" color="#d00000">R</text><text transform="translate(359.00 366.45) rotate(0.05) scale(1 2.197)" textLength="2.18" lengthAdjust="spacingAndGlyphs" color="#ff00ff">E</text><text transform="translate(361.28 367.60) rotate(0.05) scale(1 2.793)" textLength="2.18" lengthAdjust="spacingAndGlyphs" color="#ff00ff">D</text><text transform="translate(363.56 367.60) rotate(0.05) scale(1 0.534)" textLength="2.18" lengthAdjust="spacingAndGlyphs" color="#0000d0">V</text><text transform="translate(363.56 366.45) rotate(0.05) scale(1 2.197)" textLength="2.18" lengthAdjust="spacingAndGlyphs" color="#ffb300">G</text><text transform="translate(365.84 367.60) rotate(0.05) scale(1 2.942)" textLength="2.18" lengthAdjust="spacingAndGlyphs" color="#0000d0">A</text><text transform="translate(256.40 379.75) rotate(0.05) scale(1 0.574)" textLength="2.18" lengthAdjust="spacingAndGlyphs" color="#d00000">R</text><text transform="translate(256.40 378.52) rotate(0.05) scale(1 2.086)" textLength="2.18" lengthAdjust="spacingAndGlyphs" color="#0000d0">L</text><text transform="translate(258.68 379.75) rotate(0.05) scale(1 0.819)" textLength="2.18" lengthAdjust="spacingAndGlyphs" color="#0000d0">L</text><text transform="translate(258.68 377.99) rotate(0.05) scale(1 1.304)" textLength="2.18" lengthAdjust="spacingAndGlyphs" color="#009000">N</text><text transform="translate(260.96 379.75) rotate(0.05) scale(1 0.782)" textLength="2.18" lengthAdjust="spacingAndGlyphs" color="#0000d0">V</text><text transform="translate(260.96 378.07) rotate(0.05) scale(1 1.490)" textLength="2.18" lengthAdjust="spacingAndGlyphs" color="#009000">N</text><text transform="translate(263.24 379.75) rotate(0.05) scale(1 0.547)" textLength="2.18" lengthAdjust="spacingAndGlyphs" color="#0000d0">A</text><text transform="translate(263.24 378.57) rotate(0.05) scale(1 2.160)" textLength="2.18" lengthAdjust="spacingAndGlyphs" color="#ffb300">G</text><text transform="translate(265.52 379.75) rotate(0.05) scale(1 0.691)" textLength="2.18" lengthAdjust="spacingAndGlyphs" color="#ffb300">G</text><text transform="translate(265.52 378.27) rotate(0.05) scale(1 1.750)" textLength="2.18" lengthAdjust="spacingAndGlyphs" color="#009000">S</text><text transform="translate(267.80 379.75) rotate(0.05) scale(1 0.521)" textLength="2.18" lengthAdjust="spacingAndGlyphs" color="#009000">T</text><text transform="translate(267.80 378.63) rotate(0.05) scale(1 2.235)" textLength="2.18" lengthAdjust="spacingAndGlyphs" color="#d00000">R</text><text transform="translate(270.08 379.75) rotate(0.05) scale(1 0.717)" textLength="2.18" lengthAdjust="spacingAndGlyphs" color="#ff00ff">E</text><text transform="translate(270.08 378.21) rotate(0.05) scale(1 1.676)" textLength="2.18" lengthAdjust="spacingAndGlyphs" color="#0000d0">A</text><text transform="translate(272.36 379.75) rotate(0.05) scale(1 0.819)" textLength="2.18" lengthAdjust="spacingAndGlyphs" color="#f2e600">P</text><text transform="translate(272.36 377.99) rotate(0.05) scale(1 1.378)" textLength="2.18" lengthAdjust="spacingAndGlyphs" color="#ffb300">G</text><text transform="translate(274.64 379.75) rotate(0.05) scale(1 0.639)" textLength="2.18" lengthAdjust="spacingAndGlyphs" color="#d00000">K</text><text transform="translate(274.64 378.38) rotate(0.05) scale(1 1.899)" textLength="2.18" lengthAdjust="spacingAndGlyphs" color="#d00000">K</text><text transform="translate(276.92 379.75) rotate(0.05) scale(1 0.600)" textLength="2.18" lengthAdjust="spacingAndGlyphs" color="#009000">S</text><text transform="translate(276.92 378.46) rotate(0.05) scale(1 2.011)" textLength="2.18" lengthAdjust="spacingAndGlyphs" color="#ff00ff">D</text><text transform="translate(279.20 379.75) rotate(0.05) scale(1 0.756)" textLength="2.18" lengthAdjust="spacingAndGlyphs" color="#009000">N</text><text transform="translate(279.20 378.13) rotate(0.05) scale(1 1.564)" textLength="2.18" lengthAdjust="spacingAndGlyphs" color="#009000">N</text><text transform="translate(281.48 379.75) rotate(0.05) scale(1 0.819)" textLength="2.18" lengthAdjust="spacingAndGlyphs" color="#ff00ff">D</text><text transform="translate(281.48 377.99) rotate(0.05) scale(1 1.378)" textLength="2.18" lengthAdjust="spacingAndGlyphs" color="#0000d0">L</text><text transform="translate(283.76 379.75) rotate(0.05) scale(1 0.743)" textLength="2.18" lengthAdjust="spacingAndGlyphs" color="#d00000">R</text><text transform="translate(283.76 378.15) rotate(0.05) scale(1 1.601)" textLength="2.18" lengthAdjust="spacingAndGlyphs" color="#ffb300">G</text><text transform="translate(286.04 379.75) rotate(0.05) scale(1 0.534)" textLength="2.18" lengthAdjust="spacingAndGlyphs" color="#0000d0">L</text><text transform="translate(286.04 378.60) rotate(0.05) scale(1 2.197)" textLength="2.18" lengthAdjust="spacingAndGlyphs" color="#009000">S</text><text transform="translate(288.32 379.75) rotate(0.05) scale(1 0.600)" textLength="2.18" lengthAdjust="spacingAndGlyphs" color="#0000d0">V</text><text transform="translate(288.32 378.46) rotate(0.05) scale(1 2.011)" textLength="2.18" lengthAdjust="spacingAndGlyphs" color="#009000">S</text><text transform="translate(290.60 379.75) rotate(0.05) scale(1 0.808)" textLength="2.18" lengthAdjust="spacingAndGlyphs" color="#0000d0">A</text><text transform="translate(290.60 378.01) rotate(0.05) scale(1 1.415)" textLength="2.18" lengthAdjust="spacingAndGlyphs" color="#f2e600">P</text><text transform="translate(292.88 379.75) rotate(0.05) scale(1 0.769)" textLength="2.18" lengthAdjust="spacingAndGlyphs" color="#ffb300">G</text><text transform="translate(292.88 378.10) rotate(0.05) scale(1 1.527)" textLength="2.18" lengthAdjust="spacingAndGlyphs" color="#009000">S</text><text transform="translate(295.16 379.75) rotate(0.05) scale(1 0.808)" textLength="2.18" lengthAdjust="spacingAndGlyphs" color="#009000">T</text><text transform="translate(295.16 378.01) rotate(0.05) scale(1 1.415)" textLength="2.18" lengthAdjust="spacingAndGlyphs" color="#ffb300">G</text><text transform="translate(297.44 379.75) rotate(0.05) scale(1 0.819)" textLength="2.18" lengthAdjust="spacingAndGlyphs" color="#ff00ff">E</text><text transform="translate(297.44 377.99) rotate(0.05) scale(1 1.341)" textLength="2.18" lengthAdjust="spacingAndGlyphs" color="#d00000">K</text><text transform="translate(299.72 379.75) rotate(0.05) scale(1 0.587)" textLength="2.18" lengthAdjust="spacingAndGlyphs" color="#f2e600">P</text><text transform="translate(299.72 378.49) rotate(0.05) scale(1 2.048)" textLength="2.18" lengthAdjust="spacingAndGlyphs" color="#0000d0">L</text><text transform="translate(302.00 379.75) rotate(0.05) scale(1 0.795)" textLength="2.18" lengthAdjust="spacingAndGlyphs" color="#d00000">K</text><text transform="translate(302.00 378.04) rotate(0.05) scale(1 1.453)" textLength="2.18" lengthAdjust="spacingAndGlyphs" color="#ff00ff">D</text><text transform="translate(304.28 379.75) rotate(0.05) scale(1 0.665)" textLength="2.18" lengthAdjust="spacingAndGlyphs" color="#009000">S</text><text transform="translate(304.28 378.32) rotate(0.05) scale(1 1.825)" textLength="2.18" lengthAdjust="spacingAndGlyphs" color="#ffb300">G</text><text transform="translate(306.56 379.75) rotate(0.05) scale(1 0.704)" textLength="2.18" lengthAdjust="spacingAndGlyphs" color="#009000">N</text><text transform="translate(306.56 378.24) rotate(0.05) scale(1 1.713)" textLength="2.18" lengthAdjust="spacingAndGlyphs" color="#009000">S</text><text transform="translate(308.84 379.75) rotate(0.05) scale(1 0.782)" textLength="2.18" lengthAdjust="spacingAndGlyphs" color="#ff00ff">D</text><text transform="translate(308.84 378.07) rotate(0.05) scale(1 1.490)" textLength="2.18" lengthAdjust="spacingAndGlyphs" color="#0000d0">L</text><text transform="translate(311.12 379.75) rotate(0.05) scale(1 0.613)" textLength="2.18" lengthAdjust="spacingAndGlyphs" color="#d00000">R</text><text transform="translate(311.12 378.43) rotate(0.05) scale(1 1.974)" textLength="2.18" lengthAdjust="spacingAndGlyphs" color="#009000">S</text><text transform="translate(313.40 379.75) rotate(0.05) scale(1 0.808)" textLength="2.18" lengthAdjust="spacingAndGlyphs" color="#0000d0">L</text><text transform="translate(313.40 378.01) rotate(0.05) scale(1 1.415)" textLength="2.18" lengthAdjust="spacingAndGlyphs" color="#ffb300">G</text><text transform="translate(315.68 379.75) rotate(0.05) scale(1 0.639)" textLength="2.18" lengthAdjust="spacingAndGlyphs" color="#0000d0">V</text><text transform="translate(315.68 378.38) rotate(0.05) scale(1 1.899)" textLength="2.18" lengthAdjust="spacingAndGlyphs" color="#ff00ff">E</text><text transform="translate(317.96 379.75) rotate(0.05) scale(1 0.808)" textLength="2.18" lengthAdjust="spacingAndGlyphs" color="#0000d0">A</text><text transform="translate(317.96 378.01) rotate(0.05) scale(1 1.415)" textLength="2.18" lengthAdjust="spacingAndGlyphs" color="#0000d0">M</text><text transform="translate(320.24 379.75) rotate(0.05) scale(1 0.704)" textLength="2.18" lengthAdjust="spacingAndGlyphs" color="#ffb300">G</text><text transform="translate(320.24 378.24) rotate(0.05) scale(1 1.713)" textLength="2.18" lengthAdjust="spacingAndGlyphs" color="#009000">S</text><text transform="translate(256.40 391.90) rotate(0.05) scale(1 2.793)" textLength="2.18" lengthAdjust="spacingAndGlyphs" color="#ffb300">G</text><text transform="translate(258.68 391.90) rotate(0.05) scale(1 2.868)" textLength="2.18" lengthAdjust="spacingAndGlyphs" color="#ff00ff">D</text><text transform="translate(260.96 391.90) rotate(0.05) scale(1 3.501)" textLength="2.18" lengthAdjust="spacingAndGlyphs" color="#0000d0">C</text><text transform="translate(263.24 391.90) rotate(0.05) scale(1 3.352)" textLength="2.18" lengthAdjust="spacingAndGlyphs" color="#2fd8c8">Y</text><text transform="translate(265.52 391.90) rotate(0.05) scale(1 2.905)" textLength="2.18" lengthAdjust="spacingAndGlyphs" color="#009000">T</text><text transform="translate(267.80 391.90) rotate(0.05) scale(1 3.426)" textLength="2.18" lengthAdjust="spacingAndGlyphs" color="#0000d0">L</text><text transform="translate(270.08 391.90) rotate(0.05) scale(1 2.793)" textLength="2.18" lengthAdjust="spacingAndGlyphs" color="#f2e600">P</text><text transform="translate(272.36 391.90) rotate(0.05) scale(1 2.980)" textLength="2.18" lengthAdjust="spacingAndGlyphs" color="#009000">N</text><text transform="translate(274.64 391.90) rotate(0.05) scale(1 3.389)" textLength="2.18" lengthAdjust="spacingAndGlyphs" color="#0000d0">L</text><text transform="translate(276.92 391.90) rotate(0.05) scale(1 3.203)" textLength="2.18" lengthAdjust="spacingAndGlyphs" color="#f2e600">P</text><text transform="translate(279.20 391.90) rotate(0.05) scale(1 2.719)" textLength="2.18" lengthAdjust="spacingAndGlyphs" color="#ffb300">G</text><text transform="translate(281.48 391.90) rotate(0.05) scale(1 3.538)" textLength="2.18" lengthAdjust="spacingAndGlyphs" color="#0000d0">V</text><text transform="translate(283.76 391.90) rotate(0.05) scale(1 2.793)" textLength="2.18" lengthAdjust="spacingAndGlyphs" color="#ff00ff">D</text><text transform="translate(286.04 391.90) rotate(0.05) scale(1 2.831)" textLength="2.18" lengthAdjust="spacingAndGlyphs" color="#d00000">K</text><text transform="translate(288.32 391.90) rotate(0.05) scale(1 3.315)" textLength="2.18" lengthAdjust="spacingAndGlyphs" color="#ff00ff">D</text><text transform="translate(290.60 391.90) rotate(0.05) scale(1 2.905)" textLength="2.18" lengthAdjust="spacingAndGlyphs" color="#0000d0">C</text><text transform="translate(292.88 391.90) rotate(0.05) scale(1 2.868)" textLength="2.18" lengthAdjust="spacingAndGlyphs" color="#ffb300">G</text><text transform="translate(295.16 391.90) rotate(0.05) scale(1 2.682)" textLength="2.18" lengthAdjust="spacingAndGlyphs" color="#ff00ff">E</text><text transform="translate(297.44 391.90) rotate(0.05) scale(1 2.682)" textLength="2.18" lengthAdjust="spacingAndGlyphs" color="#0000d0">A</text><text transform="translate(299.72 391.90) rotate(0.05) scale(1 3.166)" textLength="2.18" lengthAdjust="spacingAndGlyphs" color="#0000d0">F</text><text transform="translate(302.00 391.90) rotate(0.05) scale(1 2.831)" textLength="2.18" lengthAdjust="spacingAndGlyphs" color="#0000d0">F</text><text transform="translate(304.28 391.90) rotate(0.05) scale(1 3.166)" textLength="2.18" lengthAdjust="spacingAndGlyphs" color="#0000d0">L</text><text transform="translate(306.56 391.90) rotate(0.05) scale(1 2.942)" textLength="2.18" lengthAdjust="spacingAndGlyphs" color="#d00000">R</text><text transform="translate(308.84 391.90) rotate(0.05) scale(1 3.017)" textLength="2.18" lengthAdjust="spacingAndGlyphs" color="#0000d0">L</text><text transform="translate(311.12 391.90) rotate(0.05) scale(1 3.501)" textLength="2.18" lengthAdjust="spacingAndGlyphs" color="#ff9aa8">H</text><text transform="translate(313.40 391.90) rotate(0.05) scale(1 3.054)" textLength="2.18" lengthAdjust="spacingAndGlyphs" color="#d00000">K</text><text transform="translate(315.68 391.90) rotate(0.05) scale(1 3.128)" textLength="2.18" lengthAdjust="spacingAndGlyphs" color="#0000d0">M</text><text transform="translate(317.96 391.90) rotate(0.05) scale(1 3.426)" textLength="2.18" lengthAdjust="spacingAndGlyphs" color="#0000d0">V</text><text transform="translate(320.24 391.90) rotate(0.05) scale(1 2.793)" textLength="2.18" lengthAdjust="spacingAndGlyphs" color="#0000d0">L</text><text transform="translate(322.52 391.90) rotate(0.05) scale(1 2.756)" textLength="2.18" lengthAdjust="spacingAndGlyphs" color="#009000">T</text><text transform="translate(324.80 391.90) rotate(0.05) scale(1 3.464)" textLength="2.18" lengthAdjust="spacingAndGlyphs" color="#009000">T</text><text transform="translate(327.08 391.90) rotate(0.05) scale(1 3.352)" textLength="2.18" lengthAdjust="spacingAndGlyphs" color="#009000">T</text><text transform="translate(329.36 391.90) rotate(0.05) scale(1 2.831)" textLength="2.18" lengthAdjust="spacingAndGlyphs" color="#d00000">R</text><text transform="translate(331.64 391.90) rotate(0.05) scale(1 2.793)" textLength="2.18" lengthAdjust="spacingAndGlyphs" color="#d00000">R</text><text transform="translate(333.92 391.90) rotate(0.05) scale(1 3.277)" textLength="2.18" lengthAdjust="spacingAndGlyphs" color="#d00000">R</text><text transform="translate(336.20 391.90) rotate(0.05) scale(1 3.501)" textLength="2.18" lengthAdjust="spacingAndGlyphs" color="#d00000">R</text><text transform="translate(338.48 391.90) rotate(0.05) scale(1 2.793)" textLength="2.18" lengthAdjust="spacingAndGlyphs" color="#0000d0">L</text><text transform="translate(340.76 391.90) rotate(0.05) scale(1 3.501)" textLength="2.18" lengthAdjust="spacingAndGlyphs" color="#f2e600">P</text><text transform="translate(343.04 391.90) rotate(0.05) scale(1 3.426)" textLength="2.18" lengthAdjust="spacingAndGlyphs" color="#0000d0">A</text><text transform="translate(345.32 391.90) rotate(0.05) scale(1 3.166)" textLength="2.18" lengthAdjust="spacingAndGlyphs" color="#ffb300">G</text><text transform="translate(347.60 391.90) rotate(0.05) scale(1 3.017)" textLength="2.18" lengthAdjust="spacingAndGlyphs" color="#009000">S</text><text transform="translate(256.40 404.05) rotate(0.05) scale(1 0.665)" textLength="2.18" lengthAdjust="spacingAndGlyphs" color="#ff00ff">E</text><text transform="translate(256.40 402.62) rotate(0.05) scale(1 1.825)" textLength="2.18" lengthAdjust="spacingAndGlyphs" color="#ff00ff">E</text><text transform="translate(258.68 404.05) rotate(0.05) scale(1 0.691)" textLength="2.18" lengthAdjust="spacingAndGlyphs" color="#f2e600">P</text><text transform="translate(258.68 402.57) rotate(0.05) scale(1 1.750)" textLength="2.18" lengthAdjust="spacingAndGlyphs" color="#0000d0">L</text><text transform="translate(260.96 404.05) rotate(0.05) scale(1 3.128)" textLength="2.18" lengthAdjust="spacingAndGlyphs" color="#0000d0">M</text><text transform="translate(263.24 404.05) rotate(0.05) scale(1 0.587)" textLength="2.18" lengthAdjust="spacingAndGlyphs" color="#009000">S</text><text transform="translate(263.24 402.79) rotate(0.05) scale(1 2.048)" textLength="2.18" lengthAdjust="spacingAndGlyphs" color="#ff9aa8">H</text><text transform="translate(265.52 404.05) rotate(0.05) scale(1 2.719)" textLength="2.18" lengthAdjust="spacingAndGlyphs" color="#009000">S</text><text transform="translate(267.80 404.05) rotate(0.05) scale(1 0.587)" textLength="2.18" lengthAdjust="spacingAndGlyphs" color="#ff00ff">D</text><text transform="translate(267.80 402.79) rotate(0.05) scale(1 2.048)" textLength="2.18" lengthAdjust="spacingAndGlyphs" color="#0000d0">L</text><text transform="translate(270.08 404.05) rotate(0.05) scale(1 2.905)" textLength="2.18" lengthAdjust="spacingAndGlyphs" color="#ffb300">G</text><text transform="translate(272.36 404.05) rotate(0.05) scale(1 0.404)" textLength="2.18" lengthAdjust="spacingAndGlyphs" color="#0000d0">L</text><text transform="translate(272.36 403.18) rotate(0.05) scale(1 2.570)" textLength="2.18" lengthAdjust="spacingAndGlyphs" color="#ff00ff">E</text><text transform="translate(274.64 404.05) rotate(0.05) scale(1 0.561)" textLength="2.18" lengthAdjust="spacingAndGlyphs" color="#0000d0">V</text><text transform="translate(274.64 402.85) rotate(0.05) scale(1 2.123)" textLength="2.18" lengthAdjust="spacingAndGlyphs" color="#0000d0">M</text><text transform="translate(276.92 404.05) rotate(0.05) scale(1 0.626)" textLength="2.18" lengthAdjust="spacingAndGlyphs" color="#0000d0">A</text><text transform="translate(276.92 402.71) rotate(0.05) scale(1 1.937)" textLength="2.18" lengthAdjust="spacingAndGlyphs" color="#2fd8c8">Y</text><text transform="translate(279.20 404.05) rotate(0.05) scale(1 2.756)" textLength="2.18" lengthAdjust="spacingAndGlyphs" color="#ff00ff">D</text><text transform="translate(281.48 404.05) rotate(0.05) scale(1 0.678)" textLength="2.18" lengthAdjust="spacingAndGlyphs" color="#009000">T</text><text transform="translate(281.48 402.59) rotate(0.05) scale(1 1.788)" textLength="2.18" lengthAdjust="spacingAndGlyphs" color="#0000d0">L</text><text transform="translate(283.76 404.05) rotate(0.05) scale(1 0.600)" textLength="2.18" lengthAdjust="spacingAndGlyphs" color="#ff00ff">E</text><text transform="translate(283.76 402.76) rotate(0.05) scale(1 2.011)" textLength="2.18" lengthAdjust="spacingAndGlyphs" color="#f2e600">P</text><text transform="translate(286.04 404.05) rotate(0.05) scale(1 0.430)" textLength="2.18" lengthAdjust="spacingAndGlyphs" color="#f2e600">P</text><text transform="translate(286.04 403.13) rotate(0.05) scale(1 2.495)" textLength="2.18" lengthAdjust="spacingAndGlyphs" color="#009000">N</text><text transform="translate(288.32 404.05) rotate(0.05) scale(1 2.942)" textLength="2.18" lengthAdjust="spacingAndGlyphs" color="#ffb300">G</text><text transform="translate(290.60 404.05) rotate(0.05) scale(1 2.607)" textLength="2.18" lengthAdjust="spacingAndGlyphs" color="#009000">S</text><text transform="translate(292.88 404.05) rotate(0.05) scale(1 0.574)" textLength="2.18" lengthAdjust="spacingAndGlyphs" color="#009000">N</text><text transform="translate(292.88 402.82) rotate(0.05) scale(1 2.086)" textLength="2.18" lengthAdjust="spacingAndGlyphs" color="#f2e600">P</text><text transform="translate(295.16 404.05) rotate(0.05) scale(1 3.054)" textLength="2.18" lengthAdjust="spacingAndGlyphs" color="#009000">S</text><text transform="translate(297.44 404.05) rotate(0.05) scale(1 0.613)" textLength="2.18" lengthAdjust="spacingAndGlyphs" color="#d00000">R</text><text transform="translate(297.44 402.73) rotate(0.05) scale(1 1.974)" textLength="2.18" lengthAdjust="spacingAndGlyphs" color="#ff9aa8">H</text><text transform="translate(299.72 404.05) rotate(0.05) scale(1 0.704)" textLength="2.18" lengthAdjust="spacingAndGlyphs" color="#0000d0">L</text><text transform="translate(299.72 402.54) rotate(0.05) scale(1 1.713)" textLength="2.18" lengthAdjust="spacingAndGlyphs" color="#009000">S</text><text transform="translate(302.00 404.05) rotate(0.05) scale(1 0.574)" textLength="2.18" lengthAdjust="spacingAndGlyphs" color="#0000d0">V</text><text transform="translate(302.00 402.82) rotate(0.05) scale(1 2.086)" textLength="2.18" lengthAdjust="spacingAndGlyphs" color="#0000d0">L</text><text transform="translate(304.28 404.05) rotate(0.05) scale(1 0.482)" textLength="2.18" lengthAdjust="spacingAndGlyphs" color="#0000d0">A</text><text transform="translate(304.28 403.01) rotate(0.05) scale(1 2.346)" textLength="2.18" lengthAdjust="spacingAndGlyphs" color="#0000d0">L</text><text transform="translate(306.56 404.05) rotate(0.05) scale(1 0.691)" textLength="2.18" lengthAdjust="spacingAndGlyphs" color="#ffb300">G</text><text transform="translate(306.56 402.57) rotate(0.05) scale(1 1.750)" textLength="2.18" lengthAdjust="spacingAndGlyphs" color="#ffb300">G</text><text transform="translate(308.84 404.05) rotate(0.05) scale(1 0.626)" textLength="2.18" lengthAdjust="spacingAndGlyphs" color="#009000">T</text><text transform="translate(308.84 402.71) rotate(0.05) scale(1 1.937)" textLength="2.18" lengthAdjust="spacingAndGlyphs" color="#ff00ff">E</text><text transform="translate(311.12 404.05) rotate(0.05) scale(1 0.521)" textLength="2.18" lengthAdjust="spacingAndGlyphs" color="#ff00ff">E</text><text transform="translate(311.12 402.93) rotate(0.05) scale(1 2.235)" textLength="2.18" lengthAdjust="spacingAndGlyphs" color="#0000d0">M</text><text transform="translate(313.40 404.05) rotate(0.05) scale(1 0.417)" textLength="2.18" lengthAdjust="spacingAndGlyphs" color="#f2e600">P</text><text transform="translate(313.40 403.15) rotate(0.05) scale(1 2.533)" textLength="2.18" lengthAdjust="spacingAndGlyphs" color="#ffb300">G</text><text transform="translate(315.68 404.05) rotate(0.05) scale(1 0.652)" textLength="2.18" lengthAdjust="spacingAndGlyphs" color="#d00000">K</text><text transform="translate(315.68 402.65) rotate(0.05) scale(1 1.862)" textLength="2.18" lengthAdjust="spacingAndGlyphs" color="#0000d0">A</text><text transform="translate(317.96 404.05) rotate(0.05) scale(1 0.534)" textLength="2.18" lengthAdjust="spacingAndGlyphs" color="#009000">S</text><text transform="translate(317.96 402.90) rotate(0.05) scale(1 2.197)" textLength="2.18" lengthAdjust="spacingAndGlyphs" color="#f2e600">P</text><text transform="translate(320.24 404.05) rotate(0.05) scale(1 3.017)" textLength="2.18" lengthAdjust="spacingAndGlyphs" color="#0000d0">L</text><text transform="translate(322.52 404.05) rotate(0.05) scale(1 3.128)" textLength="2.18" lengthAdjust="spacingAndGlyphs" color="#009000">S</text><text transform="translate(324.80 404.05) rotate(0.05) scale(1 2.644)" textLength="2.18" lengthAdjust="spacingAndGlyphs" color="#ffb300">G</text><text transform="translate(327.08 404.05) rotate(0.05) scale(1 2.719)" textLength="2.18" lengthAdjust="spacingAndGlyphs" color="#009000">T</text><text transform="translate(329.36 404.05) rotate(0.05) scale(1 0.417)" textLength="2.18" lengthAdjust="spacingAndGlyphs" color="#0000d0">V</text><text transform="translate(329.36 403.15) rotate(0.05) scale(1 2.533)" textLength="2.18" lengthAdjust="spacingAndGlyphs" color="#f2e600">P</text><text transform="translate(331.64 404.05) rotate(0.05) scale(1 0.639)" textLength="2.18" lengthAdjust="spacingAndGlyphs" color="#0000d0">A</text><text transform="translate(331.64 402.68) rotate(0.05) scale(1 1.899)" textLength="2.18" lengthAdjust="spacingAndGlyphs" color="#0000d0">M</text><text transform="translate(333.92 404.05) rotate(0.05) scale(1 0.704)" textLength="2.18" lengthAdjust="spacingAndGlyphs" color="#ffb300">G</text><text transform="translate(333.92 402.54) rotate(0.05) scale(1 1.713)" textLength="2.18" lengthAdjust="spacingAndGlyphs" color="#0000d0">L</text><text transform="translate(336.20 404.05) rotate(0.05) scale(1 0.704)" textLength="2.18" lengthAdjust="spacingAndGlyphs" color="#009000">T</text><text transform="translate(336.20 402.54) rotate(0.05) scale(1 1.713)" textLength="2.18" lengthAdjust="spacingAndGlyphs" color="#009000">N</text><text transform="translate(338.48 404.05) rotate(0.05) scale(1 3.017)" textLength="2.18" lengthAdjust="spacingAndGlyphs" color="#0000d0">L</text><text transform="translate(340.76 404.05) rotate(0.05) scale(1 2.719)" textLength="2.18" lengthAdjust="spacingAndGlyphs" color="#009000">S</text><text transform="translate(343.04 404.05) rotate(0.05) scale(1 3.128)" textLength="2.18" lengthAdjust="spacingAndGlyphs" color="#0000d0">C</text><text transform="translate(345.32 404.05) rotate(0.05) scale(1 0.704)" textLength="2.18" lengthAdjust="spacingAndGlyphs" color="#009000">S</text><text transform="translate(345.32 402.54) rotate(0.05) scale(1 1.713)" textLength="2.18" lengthAdjust="spacingAndGlyphs" color="#009000">T</text><text transform="translate(347.60 404.05) rotate(0.05) scale(1 2.607)" textLength="2.18" lengthAdjust="spacingAndGlyphs" color="#0000d0">L</text><text transform="translate(349.88 404.05) rotate(0.05) scale(1 0.469)" textLength="2.18" lengthAdjust="spacingAndGlyphs" color="#ff00ff">D</text><text transform="translate(349.88 403.04) rotate(0.05) scale(1 2.384)" textLength="2.18" lengthAdjust="spacingAndGlyphs" color="#ff00ff">D</text><text transform="translate(352.16 404.05) rotate(0.05) scale(1 2.756)" textLength="2.18" lengthAdjust="spacingAndGlyphs" color="#0000d0">A</text><text transform="translate(354.44 404.05) rotate(0.05) scale(1 0.547)" textLength="2.18" lengthAdjust="spacingAndGlyphs" color="#0000d0">L</text><text transform="translate(354.44 402.87) rotate(0.05) scale(1 2.160)" textLength="2.18" lengthAdjust="spacingAndGlyphs" color="#ff00ff">E</text><text transform="translate(356.72 404.05) rotate(0.05) scale(1 3.166)" textLength="2.18" lengthAdjust="spacingAndGlyphs" color="#0000d0">L</text><text transform="translate(359.00 404.05) rotate(0.05) scale(1 0.678)" textLength="2.18" lengthAdjust="spacingAndGlyphs" color="#0000d0">A</text><text transform="translate(359.00 402.59) rotate(0.05) scale(1 1.788)" textLength="2.18" lengthAdjust="spacingAndGlyphs" color="#ffb300">G</text><text transform="translate(361.28 404.05) rotate(0.05) scale(1 0.430)" textLength="2.18" lengthAdjust="spacingAndGlyphs" color="#ffb300">G</text><text transform="translate(361.28 403.13) rotate(0.05) scale(1 2.495)" textLength="2.18" lengthAdjust="spacingAndGlyphs" color="#ff00ff">D</text><text transform="translate(363.56 404.05) rotate(0.05) scale(1 2.756)" textLength="2.18" lengthAdjust="spacingAndGlyphs" color="#0000d0">M</text><text transform="translate(365.84 404.05) rotate(0.05) scale(1 3.017)" textLength="2.18" lengthAdjust="spacingAndGlyphs" color="#009000">S</text><text transform="translate(368.12 404.05) rotate(0.05) scale(1 2.756)" textLength="2.18" lengthAdjust="spacingAndGlyphs" color="#ff9aa8">H</text><text transform="translate(256.40 416.20) rotate(0.05) scale(1 2.607)" textLength="2.18" lengthAdjust="spacingAndGlyphs" color="#0000d0">L</text><text transform="translate(258.68 416.20) rotate(0.05) scale(1 2.719)" textLength="2.18" lengthAdjust="spacingAndGlyphs" color="#ffb300">G</text><text transform="translate(260.96 416.20) rotate(0.05) scale(1 2.868)" textLength="2.18" lengthAdjust="spacingAndGlyphs" color="#ff00ff">D</text><text transform="translate(263.24 416.20) rotate(0.05) scale(1 0.561)" textLength="2.18" lengthAdjust="spacingAndGlyphs" color="#ff00ff">E</text><text transform="translate(263.24 415.00) rotate(0.05) scale(1 2.123)" textLength="2.18" lengthAdjust="spacingAndGlyphs" color="#ffb300">G</text><text transform="translate(265.52 416.20) rotate(0.05) scale(1 0.404)" textLength="2.18" lengthAdjust="spacingAndGlyphs" color="#f2e600">P</text><text transform="translate(265.52 415.33) rotate(0.05) scale(1 2.570)" textLength="2.18" lengthAdjust="spacingAndGlyphs" color="#009000">S</text><text transform="translate(267.80 416.20) rotate(0.05) scale(1 2.868)" textLength="2.18" lengthAdjust="spacingAndGlyphs" color="#0000d0">F</text><text transform="translate(270.08 416.20) rotate(0.05) scale(1 2.793)" textLength="2.18" lengthAdjust="spacingAndGlyphs" color="#f2e600">P</text><text transform="translate(272.36 416.20) rotate(0.05) scale(1 0.521)" textLength="2.18" lengthAdjust="spacingAndGlyphs" color="#009000">N</text><text transform="translate(272.36 415.08) rotate(0.05) scale(1 2.235)" textLength="2.18" lengthAdjust="spacingAndGlyphs" color="#ffb300">G</text><text transform="translate(274.64 416.20) rotate(0.05) scale(1 2.719)" textLength="2.18" lengthAdjust="spacingAndGlyphs" color="#ff00ff">D</text><text transform="translate(276.92 416.20) rotate(0.05) scale(1 2.793)" textLength="2.18" lengthAdjust="spacingAndGlyphs" color="#009000">N</text><text transform="translate(279.20 416.20) rotate(0.05) scale(1 0.456)" textLength="2.18" lengthAdjust="spacingAndGlyphs" color="#0000d0">L</text><text transform="translate(279.20 415.22) rotate(0.05) scale(1 2.421)" textLength="2.18" lengthAdjust="spacingAndGlyphs" color="#0000d0">F</text><text transform="translate(281.48 416.20) rotate(0.05) scale(1 0.430)" textLength="2.18" lengthAdjust="spacingAndGlyphs" color="#0000d0">V</text><text transform="translate(281.48 415.28) rotate(0.05) scale(1 2.495)" textLength="2.18" lengthAdjust="spacingAndGlyphs" color="#ff00ff">E</text><text transform="translate(283.76 416.20) rotate(0.05) scale(1 0.547)" textLength="2.18" lengthAdjust="spacingAndGlyphs" color="#0000d0">A</text><text transform="translate(283.76 415.02) rotate(0.05) scale(1 2.160)" textLength="2.18" lengthAdjust="spacingAndGlyphs" color="#0000d0">L</text><text transform="translate(286.04 416.20) rotate(0.05) scale(1 0.456)" textLength="2.18" lengthAdjust="spacingAndGlyphs" color="#ffb300">G</text><text transform="translate(286.04 415.22) rotate(0.05) scale(1 2.421)" textLength="2.18" lengthAdjust="spacingAndGlyphs" color="#0000d0">M</text><text transform="translate(288.32 416.20) rotate(0.05) scale(1 0.443)" textLength="2.18" lengthAdjust="spacingAndGlyphs" color="#009000">T</text><text transform="translate(288.32 415.25) rotate(0.05) scale(1 2.458)" textLength="2.18" lengthAdjust="spacingAndGlyphs" color="#0000d0">A</text><text transform="translate(290.60 416.20) rotate(0.05) scale(1 0.678)" textLength="2.18" lengthAdjust="spacingAndGlyphs" color="#ff00ff">E</text><text transform="translate(290.60 414.74) rotate(0.05) scale(1 1.788)" textLength="2.18" lengthAdjust="spacingAndGlyphs" color="#ffb300">G</text><text transform="translate(292.88 416.20) rotate(0.05) scale(1 0.430)" textLength="2.18" lengthAdjust="spacingAndGlyphs" color="#f2e600">P</text><text transform="translate(292.88 415.28) rotate(0.05) scale(1 2.495)" textLength="2.18" lengthAdjust="spacingAndGlyphs" color="#ff00ff">D</text><text transform="translate(295.16 416.20) rotate(0.05) scale(1 2.980)" textLength="2.18" lengthAdjust="spacingAndGlyphs" color="#0000d0">M</text><text transform="translate(297.44 416.20) rotate(0.05) scale(1 2.831)" textLength="2.18" lengthAdjust="spacingAndGlyphs" color="#ffb300">G</text><text transform="translate(299.72 416.20) rotate(0.05) scale(1 2.607)" textLength="2.18" lengthAdjust="spacingAndGlyphs" color="#009000">S</text><text transform="translate(302.00 416.20) rotate(0.05) scale(1 0.534)" textLength="2.18" lengthAdjust="spacingAndGlyphs" color="#ff00ff">D</text><text transform="translate(302.00 415.05) rotate(0.05) scale(1 2.197)" textLength="2.18" lengthAdjust="spacingAndGlyphs" color="#ff00ff">D</text><text transform="translate(304.28 416.20) rotate(0.05) scale(1 2.644)" textLength="2.18" lengthAdjust="spacingAndGlyphs" color="#d00000">R</text><text transform="translate(306.56 416.20) rotate(0.05) scale(1 0.456)" textLength="2.18" lengthAdjust="spacingAndGlyphs" color="#0000d0">L</text><text transform="translate(306.56 415.22) rotate(0.05) scale(1 2.421)" textLength="2.18" lengthAdjust="spacingAndGlyphs" color="#009000">N</text><text transform="translate(308.84 416.20) rotate(0.05) scale(1 0.521)" textLength="2.18" lengthAdjust="spacingAndGlyphs" color="#0000d0">V</text><text transform="translate(308.84 415.08) rotate(0.05) scale(1 2.235)" textLength="2.18" lengthAdjust="spacingAndGlyphs" color="#ff00ff">D</text><text transform="translate(311.12 416.20) rotate(0.05) scale(1 2.756)" textLength="2.18" lengthAdjust="spacingAndGlyphs" color="#ffb300">G</text><text transform="translate(313.40 416.20) rotate(0.05) scale(1 0.678)" textLength="2.18" lengthAdjust="spacingAndGlyphs" color="#ffb300">G</text><text transform="translate(313.40 414.74) rotate(0.05) scale(1 1.788)" textLength="2.18" lengthAdjust="spacingAndGlyphs" color="#009000">S</text><text transform="translate(315.68 416.20) rotate(0.05) scale(1 2.644)" textLength="2.18" lengthAdjust="spacingAndGlyphs" color="#ffb300">G</text><text transform="translate(317.96 416.20) rotate(0.05) scale(1 0.704)" textLength="2.18" lengthAdjust="spacingAndGlyphs" color="#ff00ff">E</text><text transform="translate(317.96 414.69) rotate(0.05) scale(1 1.713)" textLength="2.18" lengthAdjust="spacingAndGlyphs" color="#ff00ff">E</text><text transform="translate(320.24 416.20) rotate(0.05) scale(1 0.443)" textLength="2.18" lengthAdjust="spacingAndGlyphs" color="#f2e600">P</text><text transform="translate(320.24 415.25) rotate(0.05) scale(1 2.458)" textLength="2.18" lengthAdjust="spacingAndGlyphs" color="#0000d0">L</text><text transform="translate(322.52 416.20) rotate(0.05) scale(1 0.495)" textLength="2.18" lengthAdjust="spacingAndGlyphs" color="#d00000">K</text><text transform="translate(322.52 415.14) rotate(0.05) scale(1 2.309)" textLength="2.18" lengthAdjust="spacingAndGlyphs" color="#0000d0">M</text><text transform="translate(324.80 416.20) rotate(0.05) scale(1 0.613)" textLength="2.18" lengthAdjust="spacingAndGlyphs" color="#009000">S</text><text transform="translate(324.80 414.88) rotate(0.05) scale(1 1.974)" textLength="2.18" lengthAdjust="spacingAndGlyphs" color="#2fd8c8">Y</text><text transform="translate(327.08 416.20) rotate(0.05) scale(1 0.404)" textLength="2.18" lengthAdjust="spacingAndGlyphs" color="#009000">N</text><text transform="translate(327.08 415.33) rotate(0.05) scale(1 2.570)" textLength="2.18" lengthAdjust="spacingAndGlyphs" color="#ff00ff">E</text><text transform="translate(329.36 416.20) rotate(0.05) scale(1 0.495)" textLength="2.18" lengthAdjust="spacingAndGlyphs" color="#ff00ff">D</text><text transform="translate(329.36 415.14) rotate(0.05) scale(1 2.309)" textLength="2.18" lengthAdjust="spacingAndGlyphs" color="#ff00ff">D</text><text transform="translate(331.64 416.20) rotate(0.05) scale(1 0.430)" textLength="2.18" lengthAdjust="spacingAndGlyphs" color="#d00000">R</text><text transform="translate(331.64 415.28) rotate(0.05) scale(1 2.495)" textLength="2.18" lengthAdjust="spacingAndGlyphs" color="#009000">N</text><text transform="translate(333.92 416.20) rotate(0.05) scale(1 2.868)" textLength="2.18" lengthAdjust="spacingAndGlyphs" color="#ffb300">G</text><text transform="translate(336.20 416.20) rotate(0.05) scale(1 0.600)" textLength="2.18" lengthAdjust="spacingAndGlyphs" color="#0000d0">V</text><text transform="translate(336.20 414.91) rotate(0.05) scale(1 2.011)" textLength="2.18" lengthAdjust="spacingAndGlyphs" color="#ff00ff">D</text><text transform="translate(338.48 416.20) rotate(0.05) scale(1 0.717)" textLength="2.18" lengthAdjust="spacingAndGlyphs" color="#0000d0">A</text><text transform="translate(338.48 414.66) rotate(0.05) scale(1 1.676)" textLength="2.18" lengthAdjust="spacingAndGlyphs" color="#009000">S</text><text transform="translate(340.76 416.20) rotate(0.05) scale(1 0.574)" textLength="2.18" lengthAdjust="spacingAndGlyphs" color="#ffb300">G</text><text transform="translate(340.76 414.97) rotate(0.05) scale(1 2.086)" textLength="2.18" lengthAdjust="spacingAndGlyphs" color="#0000d0">F</text><text transform="translate(343.04 416.20) rotate(0.05) scale(1 0.404)" textLength="2.18" lengthAdjust="spacingAndGlyphs" color="#009000">T</text><text transform="translate(343.04 415.33) rotate(0.05) scale(1 2.570)" textLength="2.18" lengthAdjust="spacingAndGlyphs" color="#ff00ff">E</text><text transform="translate(345.32 416.20) rotate(0.05) scale(1 0.626)" textLength="2.18" lengthAdjust="spacingAndGlyphs" color="#ff00ff">E</text><text transform="translate(345.32 414.86) rotate(0.05) scale(1 1.937)" textLength="2.18" lengthAdjust="spacingAndGlyphs" color="#009000">S</text><text transform="translate(347.60 416.20) rotate(0.05) scale(1 0.639)" textLength="2.18" lengthAdjust="spacingAndGlyphs" color="#f2e600">P</text><text transform="translate(347.60 414.83) rotate(0.05) scale(1 1.899)" textLength="2.18" lengthAdjust="spacingAndGlyphs" color="#009000">N</text><text transform="translate(349.88 416.20) rotate(0.05) scale(1 2.868)" textLength="2.18" lengthAdjust="spacingAndGlyphs" color="#ffb300">G</text><text transform="translate(352.16 416.20) rotate(0.05) scale(1 0.417)" textLength="2.18" lengthAdjust="spacingAndGlyphs" color="#009000">S</text><text transform="translate(352.16 415.30) rotate(0.05) scale(1 2.533)" textLength="2.18" lengthAdjust="spacingAndGlyphs" color="#ff00ff">D</text><text transform="translate(354.44 416.20) rotate(0.05) scale(1 0.521)" textLength="2.18" lengthAdjust="spacingAndGlyphs" color="#009000">N</text><text transform="translate(354.44 415.08) rotate(0.05) scale(1 2.235)" textLength="2.18" lengthAdjust="spacingAndGlyphs" color="#0000d0">A</text><text transform="translate(356.72 416.20) rotate(0.05) scale(1 2.831)" textLength="2.18" lengthAdjust="spacingAndGlyphs" color="#0000d0">L</text><text transform="translate(359.00 416.20) rotate(0.05) scale(1 0.574)" textLength="2.18" lengthAdjust="spacingAndGlyphs" color="#d00000">R</text><text transform="translate(359.00 414.97) rotate(0.05) scale(1 2.086)" textLength="2.18" lengthAdjust="spacingAndGlyphs" color="#0000d0">A</text><text transform="translate(361.28 416.20) rotate(0.05) scale(1 0.417)" textLength="2.18" lengthAdjust="spacingAndGlyphs" color="#0000d0">L</text><text transform="translate(361.28 415.30) rotate(0.05) scale(1 2.533)" textLength="2.18" lengthAdjust="spacingAndGlyphs" color="#f2e600">P</text><text transform="translate(363.56 416.20) rotate(0.05) scale(1 0.626)" textLength="2.18" lengthAdjust="spacingAndGlyphs" color="#0000d0">V</text><text transform="translate(363.56 414.86) rotate(0.05) scale(1 1.937)" textLength="2.18" lengthAdjust="spacingAndGlyphs" color="#0000d0">L</text><text transform="translate(365.84 416.20) rotate(0.05) scale(1 0.521)" textLength="2.18" lengthAdjust="spacingAndGlyphs" color="#0000d0">A</text><text transform="translate(365.84 415.08) rotate(0.05) scale(1 2.235)" textLength="2.18" lengthAdjust="spacingAndGlyphs" color="#ffb300">G</text><text transform="translate(368.12 416.20) rotate(0.05) scale(1 2.719)" textLength="2.18" lengthAdjust="spacingAndGlyphs" color="#009000">S</text><text transform="translate(256.40 428.35) rotate(0.05) scale(1 3.240)" textLength="2.18" lengthAdjust="spacingAndGlyphs" color="#ff00ff">E</text><text transform="translate(258.68 428.35) rotate(0.05) scale(1 3.166)" textLength="2.18" lengthAdjust="spacingAndGlyphs" color="#0000d0">L</text><text transform="translate(260.96 428.35) rotate(0.05) scale(1 0.456)" textLength="2.18" lengthAdjust="spacingAndGlyphs" color="#0000d0">V</text><text transform="translate(260.96 427.37) rotate(0.05) scale(1 2.421)" textLength="2.18" lengthAdjust="spacingAndGlyphs" color="#ff00ff">E</text><text transform="translate(263.24 428.35) rotate(0.05) scale(1 2.719)" textLength="2.18" lengthAdjust="spacingAndGlyphs" color="#f2e600">P</text><text transform="translate(265.52 428.35) rotate(0.05) scale(1 0.482)" textLength="2.18" lengthAdjust="spacingAndGlyphs" color="#ffb300">G</text><text transform="translate(265.52 427.31) rotate(0.05) scale(1 2.346)" textLength="2.18" lengthAdjust="spacingAndGlyphs" color="#ffb300">G</text><text transform="translate(267.80 428.35) rotate(0.05) scale(1 0.587)" textLength="2.18" lengthAdjust="spacingAndGlyphs" color="#009000">T</text><text transform="translate(267.80 427.09) rotate(0.05) scale(1 2.048)" textLength="2.18" lengthAdjust="spacingAndGlyphs" color="#ff00ff">D</text><text transform="translate(270.08 428.35) rotate(0.05) scale(1 2.607)" textLength="2.18" lengthAdjust="spacingAndGlyphs" color="#ffb300">G</text><text transform="translate(272.36 428.35) rotate(0.05) scale(1 3.091)" textLength="2.18" lengthAdjust="spacingAndGlyphs" color="#009000">S</text><text transform="translate(274.64 428.35) rotate(0.05) scale(1 3.128)" textLength="2.18" lengthAdjust="spacingAndGlyphs" color="#0000d0">M</text><text transform="translate(276.92 428.35) rotate(0.05) scale(1 2.905)" textLength="2.18" lengthAdjust="spacingAndGlyphs" color="#009000">T</text><text transform="translate(279.20 428.35) rotate(0.05) scale(1 3.277)" textLength="2.18" lengthAdjust="spacingAndGlyphs" color="#0000d0">A</text><text transform="translate(281.48 428.35) rotate(0.05) scale(1 0.508)" textLength="2.18" lengthAdjust="spacingAndGlyphs" color="#ff00ff">D</text><text transform="translate(281.48 427.26) rotate(0.05) scale(1 2.272)" textLength="2.18" lengthAdjust="spacingAndGlyphs" color="#0000d0">A</text><text transform="translate(283.76 428.35) rotate(0.05) scale(1 0.561)" textLength="2.18" lengthAdjust="spacingAndGlyphs" color="#d00000">R</text><text transform="translate(283.76 427.15) rotate(0.05) scale(1 2.123)" textLength="2.18" lengthAdjust="spacingAndGlyphs" color="#d00000">K</text><text transform="translate(286.04 428.35) rotate(0.05) scale(1 0.417)" textLength="2.18" lengthAdjust="spacingAndGlyphs" color="#0000d0">L</text><text transform="translate(286.04 427.45) rotate(0.05) scale(1 2.533)" textLength="2.18" lengthAdjust="spacingAndGlyphs" color="#009000">S</text><text transform="translate(288.32 428.35) rotate(0.05) scale(1 0.508)" textLength="2.18" lengthAdjust="spacingAndGlyphs" color="#0000d0">V</text><text transform="translate(288.32 427.26) rotate(0.05) scale(1 2.272)" textLength="2.18" lengthAdjust="spacingAndGlyphs" color="#009000">S</text><text transform="translate(290.60 428.35) rotate(0.05) scale(1 0.534)" textLength="2.18" lengthAdjust="spacingAndGlyphs" color="#0000d0">A</text><text transform="translate(290.60 427.20) rotate(0.05) scale(1 2.197)" textLength="2.18" lengthAdjust="spacingAndGlyphs" color="#0000d0">F</text><text transform="translate(292.88 428.35) rotate(0.05) scale(1 0.430)" textLength="2.18" lengthAdjust="spacingAndGlyphs" color="#ffb300">G</text><text transform="translate(292.88 427.43) rotate(0.05) scale(1 2.495)" textLength="2.18" lengthAdjust="spacingAndGlyphs" color="#ff00ff">D</text><text transform="translate(295.16 428.35) rotate(0.05) scale(1 2.793)" textLength="2.18" lengthAdjust="spacingAndGlyphs" color="#009000">N</text><text transform="translate(297.44 428.35) rotate(0.05) scale(1 2.607)" textLength="2.18" lengthAdjust="spacingAndGlyphs" color="#0000d0">A</text><text transform="translate(299.72 428.35) rotate(0.05) scale(1 0.482)" textLength="2.18" lengthAdjust="spacingAndGlyphs" color="#f2e600">P</text><text transform="translate(299.72 427.31) rotate(0.05) scale(1 2.346)" textLength="2.18" lengthAdjust="spacingAndGlyphs" color="#009000">S</text><text transform="translate(302.00 428.35) rotate(0.05) scale(1 3.128)" textLength="2.18" lengthAdjust="spacingAndGlyphs" color="#ff00ff">E</text><text transform="translate(304.28 428.35) rotate(0.05) scale(1 3.315)" textLength="2.18" lengthAdjust="spacingAndGlyphs" color="#ff00ff">D</text><text transform="translate(306.56 428.35) rotate(0.05) scale(1 0.417)" textLength="2.18" lengthAdjust="spacingAndGlyphs" color="#009000">N</text><text transform="translate(306.56 427.45) rotate(0.05) scale(1 2.533)" textLength="2.18" lengthAdjust="spacingAndGlyphs" color="#ffb300">G</text><text transform="translate(308.84 428.35) rotate(0.05) scale(1 0.613)" textLength="2.18" lengthAdjust="spacingAndGlyphs" color="#ff00ff">D</text><text transform="translate(308.84 427.03) rotate(0.05) scale(1 1.974)" textLength="2.18" lengthAdjust="spacingAndGlyphs" color="#d00000">K</text><text transform="translate(311.12 428.35) rotate(0.05) scale(1 0.639)" textLength="2.18" lengthAdjust="spacingAndGlyphs" color="#d00000">R</text><text transform="translate(311.12 426.98) rotate(0.05) scale(1 1.899)" textLength="2.18" lengthAdjust="spacingAndGlyphs" color="#ff00ff">E</text><text transform="translate(313.40 428.35) rotate(0.05) scale(1 3.166)" textLength="2.18" lengthAdjust="spacingAndGlyphs" color="#d00000">K</text><text transform="translate(315.68 428.35) rotate(0.05) scale(1 0.626)" textLength="2.18" lengthAdjust="spacingAndGlyphs" color="#0000d0">V</text><text transform="translate(315.68 427.01) rotate(0.05) scale(1 1.937)" textLength="2.18" lengthAdjust="spacingAndGlyphs" color="#009000">T</text><text transform="translate(317.96 428.35) rotate(0.05) scale(1 2.905)" textLength="2.18" lengthAdjust="spacingAndGlyphs" color="#0000d0">L</text><text transform="translate(320.24 428.35) rotate(0.05) scale(1 2.719)" textLength="2.18" lengthAdjust="spacingAndGlyphs" color="#0000d0">I</text><text transform="translate(322.52 428.35) rotate(0.05) scale(1 0.495)" textLength="2.18" lengthAdjust="spacingAndGlyphs" color="#009000">T</text><text transform="translate(322.52 427.29) rotate(0.05) scale(1 2.309)" textLength="2.18" lengthAdjust="spacingAndGlyphs" color="#ff00ff">D</text><text transform="translate(324.80 428.35) rotate(0.05) scale(1 3.054)" textLength="2.18" lengthAdjust="spacingAndGlyphs" color="#ffb300">G</text><text transform="translate(327.08 428.35) rotate(0.05) scale(1 0.639)" textLength="2.18" lengthAdjust="spacingAndGlyphs" color="#f2e600">P</text><text transform="translate(327.08 426.98) rotate(0.05) scale(1 1.899)" textLength="2.18" lengthAdjust="spacingAndGlyphs" color="#ffb300">G</text><text transform="translate(329.36 428.35) rotate(0.05) scale(1 0.587)" textLength="2.18" lengthAdjust="spacingAndGlyphs" color="#d00000">K</text><text transform="translate(329.36 427.09) rotate(0.05) scale(1 2.048)" textLength="2.18" lengthAdjust="spacingAndGlyphs" color="#009000">S</text><text transform="translate(331.64 428.35) rotate(0.05) scale(1 0.417)" textLength="2.18" lengthAdjust="spacingAndGlyphs" color="#009000">S</text><text transform="translate(331.64 427.45) rotate(0.05) scale(1 2.533)" textLength="2.18" lengthAdjust="spacingAndGlyphs" color="#0000d0">M</text><text transform="translate(333.92 428.35) rotate(0.05) scale(1 0.639)" textLength="2.18" lengthAdjust="spacingAndGlyphs" color="#009000">N</text><text transform="translate(333.92 426.98) rotate(0.05) scale(1 1.899)" textLength="2.18" lengthAdjust="spacingAndGlyphs" color="#0000d0">F</text><text transform="translate(336.20 428.35) rotate(0.05) scale(1 3.091)" textLength="2.18" lengthAdjust="spacingAndGlyphs" color="#ff00ff">D</text><text transform="translate(338.48 428.35) rotate(0.05) scale(1 0.534)" textLength="2.18" lengthAdjust="spacingAndGlyphs" color="#d00000">R</text><text transform="translate(338.48 427.20) rotate(0.05) scale(1 2.197)" textLength="2.18" lengthAdjust="spacingAndGlyphs" color="#009000">N</text><text transform="translate(340.76 428.35) rotate(0.05) scale(1 0.574)" textLength="2.18" lengthAdjust="spacingAndGlyphs" color="#0000d0">L</text><text transform="translate(340.76 427.12) rotate(0.05) scale(1 2.086)" textLength="2.18" lengthAdjust="spacingAndGlyphs" color="#009000">S</text><text transform="translate(343.04 428.35) rotate(0.05) scale(1 0.626)" textLength="2.18" lengthAdjust="spacingAndGlyphs" color="#0000d0">V</text><text transform="translate(343.04 427.01) rotate(0.05) scale(1 1.937)" textLength="2.18" lengthAdjust="spacingAndGlyphs" color="#ff00ff">E</text><text transform="translate(345.32 428.35) rotate(0.05) scale(1 2.793)" textLength="2.18" lengthAdjust="spacingAndGlyphs" color="#ffb300">G</text><text transform="translate(347.60 428.35) rotate(0.05) scale(1 0.417)" textLength="2.18" lengthAdjust="spacingAndGlyphs" color="#ffb300">G</text><text transform="translate(347.60 427.45) rotate(0.05) scale(1 2.533)" textLength="2.18" lengthAdjust="spacingAndGlyphs" color="#0000d0">A</text><text transform="translate(349.88 428.35) rotate(0.05) scale(1 2.793)" textLength="2.18" lengthAdjust="spacingAndGlyphs" color="#0000d0">W</text><text transform="translate(352.16 428.35) rotate(0.05) scale(1 2.831)" textLength="2.18" lengthAdjust="spacingAndGlyphs" color="#0000d0">M</text><text transform="translate(256.40 440.50) rotate(0.05) scale(1 0.652)" textLength="2.18" lengthAdjust="spacingAndGlyphs" color="#009000">S</text><text transform="translate(256.40 439.10) rotate(0.05) scale(1 1.862)" textLength="2.18" lengthAdjust="spacingAndGlyphs" color="#ff00ff">E</text><text transform="translate(258.68 440.50) rotate(0.05) scale(1 3.166)" textLength="2.18" lengthAdjust="spacingAndGlyphs" color="#0000d0">L</text><text transform="translate(260.96 440.50) rotate(0.05) scale(1 3.352)" textLength="2.18" lengthAdjust="spacingAndGlyphs" color="#0000d0">A</text><text transform="translate(263.24 440.50) rotate(0.05) scale(1 3.352)" textLength="2.18" lengthAdjust="spacingAndGlyphs" color="#2fd8c8">Y</text><text transform="translate(265.52 440.50) rotate(0.05) scale(1 3.538)" textLength="2.18" lengthAdjust="spacingAndGlyphs" color="#0000d0">F</text><text transform="translate(267.80 440.50) rotate(0.05) scale(1 0.782)" textLength="2.18" lengthAdjust="spacingAndGlyphs" color="#0000d0">V</text><text transform="translate(267.80 438.82) rotate(0.05) scale(1 1.490)" textLength="2.18" lengthAdjust="spacingAndGlyphs" color="#ffb300">G</text><text transform="translate(270.08 440.50) rotate(0.05) scale(1 2.793)" textLength="2.18" lengthAdjust="spacingAndGlyphs" color="#ff00ff">E</text><text transform="translate(272.36 440.50) rotate(0.05) scale(1 2.793)" textLength="2.18" lengthAdjust="spacingAndGlyphs" color="#ff00ff">E</text><text transform="translate(274.64 440.50) rotate(0.05) scale(1 2.607)" textLength="2.18" lengthAdjust="spacingAndGlyphs" color="#ff00ff">D</text><text transform="translate(276.92 440.50) rotate(0.05) scale(1 2.607)" textLength="2.18" lengthAdjust="spacingAndGlyphs" color="#0000d0">M</text><text transform="translate(279.20 440.50) rotate(0.05) scale(1 0.521)" textLength="2.18" lengthAdjust="spacingAndGlyphs" color="#f2e600">P</text><text transform="translate(279.20 439.38) rotate(0.05) scale(1 2.235)" textLength="2.18" lengthAdjust="spacingAndGlyphs" color="#0000d0">L</text><text transform="translate(281.48 440.50) rotate(0.05) scale(1 2.793)" textLength="2.18" lengthAdjust="spacingAndGlyphs" color="#ff00ff">D</text><text transform="translate(283.76 440.50) rotate(0.05) scale(1 2.793)" textLength="2.18" lengthAdjust="spacingAndGlyphs" color="#ff00ff">E</text><text transform="translate(286.04 440.50) rotate(0.05) scale(1 0.652)" textLength="2.18" lengthAdjust="spacingAndGlyphs" color="#009000">N</text><text transform="translate(286.04 439.10) rotate(0.05) scale(1 1.862)" textLength="2.18" lengthAdjust="spacingAndGlyphs" color="#0000d0">F</text><text transform="translate(288.32 440.50) rotate(0.05) scale(1 0.819)" textLength="2.18" lengthAdjust="spacingAndGlyphs" color="#ff00ff">D</text><text transform="translate(288.32 438.74) rotate(0.05) scale(1 1.304)" textLength="2.18" lengthAdjust="spacingAndGlyphs" color="#ffb300">G</text><text transform="translate(290.60 440.50) rotate(0.05) scale(1 0.819)" textLength="2.18" lengthAdjust="spacingAndGlyphs" color="#d00000">R</text><text transform="translate(290.60 438.74) rotate(0.05) scale(1 1.304)" textLength="2.18" lengthAdjust="spacingAndGlyphs" color="#0000d0">A</text><text transform="translate(292.88 440.50) rotate(0.05) scale(1 0.819)" textLength="2.18" lengthAdjust="spacingAndGlyphs" color="#0000d0">L</text><text transform="translate(292.88 438.74) rotate(0.05) scale(1 1.117)" textLength="2.18" lengthAdjust="spacingAndGlyphs" color="#0000d0">V</text><text transform="translate(295.16 440.50) rotate(0.05) scale(1 0.782)" textLength="2.18" lengthAdjust="spacingAndGlyphs" color="#0000d0">V</text><text transform="translate(295.16 438.82) rotate(0.05) scale(1 1.490)" textLength="2.18" lengthAdjust="spacingAndGlyphs" color="#ffb300">G</text><text transform="translate(297.44 440.50) rotate(0.05) scale(1 0.819)" textLength="2.18" lengthAdjust="spacingAndGlyphs" color="#0000d0">A</text><text transform="translate(297.44 438.74) rotate(0.05) scale(1 1.117)" textLength="2.18" lengthAdjust="spacingAndGlyphs" color="#0000d0">A</text><text transform="translate(299.72 440.50) rotate(0.05) scale(1 0.819)" textLength="2.18" lengthAdjust="spacingAndGlyphs" color="#ffb300">G</text><text transform="translate(299.72 438.74) rotate(0.05) scale(1 1.117)" textLength="2.18" lengthAdjust="spacingAndGlyphs" color="#0000d0">M</text><text transform="translate(302.00 440.50) rotate(0.05) scale(1 0.819)" textLength="2.18" lengthAdjust="spacingAndGlyphs" color="#009000">T</text><text transform="translate(302.00 438.74) rotate(0.05) scale(1 0.931)" textLength="2.18" lengthAdjust="spacingAndGlyphs" color="#d00000">K</text><text transform="translate(256.40 452.65) rotate(0.05) scale(1 0.652)" textLength="2.18" lengthAdjust="spacingAndGlyphs" color="#ff00ff">E</text><text transform="translate(256.40 451.25) rotate(0.05) scale(1 1.862)" textLength="2.18" lengthAdjust="spacingAndGlyphs" color="#0000d0">I</text><text transform="translate(258.68 452.65) rotate(0.05) scale(1 0.521)" textLength="2.18" lengthAdjust="spacingAndGlyphs" color="#f2e600">P</text><text transform="translate(258.68 451.53) rotate(0.05) scale(1 2.235)" textLength="2.18" lengthAdjust="spacingAndGlyphs" color="#0000d0">L</text><text transform="translate(260.96 452.65) rotate(0.05) scale(1 0.819)" textLength="2.18" lengthAdjust="spacingAndGlyphs" color="#d00000">K</text><text transform="translate(260.96 450.89) rotate(0.05) scale(1 1.117)" textLength="2.18" lengthAdjust="spacingAndGlyphs" color="#f2e600">P</text><text transform="translate(263.24 452.65) rotate(0.05) scale(1 0.652)" textLength="2.18" lengthAdjust="spacingAndGlyphs" color="#009000">S</text><text transform="translate(263.24 451.25) rotate(0.05) scale(1 1.862)" textLength="2.18" lengthAdjust="spacingAndGlyphs" color="#ffb300">G</text><text transform="translate(265.52 452.65) rotate(0.05) scale(1 0.819)" textLength="2.18" lengthAdjust="spacingAndGlyphs" color="#009000">N</text><text transform="translate(265.52 450.89) rotate(0.05) scale(1 1.117)" textLength="2.18" lengthAdjust="spacingAndGlyphs" color="#009000">S</text><text transform="translate(267.80 452.65) rotate(0.05) scale(1 2.607)" textLength="2.18" lengthAdjust="spacingAndGlyphs" color="#d00000">R</text><text transform="translate(270.08 452.65) rotate(0.05) scale(1 2.980)" textLength="2.18" lengthAdjust="spacingAndGlyphs" color="#0000d0">F</text><text transform="translate(272.36 452.65) rotate(0.05) scale(1 0.819)" textLength="2.18" lengthAdjust="spacingAndGlyphs" color="#0000d0">L</text><text transform="translate(272.36 450.89) rotate(0.05) scale(1 1.117)" textLength="2.18" lengthAdjust="spacingAndGlyphs" color="#ff9aa8">H</text><text transform="translate(274.64 452.65) rotate(0.05) scale(1 2.980)" textLength="2.18" lengthAdjust="spacingAndGlyphs" color="#f2e600">P</text><text transform="translate(276.92 452.65) rotate(0.05) scale(1 2.607)" textLength="2.18" lengthAdjust="spacingAndGlyphs" color="#009000">T</text><text transform="translate(279.20 452.65) rotate(0.05) scale(1 2.607)" textLength="2.18" lengthAdjust="spacingAndGlyphs" color="#ff00ff">D</text><text transform="translate(281.48 452.65) rotate(0.05) scale(1 2.607)" textLength="2.18" lengthAdjust="spacingAndGlyphs" color="#ff00ff">E</text><text transform="translate(283.76 452.65) rotate(0.05) scale(1 0.521)" textLength="2.18" lengthAdjust="spacingAndGlyphs" color="#ff00ff">E</text><text transform="translate(283.76 451.53) rotate(0.05) scale(1 2.235)" textLength="2.18" lengthAdjust="spacingAndGlyphs" color="#ff00ff">E</text><text transform="translate(286.04 452.65) rotate(0.05) scale(1 0.521)" textLength="2.18" lengthAdjust="spacingAndGlyphs" color="#f2e600">P</text><text transform="translate(286.04 451.53) rotate(0.05) scale(1 2.235)" textLength="2.18" lengthAdjust="spacingAndGlyphs" color="#0000d0">L</text><text transform="translate(288.32 452.65) rotate(0.05) scale(1 0.819)" textLength="2.18" lengthAdjust="spacingAndGlyphs" color="#d00000">K</text><text transform="translate(288.32 450.89) rotate(0.05) scale(1 1.117)" textLength="2.18" lengthAdjust="spacingAndGlyphs" color="#0000d0">V</text><text transform="translate(290.60 452.65) rotate(0.05) scale(1 0.819)" textLength="2.18" lengthAdjust="spacingAndGlyphs" color="#009000">S</text><text transform="translate(290.60 450.89) rotate(0.05) scale(1 0.931)" textLength="2.18" lengthAdjust="spacingAndGlyphs" color="#ffb300">G</text><text transform="translate(256.40 464.80) rotate(0.05) scale(1 3.538)" textLength="2.18" lengthAdjust="spacingAndGlyphs" color="#0000d0">F</text><text transform="translate(258.68 464.80) rotate(0.05) scale(1 3.613)" textLength="2.18" lengthAdjust="spacingAndGlyphs" color="#ff00ff">E</text><text transform="translate(260.96 464.80) rotate(0.05) scale(1 3.426)" textLength="2.18" lengthAdjust="spacingAndGlyphs" color="#ff00ff">D</text><text transform="translate(263.24 464.80) rotate(0.05) scale(1 3.128)" textLength="2.18" lengthAdjust="spacingAndGlyphs" color="#ffb300">G</text><text transform="translate(265.52 464.80) rotate(0.05) scale(1 3.315)" textLength="2.18" lengthAdjust="spacingAndGlyphs" color="#0000d0">F</text><text transform="translate(267.80 464.80) rotate(0.05) scale(1 3.091)" textLength="2.18" lengthAdjust="spacingAndGlyphs" color="#f2e600">P</text><text transform="translate(270.08 464.80) rotate(0.05) scale(1 2.980)" textLength="2.18" lengthAdjust="spacingAndGlyphs" color="#ff00ff">E</text><text transform="translate(272.36 464.80) rotate(0.05) scale(1 3.277)" textLength="2.18" lengthAdjust="spacingAndGlyphs" color="#0000d0">A</text><text transform="translate(274.64 464.80) rotate(0.05) scale(1 3.464)" textLength="2.18" lengthAdjust="spacingAndGlyphs" color="#009000">T</text><text transform="translate(276.92 464.80) rotate(0.05) scale(1 3.091)" textLength="2.18" lengthAdjust="spacingAndGlyphs" color="#0000d0">A</text><text transform="translate(279.20 464.80) rotate(0.05) scale(1 3.166)" textLength="2.18" lengthAdjust="spacingAndGlyphs" color="#0000d0">V</text><text transform="translate(281.48 464.80) rotate(0.05) scale(1 3.203)" textLength="2.18" lengthAdjust="spacingAndGlyphs" color="#ff00ff">E</text><text transform="translate(283.76 464.80) rotate(0.05) scale(1 3.464)" textLength="2.18" lengthAdjust="spacingAndGlyphs" color="#009000">S</text><text transform="translate(286.04 464.80) rotate(0.05) scale(1 3.315)" textLength="2.18" lengthAdjust="spacingAndGlyphs" color="#009000">N</text><text transform="translate(288.32 464.80) rotate(0.05) scale(1 3.389)" textLength="2.18" lengthAdjust="spacingAndGlyphs" color="#0000d0">L</text><text transform="translate(290.60 464.80) rotate(0.05) scale(1 3.501)" textLength="2.18" lengthAdjust="spacingAndGlyphs" color="#f2e600">P</text><text transform="translate(292.88 464.80) rotate(0.05) scale(1 3.240)" textLength="2.18" lengthAdjust="spacingAndGlyphs" color="#f2e600">P</text><text transform="translate(295.16 464.80) rotate(0.05) scale(1 3.501)" textLength="2.18" lengthAdjust="spacingAndGlyphs" color="#ff00ff">D</text><text transform="translate(297.44 464.80) rotate(0.05) scale(1 3.575)" textLength="2.18" lengthAdjust="spacingAndGlyphs" color="#ff00ff">E</text><text transform="translate(299.72 464.80) rotate(0.05) scale(1 3.054)" textLength="2.18" lengthAdjust="spacingAndGlyphs" color="#009000">N</text><text transform="translate(302.00 464.80) rotate(0.05) scale(1 3.613)" textLength="2.18" lengthAdjust="spacingAndGlyphs" color="#009000">S</text><text transform="translate(304.28 464.80) rotate(0.05) scale(1 3.464)" textLength="2.18" lengthAdjust="spacingAndGlyphs" color="#0000d0">V</text><text transform="translate(306.56 464.80) rotate(0.05) scale(1 3.054)" textLength="2.18" lengthAdjust="spacingAndGlyphs" color="#0000d0">L</text><text transform="translate(308.84 464.80) rotate(0.05) scale(1 3.277)" textLength="2.18" lengthAdjust="spacingAndGlyphs" color="#0000d0">L</text><text transform="translate(311.12 464.80) rotate(0.05) scale(1 3.389)" textLength="2.18" lengthAdjust="spacingAndGlyphs" color="#ff00ff">E</text><text transform="translate(313.40 464.80) rotate(0.05) scale(1 3.575)" textLength="2.18" lengthAdjust="spacingAndGlyphs" color="#ffb300">G</text><text transform="translate(315.68 464.80) rotate(0.05) scale(1 3.240)" textLength="2.18" lengthAdjust="spacingAndGlyphs" color="#0000d0">M</text><text transform="translate(317.96 464.80) rotate(0.05) scale(1 3.352)" textLength="2.18" lengthAdjust="spacingAndGlyphs" color="#009000">S</text><text transform="translate(320.24 464.80) rotate(0.05) scale(1 3.575)" textLength="2.18" lengthAdjust="spacingAndGlyphs" color="#ff00ff">D</text><text transform="translate(322.52 464.80) rotate(0.05) scale(1 3.501)" textLength="2.18" lengthAdjust="spacingAndGlyphs" color="#ff00ff">E</text><text transform="translate(324.80 464.80) rotate(0.05) scale(1 3.613)" textLength="2.18" lengthAdjust="spacingAndGlyphs" color="#0000d0">L</text><text transform="translate(327.08 464.80) rotate(0.05) scale(1 3.277)" textLength="2.18" lengthAdjust="spacingAndGlyphs" color="#ff00ff">D</text><text transform="translate(329.36 464.80) rotate(0.05) scale(1 3.426)" textLength="2.18" lengthAdjust="spacingAndGlyphs" color="#0000d0">C</text><text transform="translate(331.64 464.80) rotate(0.05) scale(1 3.128)" textLength="2.18" lengthAdjust="spacingAndGlyphs" color="#0000d0">W</text><text transform="translate(333.92 464.80) rotate(0.05) scale(1 3.464)" textLength="2.18" lengthAdjust="spacingAndGlyphs" color="#0000d0">F</text><text transform="translate(336.20 464.80) rotate(0.05) scale(1 3.538)" textLength="2.18" lengthAdjust="spacingAndGlyphs" color="#009000">S</text><text transform="translate(338.48 464.80) rotate(0.05) scale(1 3.426)" textLength="2.18" lengthAdjust="spacingAndGlyphs" color="#f2e600">P</text><text transform="translate(340.76 464.80) rotate(0.05) scale(1 3.464)" textLength="2.18" lengthAdjust="spacingAndGlyphs" color="#0000d0">V</text><text transform="translate(343.04 464.80) rotate(0.05) scale(1 3.128)" textLength="2.18" lengthAdjust="spacingAndGlyphs" color="#d00000">R</text><text transform="translate(345.32 464.80) rotate(0.05) scale(1 3.575)" textLength="2.18" lengthAdjust="spacingAndGlyphs" color="#009000">S</text><text transform="translate(347.60 464.80) rotate(0.05) scale(1 3.650)" textLength="2.18" lengthAdjust="spacingAndGlyphs" color="#009000">N</text><text transform="translate(349.88 464.80) rotate(0.05) scale(1 3.650)" textLength="2.18" lengthAdjust="spacingAndGlyphs" color="#ffb300">G</text><text transform="translate(352.16 464.80) rotate(0.05) scale(1 3.352)" textLength="2.18" lengthAdjust="spacingAndGlyphs" color="#f2e600">P</text><text transform="translate(354.44 464.80) rotate(0.05) scale(1 3.501)" textLength="2.18" lengthAdjust="spacingAndGlyphs" color="#0000d0">A</text><text transform="translate(356.72 464.80) rotate(0.05) scale(1 3.203)" textLength="2.18" lengthAdjust="spacingAndGlyphs" color="#ff00ff">E</text><text transform="translate(359.00 464.80) rotate(0.05) scale(1 3.575)" textLength="2.18" lengthAdjust="spacingAndGlyphs" color="#0000d0">L</text><text transform="translate(361.28 464.80) rotate(0.05) scale(1 3.538)" textLength="2.18" lengthAdjust="spacingAndGlyphs" color="#ff00ff">D</text><text transform="translate(363.56 464.80) rotate(0.05) scale(1 3.203)" textLength="2.18" lengthAdjust="spacingAndGlyphs" color="#ffb300">G</text><text transform="translate(365.84 464.80) rotate(0.05) scale(1 3.017)" textLength="2.18" lengthAdjust="spacingAndGlyphs" color="#0000d0">F</text><text transform="translate(368.12 464.80) rotate(0.05) scale(1 3.277)" textLength="2.18" lengthAdjust="spacingAndGlyphs" color="#009000">S</text><text transform="translate(256.40 476.95) rotate(0.05) scale(1 0.495)" textLength="2.18" lengthAdjust="spacingAndGlyphs" color="#d00000">R</text><text transform="translate(256.40 475.89) rotate(0.05) scale(1 2.309)" textLength="2.18" lengthAdjust="spacingAndGlyphs" color="#ff00ff">E</text><text transform="translate(258.68 476.95) rotate(0.05) scale(1 0.417)" textLength="2.18" lengthAdjust="spacingAndGlyphs" color="#0000d0">L</text><text transform="translate(258.68 476.05) rotate(0.05) scale(1 2.533)" textLength="2.18" lengthAdjust="spacingAndGlyphs" color="#ffb300">G</text><text transform="translate(260.96 476.95) rotate(0.05) scale(1 0.521)" textLength="2.18" lengthAdjust="spacingAndGlyphs" color="#0000d0">V</text><text transform="translate(260.96 475.83) rotate(0.05) scale(1 2.235)" textLength="2.18" lengthAdjust="spacingAndGlyphs" color="#0000d0">M</text><text transform="translate(263.24 476.95) rotate(0.05) scale(1 0.704)" textLength="2.18" lengthAdjust="spacingAndGlyphs" color="#0000d0">A</text><text transform="translate(263.24 475.44) rotate(0.05) scale(1 1.713)" textLength="2.18" lengthAdjust="spacingAndGlyphs" color="#009000">S</text><text transform="translate(265.52 476.95) rotate(0.05) scale(1 0.404)" textLength="2.18" lengthAdjust="spacingAndGlyphs" color="#ffb300">G</text><text transform="translate(265.52 476.08) rotate(0.05) scale(1 2.570)" textLength="2.18" lengthAdjust="spacingAndGlyphs" color="#0000d0">L</text><text transform="translate(267.80 476.95) rotate(0.05) scale(1 0.691)" textLength="2.18" lengthAdjust="spacingAndGlyphs" color="#009000">T</text><text transform="translate(267.80 475.47) rotate(0.05) scale(1 1.750)" textLength="2.18" lengthAdjust="spacingAndGlyphs" color="#009000">S</text><text transform="translate(270.08 476.95) rotate(0.05) scale(1 0.404)" textLength="2.18" lengthAdjust="spacingAndGlyphs" color="#ff00ff">E</text><text transform="translate(270.08 476.08) rotate(0.05) scale(1 2.570)" textLength="2.18" lengthAdjust="spacingAndGlyphs" color="#009000">N</text><text transform="translate(272.36 476.95) rotate(0.05) scale(1 0.652)" textLength="2.18" lengthAdjust="spacingAndGlyphs" color="#f2e600">P</text><text transform="translate(272.36 475.55) rotate(0.05) scale(1 1.862)" textLength="2.18" lengthAdjust="spacingAndGlyphs" color="#009000">S</text><text transform="translate(274.64 476.95) rotate(0.05) scale(1 0.587)" textLength="2.18" lengthAdjust="spacingAndGlyphs" color="#d00000">K</text><text transform="translate(274.64 475.69) rotate(0.05) scale(1 2.048)" textLength="2.18" lengthAdjust="spacingAndGlyphs" color="#ffb300">G</text><text transform="translate(276.92 476.95) rotate(0.05) scale(1 0.404)" textLength="2.18" lengthAdjust="spacingAndGlyphs" color="#009000">S</text><text transform="translate(276.92 476.08) rotate(0.05) scale(1 2.570)" textLength="2.18" lengthAdjust="spacingAndGlyphs" color="#0000d0">F</text><text transform="translate(279.20 476.95) rotate(0.05) scale(1 0.665)" textLength="2.18" lengthAdjust="spacingAndGlyphs" color="#009000">N</text><text transform="translate(279.20 475.52) rotate(0.05) scale(1 1.825)" textLength="2.18" lengthAdjust="spacingAndGlyphs" color="#f2e600">P</text><text transform="translate(281.48 476.95) rotate(0.05) scale(1 0.665)" textLength="2.18" lengthAdjust="spacingAndGlyphs" color="#ff00ff">D</text><text transform="translate(281.48 475.52) rotate(0.05) scale(1 1.825)" textLength="2.18" lengthAdjust="spacingAndGlyphs" color="#ffb300">G</text><text transform="translate(283.76 476.95) rotate(0.05) scale(1 0.521)" textLength="2.18" lengthAdjust="spacingAndGlyphs" color="#d00000">R</text><text transform="translate(283.76 475.83) rotate(0.05) scale(1 2.235)" textLength="2.18" lengthAdjust="spacingAndGlyphs" color="#ff00ff">D</text><text transform="translate(286.04 476.95) rotate(0.05) scale(1 0.430)" textLength="2.18" lengthAdjust="spacingAndGlyphs" color="#0000d0">L</text><text transform="translate(286.04 476.03) rotate(0.05) scale(1 2.495)" textLength="2.18" lengthAdjust="spacingAndGlyphs" color="#009000">S</text><text transform="translate(288.32 476.95) rotate(0.05) scale(1 2.607)" textLength="2.18" lengthAdjust="spacingAndGlyphs" color="#0000d0">L</text><text transform="translate(290.60 476.95) rotate(0.05) scale(1 0.443)" textLength="2.18" lengthAdjust="spacingAndGlyphs" color="#0000d0">A</text><text transform="translate(290.60 476.00) rotate(0.05) scale(1 2.458)" textLength="2.18" lengthAdjust="spacingAndGlyphs" color="#009000">Q</text><text transform="translate(292.88 476.95) rotate(0.05) scale(1 2.719)" textLength="2.18" lengthAdjust="spacingAndGlyphs" color="#0000d0">C</text><text transform="translate(295.16 476.95) rotate(0.05) scale(1 0.521)" textLength="2.18" lengthAdjust="spacingAndGlyphs" color="#009000">T</text><text transform="translate(295.16 475.83) rotate(0.05) scale(1 2.235)" textLength="2.18" lengthAdjust="spacingAndGlyphs" color="#f2e600">P</text><text transform="translate(297.44 476.95) rotate(0.05) scale(1 2.719)" textLength="2.18" lengthAdjust="spacingAndGlyphs" color="#f2e600">P</text><text transform="translate(299.72 476.95) rotate(0.05) scale(1 0.678)" textLength="2.18" lengthAdjust="spacingAndGlyphs" color="#f2e600">P</text><text transform="translate(299.72 475.49) rotate(0.05) scale(1 1.788)" textLength="2.18" lengthAdjust="spacingAndGlyphs" color="#f2e600">P</text><text transform="translate(302.00 476.95) rotate(0.05) scale(1 0.626)" textLength="2.18" lengthAdjust="spacingAndGlyphs" color="#d00000">K</text><text transform="translate(302.00 475.61) rotate(0.05) scale(1 1.937)" textLength="2.18" lengthAdjust="spacingAndGlyphs" color="#0000d0">M</text><text transform="translate(304.28 476.95) rotate(0.05) scale(1 0.508)" textLength="2.18" lengthAdjust="spacingAndGlyphs" color="#009000">S</text><text transform="translate(304.28 475.86) rotate(0.05) scale(1 2.272)" textLength="2.18" lengthAdjust="spacingAndGlyphs" color="#ff9aa8">H</text><text transform="translate(306.56 476.95) rotate(0.05) scale(1 0.600)" textLength="2.18" lengthAdjust="spacingAndGlyphs" color="#009000">N</text><text transform="translate(306.56 475.66) rotate(0.05) scale(1 2.011)" textLength="2.18" lengthAdjust="spacingAndGlyphs" color="#009000">S</text><text transform="translate(308.84 476.95) rotate(0.05) scale(1 0.430)" textLength="2.18" lengthAdjust="spacingAndGlyphs" color="#ff00ff">D</text><text transform="translate(308.84 476.03) rotate(0.05) scale(1 2.495)" textLength="2.18" lengthAdjust="spacingAndGlyphs" color="#ffb300">G</text><text transform="translate(311.12 476.95) rotate(0.05) scale(1 0.469)" textLength="2.18" lengthAdjust="spacingAndGlyphs" color="#d00000">R</text><text transform="translate(311.12 475.94) rotate(0.05) scale(1 2.384)" textLength="2.18" lengthAdjust="spacingAndGlyphs" color="#0000d0">A</text><text transform="translate(313.40 476.95) rotate(0.05) scale(1 0.508)" textLength="2.18" lengthAdjust="spacingAndGlyphs" color="#0000d0">L</text><text transform="translate(313.40 475.86) rotate(0.05) scale(1 2.272)" textLength="2.18" lengthAdjust="spacingAndGlyphs" color="#0000d0">M</text><text transform="translate(315.68 476.95) rotate(0.05) scale(1 2.607)" textLength="2.18" lengthAdjust="spacingAndGlyphs" color="#0000d0">L</text><text transform="translate(317.96 476.95) rotate(0.05) scale(1 0.495)" textLength="2.18" lengthAdjust="spacingAndGlyphs" color="#0000d0">A</text><text transform="translate(317.96 475.89) rotate(0.05) scale(1 2.309)" textLength="2.18" lengthAdjust="spacingAndGlyphs" color="#009000">S</text><text transform="translate(320.24 476.95) rotate(0.05) scale(1 0.600)" textLength="2.18" lengthAdjust="spacingAndGlyphs" color="#ffb300">G</text><text transform="translate(320.24 475.66) rotate(0.05) scale(1 2.011)" textLength="2.18" lengthAdjust="spacingAndGlyphs" color="#0000d0">L</text><text transform="translate(322.52 476.95) rotate(0.05) scale(1 0.574)" textLength="2.18" lengthAdjust="spacingAndGlyphs" color="#009000">T</text><text transform="translate(322.52 475.72) rotate(0.05) scale(1 2.086)" textLength="2.18" lengthAdjust="spacingAndGlyphs" color="#f2e600">P</text><text transform="translate(324.80 476.95) rotate(0.05) scale(1 2.607)" textLength="2.18" lengthAdjust="spacingAndGlyphs" color="#2fd8c8">Y</text><text transform="translate(327.08 476.95) rotate(0.05) scale(1 2.682)" textLength="2.18" lengthAdjust="spacingAndGlyphs" color="#2fd8c8">Y</text><text transform="translate(329.36 476.95) rotate(0.05) scale(1 0.639)" textLength="2.18" lengthAdjust="spacingAndGlyphs" color="#d00000">K</text><text transform="translate(329.36 475.58) rotate(0.05) scale(1 1.899)" textLength="2.18" lengthAdjust="spacingAndGlyphs" color="#ffb300">G</text><text transform="translate(331.64 476.95) rotate(0.05) scale(1 2.644)" textLength="2.18" lengthAdjust="spacingAndGlyphs" color="#ff00ff">D</text><text transform="translate(333.92 476.95) rotate(0.05) scale(1 2.756)" textLength="2.18" lengthAdjust="spacingAndGlyphs" color="#009000">S</text><text transform="translate(336.20 476.95) rotate(0.05) scale(1 0.508)" textLength="2.18" lengthAdjust="spacingAndGlyphs" color="#ff00ff">D</text><text transform="translate(336.20 475.86) rotate(0.05) scale(1 2.272)" textLength="2.18" lengthAdjust="spacingAndGlyphs" color="#ffb300">G</text><text transform="translate(338.48 476.95) rotate(0.05) scale(1 0.495)" textLength="2.18" lengthAdjust="spacingAndGlyphs" color="#d00000">R</text><text transform="translate(338.48 475.89) rotate(0.05) scale(1 2.309)" textLength="2.18" lengthAdjust="spacingAndGlyphs" color="#0000d0">A</text><text transform="translate(340.76 476.95) rotate(0.05) scale(1 0.639)" textLength="2.18" lengthAdjust="spacingAndGlyphs" color="#0000d0">L</text><text transform="translate(340.76 475.58) rotate(0.05) scale(1 1.899)" textLength="2.18" lengthAdjust="spacingAndGlyphs" color="#0000d0">M</text><text transform="translate(343.04 476.95) rotate(0.05) scale(1 0.508)" textLength="2.18" lengthAdjust="spacingAndGlyphs" color="#0000d0">V</text><text transform="translate(343.04 475.86) rotate(0.05) scale(1 2.272)" textLength="2.18" lengthAdjust="spacingAndGlyphs" color="#009000">N</text><text transform="translate(345.32 476.95) rotate(0.05) scale(1 0.521)" textLength="2.18" lengthAdjust="spacingAndGlyphs" color="#0000d0">A</text><text transform="translate(345.32 475.83) rotate(0.05) scale(1 2.235)" textLength="2.18" lengthAdjust="spacingAndGlyphs" color="#ff00ff">D</text><text transform="translate(347.60 476.95) rotate(0.05) scale(1 0.482)" textLength="2.18" lengthAdjust="spacingAndGlyphs" color="#ffb300">G</text><text transform="translate(347.60 475.91) rotate(0.05) scale(1 2.346)" textLength="2.18" lengthAdjust="spacingAndGlyphs" color="#0000d0">A</text><text transform="translate(349.88 476.95) rotate(0.05) scale(1 0.704)" textLength="2.18" lengthAdjust="spacingAndGlyphs" color="#009000">T</text><text transform="translate(349.88 475.44) rotate(0.05) scale(1 1.713)" textLength="2.18" lengthAdjust="spacingAndGlyphs" color="#0000d0">F</text><text transform="translate(352.16 476.95) rotate(0.05) scale(1 2.756)" textLength="2.18" lengthAdjust="spacingAndGlyphs" color="#ffb300">G</text><text transform="translate(354.44 476.95) rotate(0.05) scale(1 0.521)" textLength="2.18" lengthAdjust="spacingAndGlyphs" color="#f2e600">P</text><text transform="translate(354.44 475.83) rotate(0.05) scale(1 2.235)" textLength="2.18" lengthAdjust="spacingAndGlyphs" color="#ff00ff">E</text><text transform="translate(356.72 476.95) rotate(0.05) scale(1 0.561)" textLength="2.18" lengthAdjust="spacingAndGlyphs" color="#d00000">K</text><text transform="translate(356.72 475.75) rotate(0.05) scale(1 2.123)" textLength="2.18" lengthAdjust="spacingAndGlyphs" color="#009000">S</text><text transform="translate(359.00 476.95) rotate(0.05) scale(1 0.404)" textLength="2.18" lengthAdjust="spacingAndGlyphs" color="#009000">S</text><text transform="translate(359.00 476.08) rotate(0.05) scale(1 2.570)" textLength="2.18" lengthAdjust="spacingAndGlyphs" color="#0000d0">L</text><text transform="translate(361.28 476.95) rotate(0.05) scale(1 0.495)" textLength="2.18" lengthAdjust="spacingAndGlyphs" color="#009000">N</text><text transform="translate(361.28 475.89) rotate(0.05) scale(1 2.309)" textLength="2.18" lengthAdjust="spacingAndGlyphs" color="#0000d0">M</text><text transform="translate(363.56 476.95) rotate(0.05) scale(1 0.521)" textLength="2.18" lengthAdjust="spacingAndGlyphs" color="#ff00ff">D</text><text transform="translate(363.56 475.83) rotate(0.05) scale(1 2.235)" textLength="2.18" lengthAdjust="spacingAndGlyphs" color="#ff00ff">D</text><text transform="translate(365.84 476.95) rotate(0.05) scale(1 0.443)" textLength="2.18" lengthAdjust="spacingAndGlyphs" color="#d00000">R</text><text transform="translate(365.84 476.00) rotate(0.05) scale(1 2.458)" textLength="2.18" lengthAdjust="spacingAndGlyphs" color="#ff00ff">E</text><text transform="translate(256.40 489.10) rotate(0.05) scale(1 0.521)" textLength="2.18" lengthAdjust="spacingAndGlyphs" color="#009000">S</text><text transform="translate(256.40 487.98) rotate(0.05) scale(1 2.235)" textLength="2.18" lengthAdjust="spacingAndGlyphs" color="#ff00ff">E</text><text transform="translate(258.68 489.10) rotate(0.05) scale(1 0.782)" textLength="2.18" lengthAdjust="spacingAndGlyphs" color="#009000">N</text><text transform="translate(258.68 487.42) rotate(0.05) scale(1 1.490)" textLength="2.18" lengthAdjust="spacingAndGlyphs" color="#ffb300">G</text><text transform="translate(260.96 489.10) rotate(0.05) scale(1 0.717)" textLength="2.18" lengthAdjust="spacingAndGlyphs" color="#ff00ff">D</text><text transform="translate(260.96 487.56) rotate(0.05) scale(1 1.676)" textLength="2.18" lengthAdjust="spacingAndGlyphs" color="#0000d0">M</text><text transform="translate(263.24 489.10) rotate(0.05) scale(1 0.521)" textLength="2.18" lengthAdjust="spacingAndGlyphs" color="#d00000">R</text><text transform="translate(263.24 487.98) rotate(0.05) scale(1 2.235)" textLength="2.18" lengthAdjust="spacingAndGlyphs" color="#ff00ff">E</text><text transform="translate(265.52 489.10) rotate(0.05) scale(1 3.352)" textLength="2.18" lengthAdjust="spacingAndGlyphs" color="#ff00ff">D</text><text transform="translate(267.80 489.10) rotate(0.05) scale(1 2.980)" textLength="2.18" lengthAdjust="spacingAndGlyphs" color="#ff00ff">D</text><text transform="translate(270.08 489.10) rotate(0.05) scale(1 3.352)" textLength="2.18" lengthAdjust="spacingAndGlyphs" color="#009000">S</text><text transform="translate(272.36 489.10) rotate(0.05) scale(1 0.652)" textLength="2.18" lengthAdjust="spacingAndGlyphs" color="#ffb300">G</text><text transform="translate(272.36 487.70) rotate(0.05) scale(1 1.862)" textLength="2.18" lengthAdjust="spacingAndGlyphs" color="#0000d0">F</text><text transform="translate(274.64 489.10) rotate(0.05) scale(1 3.538)" textLength="2.18" lengthAdjust="spacingAndGlyphs" color="#0000d0">L</text><text transform="translate(276.92 489.10) rotate(0.05) scale(1 3.352)" textLength="2.18" lengthAdjust="spacingAndGlyphs" color="#0000d0">C</text><text transform="translate(279.20 489.10) rotate(0.05) scale(1 3.352)" textLength="2.18" lengthAdjust="spacingAndGlyphs" color="#ff00ff">D</text><text transform="translate(281.48 489.10) rotate(0.05) scale(1 3.352)" textLength="2.18" lengthAdjust="spacingAndGlyphs" color="#0000d0">M</text><text transform="translate(283.76 489.10) rotate(0.05) scale(1 3.538)" textLength="2.18" lengthAdjust="spacingAndGlyphs" color="#0000d0">F</text><text transform="translate(286.04 489.10) rotate(0.05) scale(1 3.352)" textLength="2.18" lengthAdjust="spacingAndGlyphs" color="#0000d0">M</text><text transform="translate(288.32 489.10) rotate(0.05) scale(1 0.521)" textLength="2.18" lengthAdjust="spacingAndGlyphs" color="#ff00ff">D</text><text transform="translate(288.32 487.98) rotate(0.05) scale(1 2.235)" textLength="2.18" lengthAdjust="spacingAndGlyphs" color="#009000">N</text><text transform="translate(290.60 489.10) rotate(0.05) scale(1 0.782)" textLength="2.18" lengthAdjust="spacingAndGlyphs" color="#d00000">R</text><text transform="translate(290.60 487.42) rotate(0.05) scale(1 1.490)" textLength="2.18" lengthAdjust="spacingAndGlyphs" color="#ffb300">G</text><text transform="translate(292.88 489.10) rotate(0.05) scale(1 3.166)" textLength="2.18" lengthAdjust="spacingAndGlyphs" color="#ff00ff">D</text><text transform="translate(295.16 489.10) rotate(0.05) scale(1 0.521)" textLength="2.18" lengthAdjust="spacingAndGlyphs" color="#0000d0">V</text><text transform="translate(295.16 487.98) rotate(0.05) scale(1 2.235)" textLength="2.18" lengthAdjust="spacingAndGlyphs" color="#ff00ff">D</text><text transform="translate(297.44 489.10) rotate(0.05) scale(1 0.652)" textLength="2.18" lengthAdjust="spacingAndGlyphs" color="#0000d0">A</text><text transform="translate(297.44 487.70) rotate(0.05) scale(1 1.862)" textLength="2.18" lengthAdjust="spacingAndGlyphs" color="#f2e600">P</text><text transform="translate(299.72 489.10) rotate(0.05) scale(1 3.538)" textLength="2.18" lengthAdjust="spacingAndGlyphs" color="#0000d0">F</text><text transform="translate(256.40 501.25) rotate(0.05) scale(1 0.717)" textLength="2.18" lengthAdjust="spacingAndGlyphs" color="#ff00ff">E</text><text transform="translate(256.40 499.71) rotate(0.05) scale(1 1.676)" textLength="2.18" lengthAdjust="spacingAndGlyphs" color="#009000">S</text><text transform="translate(258.68 501.25) rotate(0.05) scale(1 0.782)" textLength="2.18" lengthAdjust="spacingAndGlyphs" color="#f2e600">P</text><text transform="translate(258.68 499.57) rotate(0.05) scale(1 1.490)" textLength="2.18" lengthAdjust="spacingAndGlyphs" color="#ffb300">G</text><text transform="translate(260.96 501.25) rotate(0.05) scale(1 0.717)" textLength="2.18" lengthAdjust="spacingAndGlyphs" color="#d00000">K</text><text transform="translate(260.96 499.71) rotate(0.05) scale(1 1.676)" textLength="2.18" lengthAdjust="spacingAndGlyphs" color="#0000d0">M</text><text transform="translate(263.24 501.25) rotate(0.05) scale(1 0.782)" textLength="2.18" lengthAdjust="spacingAndGlyphs" color="#009000">S</text><text transform="translate(263.24 499.57) rotate(0.05) scale(1 1.490)" textLength="2.18" lengthAdjust="spacingAndGlyphs" color="#ff00ff">D</text><text transform="translate(265.52 501.25) rotate(0.05) scale(1 0.782)" textLength="2.18" lengthAdjust="spacingAndGlyphs" color="#009000">N</text><text transform="translate(265.52 499.57) rotate(0.05) scale(1 1.490)" textLength="2.18" lengthAdjust="spacingAndGlyphs" color="#0000d0">L</text><text transform="translate(267.80 501.25) rotate(0.05) scale(1 0.652)" textLength="2.18" lengthAdjust="spacingAndGlyphs" color="#ff00ff">D</text><text transform="translate(267.80 499.85) rotate(0.05) scale(1 1.862)" textLength="2.18" lengthAdjust="spacingAndGlyphs" color="#f2e600">P</text><text transform="translate(270.08 501.25) rotate(0.05) scale(1 0.819)" textLength="2.18" lengthAdjust="spacingAndGlyphs" color="#d00000">R</text><text transform="translate(270.08 499.49) rotate(0.05) scale(1 1.304)" textLength="2.18" lengthAdjust="spacingAndGlyphs" color="#009000">S</text><text transform="translate(272.36 501.25) rotate(0.05) scale(1 0.819)" textLength="2.18" lengthAdjust="spacingAndGlyphs" color="#0000d0">L</text><text transform="translate(272.36 499.49) rotate(0.05) scale(1 1.117)" textLength="2.18" lengthAdjust="spacingAndGlyphs" color="#009000">N</text><text transform="translate(274.64 501.25) rotate(0.05) scale(1 0.587)" textLength="2.18" lengthAdjust="spacingAndGlyphs" color="#0000d0">V</text><text transform="translate(274.64 499.99) rotate(0.05) scale(1 2.048)" textLength="2.18" lengthAdjust="spacingAndGlyphs" color="#0000d0">L</text><text transform="translate(276.92 501.25) rotate(0.05) scale(1 0.521)" textLength="2.18" lengthAdjust="spacingAndGlyphs" color="#0000d0">A</text><text transform="translate(276.92 500.13) rotate(0.05) scale(1 2.235)" textLength="2.18" lengthAdjust="spacingAndGlyphs" color="#0000d0">L</text><text transform="translate(279.20 501.25) rotate(0.05) scale(1 0.782)" textLength="2.18" lengthAdjust="spacingAndGlyphs" color="#ffb300">G</text><text transform="translate(279.20 499.57) rotate(0.05) scale(1 1.490)" textLength="2.18" lengthAdjust="spacingAndGlyphs" color="#ff00ff">E</text><text transform="translate(281.48 501.25) rotate(0.05) scale(1 0.652)" textLength="2.18" lengthAdjust="spacingAndGlyphs" color="#009000">T</text><text transform="translate(281.48 499.85) rotate(0.05) scale(1 1.862)" textLength="2.18" lengthAdjust="spacingAndGlyphs" color="#009000">S</text><text transform="translate(283.76 501.25) rotate(0.05) scale(1 0.587)" textLength="2.18" lengthAdjust="spacingAndGlyphs" color="#ff00ff">E</text><text transform="translate(283.76 499.99) rotate(0.05) scale(1 2.048)" textLength="2.18" lengthAdjust="spacingAndGlyphs" color="#0000d0">V</text><text transform="translate(286.04 501.25) rotate(0.05) scale(1 0.782)" textLength="2.18" lengthAdjust="spacingAndGlyphs" color="#f2e600">P</text><text transform="translate(286.04 499.57) rotate(0.05) scale(1 1.490)" textLength="2.18" lengthAdjust="spacingAndGlyphs" color="#009000">N</text><text transform="translate(288.32 501.25) rotate(0.05) scale(1 0.652)" textLength="2.18" lengthAdjust="spacingAndGlyphs" color="#d00000">K</text><text transform="translate(288.32 499.85) rotate(0.05) scale(1 1.862)" textLength="2.18" lengthAdjust="spacingAndGlyphs" color="#f2e600">P</text><text transform="translate(290.60 501.25) rotate(0.05) scale(1 0.521)" textLength="2.18" lengthAdjust="spacingAndGlyphs" color="#009000">S</text><text transform="translate(290.60 500.13) rotate(0.05) scale(1 2.235)" textLength="2.18" lengthAdjust="spacingAndGlyphs" color="#0000d0">F</text><text transform="translate(292.88 501.25) rotate(0.05) scale(1 0.782)" textLength="2.18" lengthAdjust="spacingAndGlyphs" color="#009000">N</text><text transform="translate(292.88 499.57) rotate(0.05) scale(1 1.490)" textLength="2.18" lengthAdjust="spacingAndGlyphs" color="#ffb300">G</text><text transform="translate(295.16 501.25) rotate(0.05) scale(1 0.717)" textLength="2.18" lengthAdjust="spacingAndGlyphs" color="#ff00ff">D</text><text transform="translate(295.16 499.71) rotate(0.05) scale(1 1.676)" textLength="2.18" lengthAdjust="spacingAndGlyphs" color="#ff00ff">D</text><text transform="translate(297.44 501.25) rotate(0.05) scale(1 0.782)" textLength="2.18" lengthAdjust="spacingAndGlyphs" color="#d00000">R</text><text transform="translate(297.44 499.57) rotate(0.05) scale(1 1.490)" textLength="2.18" lengthAdjust="spacingAndGlyphs" color="#009000">S</text><text transform="translate(299.72 501.25) rotate(0.05) scale(1 3.166)" textLength="2.18" lengthAdjust="spacingAndGlyphs" color="#f2e600">P</text><text transform="translate(302.00 501.25) rotate(0.05) scale(1 0.652)" textLength="2.18" lengthAdjust="spacingAndGlyphs" color="#0000d0">V</text><text transform="translate(302.00 499.85) rotate(0.05) scale(1 1.862)" textLength="2.18" lengthAdjust="spacingAndGlyphs" color="#ff00ff">D</text><text transform="translate(304.28 501.25) rotate(0.05) scale(1 2.607)" textLength="2.18" lengthAdjust="spacingAndGlyphs" color="#0000d0">M</text><text transform="translate(306.56 501.25) rotate(0.05) scale(1 2.793)" textLength="2.18" lengthAdjust="spacingAndGlyphs" color="#0000d0">L</text><text transform="translate(308.84 501.25) rotate(0.05) scale(1 3.352)" textLength="2.18" lengthAdjust="spacingAndGlyphs" color="#f2e600">P</text><text transform="translate(311.12 501.25) rotate(0.05) scale(1 0.782)" textLength="2.18" lengthAdjust="spacingAndGlyphs" color="#ff00ff">E</text><text transform="translate(311.12 499.57) rotate(0.05) scale(1 1.490)" textLength="2.18" lengthAdjust="spacingAndGlyphs" color="#ffb300">G</text><text transform="translate(313.40 501.25) rotate(0.05) scale(1 0.819)" textLength="2.18" lengthAdjust="spacingAndGlyphs" color="#f2e600">P</text><text transform="translate(313.40 499.49) rotate(0.05) scale(1 1.304)" textLength="2.18" lengthAdjust="spacingAndGlyphs" color="#009000">N</text><text transform="translate(315.68 501.25) rotate(0.05) scale(1 0.819)" textLength="2.18" lengthAdjust="spacingAndGlyphs" color="#d00000">K</text><text transform="translate(315.68 499.49) rotate(0.05) scale(1 1.304)" textLength="2.18" lengthAdjust="spacingAndGlyphs" color="#ff00ff">D</text><text transform="translate(317.96 501.25) rotate(0.05) scale(1 0.819)" textLength="2.18" lengthAdjust="spacingAndGlyphs" color="#009000">S</text><text transform="translate(317.96 499.49) rotate(0.05) scale(1 1.117)" textLength="2.18" lengthAdjust="spacingAndGlyphs" color="#2fd8c8">Y</text><text transform="translate(320.24 501.25) rotate(0.05) scale(1 0.819)" textLength="2.18" lengthAdjust="spacingAndGlyphs" color="#009000">N</text><text transform="translate(320.24 499.49) rotate(0.05) scale(1 1.117)" textLength="2.18" lengthAdjust="spacingAndGlyphs" color="#0000d0">L</text><text transform="translate(256.40 513.40) rotate(0.05) scale(1 3.352)" textLength="2.18" lengthAdjust="spacingAndGlyphs" color="#0000d0">L</text><text transform="translate(258.68 513.40) rotate(0.05) scale(1 3.352)" textLength="2.18" lengthAdjust="spacingAndGlyphs" color="#0000d0">L</text><text transform="translate(260.96 513.40) rotate(0.05) scale(1 0.819)" textLength="2.18" lengthAdjust="spacingAndGlyphs" color="#009000">T</text><text transform="translate(260.96 511.64) rotate(0.05) scale(1 1.304)" textLength="2.18" lengthAdjust="spacingAndGlyphs" color="#ffb300">G</text><text transform="translate(263.24 513.40) rotate(0.05) scale(1 0.652)" textLength="2.18" lengthAdjust="spacingAndGlyphs" color="#ff00ff">E</text><text transform="translate(263.24 512.00) rotate(0.05) scale(1 1.862)" textLength="2.18" lengthAdjust="spacingAndGlyphs" color="#ff9aa8">H</text><text transform="translate(265.52 513.40) rotate(0.05) scale(1 0.521)" textLength="2.18" lengthAdjust="spacingAndGlyphs" color="#f2e600">P</text><text transform="translate(265.52 512.28) rotate(0.05) scale(1 2.235)" textLength="2.18" lengthAdjust="spacingAndGlyphs" color="#009000">Q</text><text transform="translate(267.80 513.40) rotate(0.05) scale(1 2.793)" textLength="2.18" lengthAdjust="spacingAndGlyphs" color="#d00000">R</text><text transform="translate(270.08 513.40) rotate(0.05) scale(1 2.793)" textLength="2.18" lengthAdjust="spacingAndGlyphs" color="#009000">S</text><text transform="translate(272.36 513.40) rotate(0.05) scale(1 0.819)" textLength="2.18" lengthAdjust="spacingAndGlyphs" color="#009000">N</text><text transform="translate(272.36 511.64) rotate(0.05) scale(1 1.117)" textLength="2.18" lengthAdjust="spacingAndGlyphs" color="#ffb300">G</text><text transform="translate(274.64 513.40) rotate(0.05) scale(1 0.819)" textLength="2.18" lengthAdjust="spacingAndGlyphs" color="#ff00ff">D</text><text transform="translate(274.64 511.64) rotate(0.05) scale(1 1.117)" textLength="2.18" lengthAdjust="spacingAndGlyphs" color="#0000d0">M</text><text transform="translate(276.92 513.40) rotate(0.05) scale(1 0.652)" textLength="2.18" lengthAdjust="spacingAndGlyphs" color="#d00000">R</text><text transform="translate(276.92 512.00) rotate(0.05) scale(1 1.862)" textLength="2.18" lengthAdjust="spacingAndGlyphs" color="#d00000">K</text><text transform="translate(279.20 513.40) rotate(0.05) scale(1 0.652)" textLength="2.18" lengthAdjust="spacingAndGlyphs" color="#0000d0">L</text><text transform="translate(279.20 512.00) rotate(0.05) scale(1 1.862)" textLength="2.18" lengthAdjust="spacingAndGlyphs" color="#d00000">K</text><text transform="translate(281.48 513.40) rotate(0.05) scale(1 0.717)" textLength="2.18" lengthAdjust="spacingAndGlyphs" color="#0000d0">V</text><text transform="translate(281.48 511.86) rotate(0.05) scale(1 1.676)" textLength="2.18" lengthAdjust="spacingAndGlyphs" color="#009000">N</text><text transform="translate(283.76 513.40) rotate(0.05) scale(1 0.819)" textLength="2.18" lengthAdjust="spacingAndGlyphs" color="#0000d0">A</text><text transform="translate(283.76 511.64) rotate(0.05) scale(1 1.117)" textLength="2.18" lengthAdjust="spacingAndGlyphs" color="#ffb300">G</text><text transform="translate(286.04 513.40) rotate(0.05) scale(1 3.166)" textLength="2.18" lengthAdjust="spacingAndGlyphs" color="#0000d0">L</text><text transform="translate(288.32 513.40) rotate(0.05) scale(1 3.166)" textLength="2.18" lengthAdjust="spacingAndGlyphs" color="#d00000">R</text><text transform="translate(256.40 525.55) rotate(0.05) scale(1 3.017)" textLength="2.18" lengthAdjust="spacingAndGlyphs" color="#009000">Q</text><text transform="translate(258.68 525.55) rotate(0.05) scale(1 3.352)" textLength="2.18" lengthAdjust="spacingAndGlyphs" color="#009000">Q</text><text transform="translate(260.96 525.55) rotate(0.05) scale(1 3.240)" textLength="2.18" lengthAdjust="spacingAndGlyphs" color="#009000">S</text><text transform="translate(263.24 525.55) rotate(0.05) scale(1 3.613)" textLength="2.18" lengthAdjust="spacingAndGlyphs" color="#ffb300">G</text><text transform="translate(265.52 525.55) rotate(0.05) scale(1 3.613)" textLength="2.18" lengthAdjust="spacingAndGlyphs" color="#f2e600">P</text><text transform="translate(267.80 525.55) rotate(0.05) scale(1 3.166)" textLength="2.18" lengthAdjust="spacingAndGlyphs" color="#ff9aa8">H</text><text transform="translate(270.08 525.55) rotate(0.05) scale(1 3.315)" textLength="2.18" lengthAdjust="spacingAndGlyphs" color="#ff00ff">E</text><text transform="translate(272.36 525.55) rotate(0.05) scale(1 3.054)" textLength="2.18" lengthAdjust="spacingAndGlyphs" color="#0000d0">L</text><text transform="translate(274.64 525.55) rotate(0.05) scale(1 3.277)" textLength="2.18" lengthAdjust="spacingAndGlyphs" color="#2fd8c8">Y</text><text transform="translate(276.92 525.55) rotate(0.05) scale(1 3.538)" textLength="2.18" lengthAdjust="spacingAndGlyphs" color="#0000d0">I</text><text transform="translate(279.20 525.55) rotate(0.05) scale(1 3.575)" textLength="2.18" lengthAdjust="spacingAndGlyphs" color="#0000d0">M</text><text transform="translate(281.48 525.55) rotate(0.05) scale(1 3.315)" textLength="2.18" lengthAdjust="spacingAndGlyphs" color="#ff00ff">D</text><text transform="translate(283.76 525.55) rotate(0.05) scale(1 3.203)" textLength="2.18" lengthAdjust="spacingAndGlyphs" color="#009000">S</text><text transform="translate(286.04 525.55) rotate(0.05) scale(1 3.091)" textLength="2.18" lengthAdjust="spacingAndGlyphs" color="#ffb300">G</text><text transform="translate(288.32 525.55) rotate(0.05) scale(1 3.389)" textLength="2.18" lengthAdjust="spacingAndGlyphs" color="#0000d0">F</text><text transform="translate(290.60 525.55) rotate(0.05) scale(1 3.613)" textLength="2.18" lengthAdjust="spacingAndGlyphs" color="#009000">N</text><text transform="translate(292.88 525.55) rotate(0.05) scale(1 3.054)" textLength="2.18" lengthAdjust="spacingAndGlyphs" color="#d00000">K</text><text transform="translate(295.16 525.55) rotate(0.05) scale(1 3.501)" textLength="2.18" lengthAdjust="spacingAndGlyphs" color="#d00000">K</text><text transform="translate(297.44 525.55) rotate(0.05) scale(1 2.980)" textLength="2.18" lengthAdjust="spacingAndGlyphs" color="#ff9aa8">H</text><text transform="translate(299.72 525.55) rotate(0.05) scale(1 3.091)" textLength="2.18" lengthAdjust="spacingAndGlyphs" color="#ff00ff">E</text><text transform="translate(302.00 525.55) rotate(0.05) scale(1 3.128)" textLength="2.18" lengthAdjust="spacingAndGlyphs" color="#0000d0">C</text><text transform="translate(304.28 525.55) rotate(0.05) scale(1 3.426)" textLength="2.18" lengthAdjust="spacingAndGlyphs" color="#0000d0">I</text><text transform="translate(306.56 525.55) rotate(0.05) scale(1 3.203)" textLength="2.18" lengthAdjust="spacingAndGlyphs" color="#0000d0">V</text><text transform="translate(308.84 525.55) rotate(0.05) scale(1 3.203)" textLength="2.18" lengthAdjust="spacingAndGlyphs" color="#0000d0">F</text><text transform="translate(311.12 525.55) rotate(0.05) scale(1 3.389)" textLength="2.18" lengthAdjust="spacingAndGlyphs" color="#009000">S</text><text transform="translate(313.40 525.55) rotate(0.05) scale(1 3.054)" textLength="2.18" lengthAdjust="spacingAndGlyphs" color="#ffb300">G</text><text transform="translate(315.68 525.55) rotate(0.05) scale(1 3.464)" textLength="2.18" lengthAdjust="spacingAndGlyphs" color="#d00000">K</text><text transform="translate(317.96 525.55) rotate(0.05) scale(1 3.054)" textLength="2.18" lengthAdjust="spacingAndGlyphs" color="#0000d0">I</text><text transform="translate(320.24 525.55) rotate(0.05) scale(1 3.315)" textLength="2.18" lengthAdjust="spacingAndGlyphs" color="#0000d0">M</text><text transform="translate(322.52 525.55) rotate(0.05) scale(1 3.166)" textLength="2.18" lengthAdjust="spacingAndGlyphs" color="#0000d0">L</text><text transform="translate(324.80 525.55) rotate(0.05) scale(1 3.128)" textLength="2.18" lengthAdjust="spacingAndGlyphs" color="#0000d0">M</text><text transform="translate(327.08 525.55) rotate(0.05) scale(1 3.352)" textLength="2.18" lengthAdjust="spacingAndGlyphs" color="#0000d0">L</text><text transform="translate(329.36 525.55) rotate(0.05) scale(1 3.277)" textLength="2.18" lengthAdjust="spacingAndGlyphs" color="#0000d0">M</text><text transform="translate(331.64 525.55) rotate(0.05) scale(1 3.240)" textLength="2.18" lengthAdjust="spacingAndGlyphs" color="#0000d0">F</text><text transform="translate(333.92 525.55) rotate(0.05) scale(1 3.240)" textLength="2.18" lengthAdjust="spacingAndGlyphs" color="#0000d0">F</text><text transform="translate(336.20 525.55) rotate(0.05) scale(1 3.352)" textLength="2.18" lengthAdjust="spacingAndGlyphs" color="#0000d0">V</text><text transform="translate(338.48 525.55) rotate(0.05) scale(1 3.091)" textLength="2.18" lengthAdjust="spacingAndGlyphs" color="#0000d0">L</text><text transform="translate(340.76 525.55) rotate(0.05) scale(1 3.128)" textLength="2.18" lengthAdjust="spacingAndGlyphs" color="#0000d0">L</text><text transform="translate(343.04 525.55) rotate(0.05) scale(1 3.389)" textLength="2.18" lengthAdjust="spacingAndGlyphs" color="#0000d0">L</text><text transform="translate(345.32 525.55) rotate(0.05) scale(1 3.389)" textLength="2.18" lengthAdjust="spacingAndGlyphs" color="#009000">S</text><text transform="translate(347.60 525.55) rotate(0.05) scale(1 3.352)" textLength="2.18" lengthAdjust="spacingAndGlyphs" color="#0000d0">L</text><text transform="translate(349.88 525.55) rotate(0.05) scale(1 3.538)" textLength="2.18" lengthAdjust="spacingAndGlyphs" color="#009000">S</text><text transform="translate(352.16 525.55) rotate(0.05) scale(1 3.389)" textLength="2.18" lengthAdjust="spacingAndGlyphs" color="#2fd8c8">Y</text><text transform="translate(354.44 525.55) rotate(0.05) scale(1 3.538)" textLength="2.18" lengthAdjust="spacingAndGlyphs" color="#009000">S</text><text transform="translate(356.72 525.55) rotate(0.05) scale(1 3.128)" textLength="2.18" lengthAdjust="spacingAndGlyphs" color="#d00000">K</text><text transform="translate(359.00 525.55) rotate(0.05) scale(1 3.464)" textLength="2.18" lengthAdjust="spacingAndGlyphs" color="#0000d0">I</text><text transform="translate(361.28 525.55) rotate(0.05) scale(1 3.538)" textLength="2.18" lengthAdjust="spacingAndGlyphs" color="#0000d0">I</text><text transform="translate(363.56 525.55) rotate(0.05) scale(1 3.575)" textLength="2.18" lengthAdjust="spacingAndGlyphs" color="#ffb300">G</text><text transform="translate(365.84 525.55) rotate(0.05) scale(1 3.203)" textLength="2.18" lengthAdjust="spacingAndGlyphs" color="#009000">T</text><text transform="translate(368.12 525.55) rotate(0.05) scale(1 3.203)" textLength="2.18" lengthAdjust="spacingAndGlyphs" color="#0000d0">C</text><text transform="translate(256.40 537.70) rotate(0.05) scale(1 2.868)" textLength="2.18" lengthAdjust="spacingAndGlyphs" color="#ffb300">G</text><text transform="translate(258.68 537.70) rotate(0.05) scale(1 0.613)" textLength="2.18" lengthAdjust="spacingAndGlyphs" color="#009000">N</text><text transform="translate(258.68 536.38) rotate(0.05) scale(1 1.974)" textLength="2.18" lengthAdjust="spacingAndGlyphs" color="#0000d0">L</text><text transform="translate(260.96 537.70) rotate(0.05) scale(1 2.980)" textLength="2.18" lengthAdjust="spacingAndGlyphs" color="#009000">N</text><text transform="translate(263.24 537.70) rotate(0.05) scale(1 2.831)" textLength="2.18" lengthAdjust="spacingAndGlyphs" color="#ff9aa8">H</text><text transform="translate(265.52 537.70) rotate(0.05) scale(1 0.652)" textLength="2.18" lengthAdjust="spacingAndGlyphs" color="#0000d0">L</text><text transform="translate(265.52 536.30) rotate(0.05) scale(1 1.862)" textLength="2.18" lengthAdjust="spacingAndGlyphs" color="#009000">S</text><text transform="translate(267.80 537.70) rotate(0.05) scale(1 0.613)" textLength="2.18" lengthAdjust="spacingAndGlyphs" color="#0000d0">V</text><text transform="translate(267.80 536.38) rotate(0.05) scale(1 1.974)" textLength="2.18" lengthAdjust="spacingAndGlyphs" color="#ff00ff">D</text><text transform="translate(270.08 537.70) rotate(0.05) scale(1 2.607)" textLength="2.18" lengthAdjust="spacingAndGlyphs" color="#d00000">K</text><text transform="translate(272.36 537.70) rotate(0.05) scale(1 0.600)" textLength="2.18" lengthAdjust="spacingAndGlyphs" color="#ffb300">G</text><text transform="translate(272.36 536.41) rotate(0.05) scale(1 2.011)" textLength="2.18" lengthAdjust="spacingAndGlyphs" color="#009000">S</text><text transform="translate(274.64 537.70) rotate(0.05) scale(1 0.678)" textLength="2.18" lengthAdjust="spacingAndGlyphs" color="#009000">T</text><text transform="translate(274.64 536.24) rotate(0.05) scale(1 1.788)" textLength="2.18" lengthAdjust="spacingAndGlyphs" color="#ffb300">G</text><text transform="translate(276.92 537.70) rotate(0.05) scale(1 2.756)" textLength="2.18" lengthAdjust="spacingAndGlyphs" color="#0000d0">M</text><text transform="translate(279.20 537.70) rotate(0.05) scale(1 0.521)" textLength="2.18" lengthAdjust="spacingAndGlyphs" color="#f2e600">P</text><text transform="translate(279.20 536.58) rotate(0.05) scale(1 2.235)" textLength="2.18" lengthAdjust="spacingAndGlyphs" color="#d00000">R</text><text transform="translate(281.48 537.70) rotate(0.05) scale(1 2.719)" textLength="2.18" lengthAdjust="spacingAndGlyphs" color="#ffb300">G</text><text transform="translate(283.76 537.70) rotate(0.05) scale(1 0.665)" textLength="2.18" lengthAdjust="spacingAndGlyphs" color="#009000">S</text><text transform="translate(283.76 536.27) rotate(0.05) scale(1 1.825)" textLength="2.18" lengthAdjust="spacingAndGlyphs" color="#009000">N</text><text transform="translate(286.04 537.70) rotate(0.05) scale(1 0.534)" textLength="2.18" lengthAdjust="spacingAndGlyphs" color="#009000">N</text><text transform="translate(286.04 536.55) rotate(0.05) scale(1 2.197)" textLength="2.18" lengthAdjust="spacingAndGlyphs" color="#ffb300">G</text><text transform="translate(288.32 537.70) rotate(0.05) scale(1 0.404)" textLength="2.18" lengthAdjust="spacingAndGlyphs" color="#ff00ff">D</text><text transform="translate(288.32 536.83) rotate(0.05) scale(1 2.570)" textLength="2.18" lengthAdjust="spacingAndGlyphs" color="#ff00ff">D</text><text transform="translate(290.60 537.70) rotate(0.05) scale(1 0.704)" textLength="2.18" lengthAdjust="spacingAndGlyphs" color="#d00000">R</text><text transform="translate(290.60 536.19) rotate(0.05) scale(1 1.713)" textLength="2.18" lengthAdjust="spacingAndGlyphs" color="#0000d0">L</text><text transform="translate(292.88 537.70) rotate(0.05) scale(1 0.626)" textLength="2.18" lengthAdjust="spacingAndGlyphs" color="#0000d0">L</text><text transform="translate(292.88 536.36) rotate(0.05) scale(1 1.937)" textLength="2.18" lengthAdjust="spacingAndGlyphs" color="#ff00ff">D</text><text transform="translate(295.16 537.70) rotate(0.05) scale(1 0.404)" textLength="2.18" lengthAdjust="spacingAndGlyphs" color="#0000d0">V</text><text transform="translate(295.16 536.83) rotate(0.05) scale(1 2.570)" textLength="2.18" lengthAdjust="spacingAndGlyphs" color="#0000d0">C</text><text transform="translate(297.44 537.70) rotate(0.05) scale(1 2.868)" textLength="2.18" lengthAdjust="spacingAndGlyphs" color="#ffb300">G</text><text transform="translate(299.72 537.70) rotate(0.05) scale(1 2.942)" textLength="2.18" lengthAdjust="spacingAndGlyphs" color="#ff00ff">E</text><text transform="translate(302.00 537.70) rotate(0.05) scale(1 0.665)" textLength="2.18" lengthAdjust="spacingAndGlyphs" color="#009000">T</text><text transform="translate(302.00 536.27) rotate(0.05) scale(1 1.825)" textLength="2.18" lengthAdjust="spacingAndGlyphs" color="#0000d0">F</text><text transform="translate(304.28 537.70) rotate(0.05) scale(1 0.482)" textLength="2.18" lengthAdjust="spacingAndGlyphs" color="#ff00ff">E</text><text transform="translate(304.28 536.66) rotate(0.05) scale(1 2.346)" textLength="2.18" lengthAdjust="spacingAndGlyphs" color="#0000d0">C</text><text transform="translate(306.56 537.70) rotate(0.05) scale(1 2.682)" textLength="2.18" lengthAdjust="spacingAndGlyphs" color="#ff00ff">D</text><text transform="translate(308.84 537.70) rotate(0.05) scale(1 0.482)" textLength="2.18" lengthAdjust="spacingAndGlyphs" color="#d00000">K</text><text transform="translate(308.84 536.66) rotate(0.05) scale(1 2.346)" textLength="2.18" lengthAdjust="spacingAndGlyphs" color="#0000d0">M</text><text transform="translate(311.12 537.70) rotate(0.05) scale(1 0.404)" textLength="2.18" lengthAdjust="spacingAndGlyphs" color="#009000">S</text><text transform="translate(311.12 536.83) rotate(0.05) scale(1 2.570)" textLength="2.18" lengthAdjust="spacingAndGlyphs" color="#009000">S</text><text transform="translate(313.40 537.70) rotate(0.05) scale(1 0.626)" textLength="2.18" lengthAdjust="spacingAndGlyphs" color="#009000">N</text><text transform="translate(313.40 536.36) rotate(0.05) scale(1 1.937)" textLength="2.18" lengthAdjust="spacingAndGlyphs" color="#0000d0">F</text><text transform="translate(315.68 537.70) rotate(0.05) scale(1 0.691)" textLength="2.18" lengthAdjust="spacingAndGlyphs" color="#ff00ff">D</text><text transform="translate(315.68 536.22) rotate(0.05) scale(1 1.750)" textLength="2.18" lengthAdjust="spacingAndGlyphs" color="#0000d0">M</text><text transform="translate(317.96 537.70) rotate(0.05) scale(1 0.665)" textLength="2.18" lengthAdjust="spacingAndGlyphs" color="#d00000">R</text><text transform="translate(317.96 536.27) rotate(0.05) scale(1 1.825)" textLength="2.18" lengthAdjust="spacingAndGlyphs" color="#ff9aa8">H</text><text transform="translate(320.24 537.70) rotate(0.05) scale(1 0.704)" textLength="2.18" lengthAdjust="spacingAndGlyphs" color="#0000d0">L</text><text transform="translate(320.24 536.19) rotate(0.05) scale(1 1.713)" textLength="2.18" lengthAdjust="spacingAndGlyphs" color="#009000">S</text><text transform="translate(322.52 537.70) rotate(0.05) scale(1 0.469)" textLength="2.18" lengthAdjust="spacingAndGlyphs" color="#0000d0">V</text><text transform="translate(322.52 536.69) rotate(0.05) scale(1 2.384)" textLength="2.18" lengthAdjust="spacingAndGlyphs" color="#ff00ff">D</text><text transform="translate(324.80 537.70) rotate(0.05) scale(1 0.482)" textLength="2.18" lengthAdjust="spacingAndGlyphs" color="#0000d0">A</text><text transform="translate(324.80 536.66) rotate(0.05) scale(1 2.346)" textLength="2.18" lengthAdjust="spacingAndGlyphs" color="#ffb300">G</text><text transform="translate(327.08 537.70) rotate(0.05) scale(1 0.456)" textLength="2.18" lengthAdjust="spacingAndGlyphs" color="#ffb300">G</text><text transform="translate(327.08 536.72) rotate(0.05) scale(1 2.421)" textLength="2.18" lengthAdjust="spacingAndGlyphs" color="#d00000">K</text><text transform="translate(329.36 537.70) rotate(0.05) scale(1 0.652)" textLength="2.18" lengthAdjust="spacingAndGlyphs" color="#009000">T</text><text transform="translate(329.36 536.30) rotate(0.05) scale(1 1.862)" textLength="2.18" lengthAdjust="spacingAndGlyphs" color="#0000d0">L</text><text transform="translate(331.64 537.70) rotate(0.05) scale(1 0.639)" textLength="2.18" lengthAdjust="spacingAndGlyphs" color="#ff00ff">E</text><text transform="translate(331.64 536.33) rotate(0.05) scale(1 1.899)" textLength="2.18" lengthAdjust="spacingAndGlyphs" color="#ff00ff">D</text><text transform="translate(333.92 537.70) rotate(0.05) scale(1 0.626)" textLength="2.18" lengthAdjust="spacingAndGlyphs" color="#f2e600">P</text><text transform="translate(333.92 536.36) rotate(0.05) scale(1 1.937)" textLength="2.18" lengthAdjust="spacingAndGlyphs" color="#0000d0">L</text><text transform="translate(336.20 537.70) rotate(0.05) scale(1 2.756)" textLength="2.18" lengthAdjust="spacingAndGlyphs" color="#009000">S</text><text transform="translate(338.48 537.70) rotate(0.05) scale(1 2.980)" textLength="2.18" lengthAdjust="spacingAndGlyphs" color="#009000">N</text><text transform="translate(340.76 537.70) rotate(0.05) scale(1 2.868)" textLength="2.18" lengthAdjust="spacingAndGlyphs" color="#ffb300">G</text><text transform="translate(343.04 537.70) rotate(0.05) scale(1 0.678)" textLength="2.18" lengthAdjust="spacingAndGlyphs" color="#ff00ff">D</text><text transform="translate(343.04 536.24) rotate(0.05) scale(1 1.788)" textLength="2.18" lengthAdjust="spacingAndGlyphs" color="#f2e600">P</text><text transform="translate(345.32 537.70) rotate(0.05) scale(1 0.691)" textLength="2.18" lengthAdjust="spacingAndGlyphs" color="#d00000">R</text><text transform="translate(345.32 536.22) rotate(0.05) scale(1 1.750)" textLength="2.18" lengthAdjust="spacingAndGlyphs" color="#0000d0">M</text><text transform="translate(347.60 537.70) rotate(0.05) scale(1 2.905)" textLength="2.18" lengthAdjust="spacingAndGlyphs" color="#0000d0">M</text><text transform="translate(349.88 537.70) rotate(0.05) scale(1 0.508)" textLength="2.18" lengthAdjust="spacingAndGlyphs" color="#0000d0">V</text><text transform="translate(349.88 536.61) rotate(0.05) scale(1 2.272)" textLength="2.18" lengthAdjust="spacingAndGlyphs" color="#ff00ff">E</text><text transform="translate(352.16 537.70) rotate(0.05) scale(1 2.682)" textLength="2.18" lengthAdjust="spacingAndGlyphs" color="#009000">S</text><text transform="translate(354.44 537.70) rotate(0.05) scale(1 0.574)" textLength="2.18" lengthAdjust="spacingAndGlyphs" color="#ffb300">G</text><text transform="translate(354.44 536.47) rotate(0.05) scale(1 2.086)" textLength="2.18" lengthAdjust="spacingAndGlyphs" color="#009000">N</text><text transform="translate(356.72 537.70) rotate(0.05) scale(1 0.508)" textLength="2.18" lengthAdjust="spacingAndGlyphs" color="#009000">T</text><text transform="translate(356.72 536.61) rotate(0.05) scale(1 2.272)" textLength="2.18" lengthAdjust="spacingAndGlyphs" color="#ffb300">G</text><text transform="translate(359.00 537.70) rotate(0.05) scale(1 0.482)" textLength="2.18" lengthAdjust="spacingAndGlyphs" color="#ff00ff">E</text><text transform="translate(359.00 536.66) rotate(0.05) scale(1 2.346)" textLength="2.18" lengthAdjust="spacingAndGlyphs" color="#009000">S</text><text transform="translate(361.28 537.70) rotate(0.05) scale(1 0.521)" textLength="2.18" lengthAdjust="spacingAndGlyphs" color="#f2e600">P</text><text transform="translate(361.28 536.58) rotate(0.05) scale(1 2.235)" textLength="2.18" lengthAdjust="spacingAndGlyphs" color="#ffb300">G</text><text transform="translate(363.56 537.70) rotate(0.05) scale(1 0.443)" textLength="2.18" lengthAdjust="spacingAndGlyphs" color="#d00000">K</text><text transform="translate(363.56 536.75) rotate(0.05) scale(1 2.458)" textLength="2.18" lengthAdjust="spacingAndGlyphs" color="#0000d0">A</text><text transform="translate(365.84 537.70) rotate(0.05) scale(1 0.717)" textLength="2.18" lengthAdjust="spacingAndGlyphs" color="#009000">S</text><text transform="translate(365.84 536.16) rotate(0.05) scale(1 1.676)" textLength="2.18" lengthAdjust="spacingAndGlyphs" color="#0000d0">M</text></g>
<g font-family='"Liberation Serif", serif' font-size="5.5" fill="#3a3a3a" stroke="#3a3a3a" stroke-width="0.1" letter-spacing="0.6">
<text x="375.3" y="305.95" transform="rotate(0.05 375.3 305.95)">1.6×10<tspan font-size="3.1" dx="-0.6" dy="-2.2" letter-spacing="0.15">−676</tspan></text>
<text x="413.5" y="305.95" transform="rotate(0.05 413.5 305.95)" text-anchor="middle">48</text>
<text x="432.6" y="305.95" transform="rotate(0.05 432.6 305.95)" text-anchor="middle">21</text>
<text x="375.3" y="318.10" transform="rotate(0.05 375.3 318.10)">2.6×10<tspan font-size="3.1" dx="-0.6" dy="-2.2" letter-spacing="0.15">−898</tspan></text>
<text x="413.5" y="318.10" transform="rotate(0.05 413.5 318.10)" text-anchor="middle">40</text>
<text x="432.6" y="318.10" transform="rotate(0.05 432.6 318.10)" text-anchor="middle">29</text>
<text x="375.3" y="330.25" transform="rotate(0.05 375.3 330.25)">3.7×10<tspan font-size="3.1" dx="-0.6" dy="-2.2" letter-spacing="0.15">−838</tspan></text>
<text x="413.5" y="330.25" transform="rotate(0.05 413.5 330.25)" text-anchor="middle">37</text>
<text x="432.6" y="330.25" transform="rotate(0.05 432.6 330.25)" text-anchor="middle">43</text>
<text x="375.3" y="342.40" transform="rotate(0.05 375.3 342.40)">1.6×10<tspan font-size="3.1" dx="-0.6" dy="-2.2" letter-spacing="0.15">−264</tspan></text>
<text x="413.5" y="342.40" transform="rotate(0.05 413.5 342.40)" text-anchor="middle">47</text>
<text x="432.6" y="342.40" transform="rotate(0.05 432.6 342.40)" text-anchor="middle">21</text>
<text x="375.3" y="354.55" transform="rotate(0.05 375.3 354.55)">2.6×10<tspan font-size="3.1" dx="-0.6" dy="-2.2" letter-spacing="0.15">−178</tspan></text>
<text x="413.5" y="354.55" transform="rotate(0.05 413.5 354.55)" text-anchor="middle">50</text>
<text x="432.6" y="354.55" transform="rotate(0.05 432.6 354.55)" text-anchor="middle">15</text>
<text x="375.3" y="366.70" transform="rotate(0.05 375.3 366.70)">2.2×10<tspan font-size="3.1" dx="-0.6" dy="-2.2" letter-spacing="0.15">−107</tspan></text>
<text x="413.5" y="366.70" transform="rotate(0.05 413.5 366.70)" text-anchor="middle">7</text>
<text x="432.6" y="366.70" transform="rotate(0.05 432.6 366.70)" text-anchor="middle">49</text>
<text x="375.3" y="378.85" transform="rotate(0.05 375.3 378.85)">3.2×10<tspan font-size="3.1" dx="-0.6" dy="-2.2" letter-spacing="0.15">−79</tspan></text>
<text x="413.5" y="378.85" transform="rotate(0.05 413.5 378.85)" text-anchor="middle">14</text>
<text x="432.6" y="378.85" transform="rotate(0.05 432.6 378.85)" text-anchor="middle">29</text>
<text x="375.3" y="391.00" transform="rotate(0.05 375.3 391.00)">1.5×10<tspan font-size="3.1" dx="-0.6" dy="-2.2" letter-spacing="0.15">−87</tspan></text>
<text x="413.5" y="391.00" transform="rotate(0.05 413.5 391.00)" text-anchor="middle">4</text>
<text x="432.6" y="391.00" transform="rotate(0.05 432.6 391.00)" text-anchor="middle">41</text>
<text x="375.3" y="403.15" transform="rotate(0.05 375.3 403.15)">6.5×10<tspan font-size="3.1" dx="-0.6" dy="-2.2" letter-spacing="0.15">−86</tspan></text>
<text x="413.5" y="403.15" transform="rotate(0.05 413.5 403.15)" text-anchor="middle">8</text>
<text x="432.6" y="403.15" transform="rotate(0.05 432.6 403.15)" text-anchor="middle">50</text>
<text x="375.3" y="415.30" transform="rotate(0.05 375.3 415.30)">4.4×10<tspan font-size="3.1" dx="-0.6" dy="-2.2" letter-spacing="0.15">−79</tspan></text>
<text x="413.5" y="415.30" transform="rotate(0.05 413.5 415.30)" text-anchor="middle">8</text>
<text x="432.6" y="415.30" transform="rotate(0.05 432.6 415.30)" text-anchor="middle">50</text>
<text x="375.3" y="427.45" transform="rotate(0.05 375.3 427.45)">2.8×10<tspan font-size="3.1" dx="-0.6" dy="-2.2" letter-spacing="0.15">−69</tspan></text>
<text x="413.5" y="427.45" transform="rotate(0.05 413.5 427.45)" text-anchor="middle">6</text>
<text x="432.6" y="427.45" transform="rotate(0.05 432.6 427.45)" text-anchor="middle">43</text>
<text x="375.3" y="439.60" transform="rotate(0.05 375.3 439.60)">4.6×10<tspan font-size="3.1" dx="-0.6" dy="-2.2" letter-spacing="0.15">−65</tspan></text>
<text x="413.5" y="439.60" transform="rotate(0.05 413.5 439.60)" text-anchor="middle">9</text>
<text x="432.6" y="439.60" transform="rotate(0.05 432.6 439.60)" text-anchor="middle">21</text>
<text x="375.3" y="451.75" transform="rotate(0.05 375.3 451.75)">1.7×10<tspan font-size="3.1" dx="-0.6" dy="-2.2" letter-spacing="0.15">−63</tspan></text>
<text x="413.5" y="451.75" transform="rotate(0.05 413.5 451.75)" text-anchor="middle">12</text>
<text x="432.6" y="451.75" transform="rotate(0.05 432.6 451.75)" text-anchor="middle">16</text>
<text x="375.3" y="463.90" transform="rotate(0.05 375.3 463.90)">5.2×10<tspan font-size="3.1" dx="-0.6" dy="-2.2" letter-spacing="0.15">−50</tspan></text>
<text x="413.5" y="463.90" transform="rotate(0.05 413.5 463.90)" text-anchor="middle">3</text>
<text x="432.6" y="463.90" transform="rotate(0.05 432.6 463.90)" text-anchor="middle">50</text>
<text x="375.3" y="476.05" transform="rotate(0.05 375.3 476.05)">3.0×10<tspan font-size="3.1" dx="-0.6" dy="-2.2" letter-spacing="0.15">−44</tspan></text>
<text x="413.5" y="476.05" transform="rotate(0.05 413.5 476.05)" text-anchor="middle">5</text>
<text x="432.6" y="476.05" transform="rotate(0.05 432.6 476.05)" text-anchor="middle">49</text>
<text x="375.3" y="488.20" transform="rotate(0.05 375.3 488.20)">2.5×10<tspan font-size="3.1" dx="-0.6" dy="-2.2" letter-spacing="0.15">−38</tspan></text>
<text x="413.5" y="488.20" transform="rotate(0.05 413.5 488.20)" text-anchor="middle">5</text>
<text x="432.6" y="488.20" transform="rotate(0.05 432.6 488.20)" text-anchor="middle">20</text>
<text x="375.3" y="500.35" transform="rotate(0.05 375.3 500.35)">5.8×10<tspan font-size="3.1" dx="-0.6" dy="-2.2" letter-spacing="0.15">−65</tspan></text>
<text x="413.5" y="500.35" transform="rotate(0.05 413.5 500.35)" text-anchor="middle">9</text>
<text x="432.6" y="500.35" transform="rotate(0.05 432.6 500.35)" text-anchor="middle">29</text>
<text x="375.3" y="512.50" transform="rotate(0.05 375.3 512.50)">2.3×10<tspan font-size="3.1" dx="-0.6" dy="-2.2" letter-spacing="0.15">−29</tspan></text>
<text x="413.5" y="512.50" transform="rotate(0.05 413.5 512.50)" text-anchor="middle">9</text>
<text x="432.6" y="512.50" transform="rotate(0.05 432.6 512.50)" text-anchor="middle">15</text>
<text x="375.3" y="524.65" transform="rotate(0.05 375.3 524.65)">8.1×10<tspan font-size="3.1" dx="-0.6" dy="-2.2" letter-spacing="0.15">−50</tspan></text>
<text x="413.5" y="524.65" transform="rotate(0.05 413.5 524.65)" text-anchor="middle">3</text>
<text x="432.6" y="524.65" transform="rotate(0.05 432.6 524.65)" text-anchor="middle">50</text>
<text x="375.3" y="536.80" transform="rotate(0.05 375.3 536.80)">9.3×10<tspan font-size="3.1" dx="-0.6" dy="-2.2" letter-spacing="0.15">−34</tspan></text>
<text x="413.5" y="536.80" transform="rotate(0.05 413.5 536.80)" text-anchor="middle">4</text>
<text x="432.6" y="536.80" transform="rotate(0.05 432.6 536.80)" text-anchor="middle">49</text>
</g>
<rect x="229.40" y="290.40" width="212.90" height="252.90" fill="none" stroke="#666" stroke-width="1.0"/>
</svg>
</body></html>
